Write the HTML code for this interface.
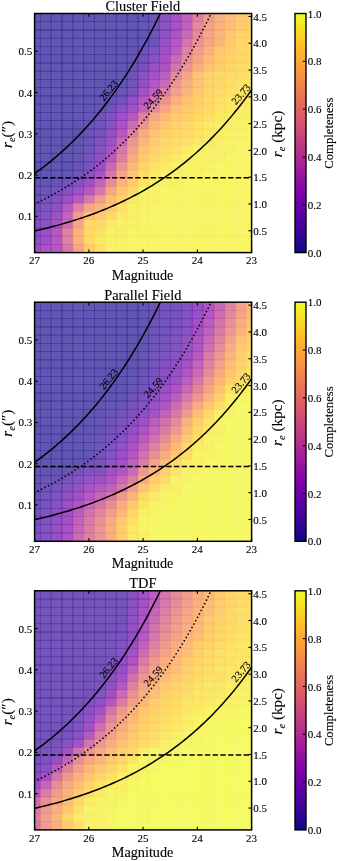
<!DOCTYPE html>
<html><head><meta charset="utf-8"><title>Completeness</title>
<style>html,body{margin:0;padding:0;background:#fff;}body{width:337px;height:861px;overflow:hidden}</style>
</head><body>
<svg width="337" height="861" viewBox="0 0 337 861" style="display:block">
<defs><linearGradient id="cb" x1="0" y1="1" x2="0" y2="0">
<stop offset="0.0000" stop-color="#0d0887"/>
<stop offset="0.0312" stop-color="#220690"/>
<stop offset="0.0625" stop-color="#310597"/>
<stop offset="0.0938" stop-color="#3f049c"/>
<stop offset="0.1250" stop-color="#4c02a1"/>
<stop offset="0.1562" stop-color="#5901a5"/>
<stop offset="0.1875" stop-color="#6600a7"/>
<stop offset="0.2188" stop-color="#7201a8"/>
<stop offset="0.2500" stop-color="#7e03a8"/>
<stop offset="0.2812" stop-color="#8a09a5"/>
<stop offset="0.3125" stop-color="#9511a1"/>
<stop offset="0.3438" stop-color="#a01a9c"/>
<stop offset="0.3750" stop-color="#aa2395"/>
<stop offset="0.4062" stop-color="#b32c8e"/>
<stop offset="0.4375" stop-color="#bc3587"/>
<stop offset="0.4688" stop-color="#c43e7f"/>
<stop offset="0.5000" stop-color="#cc4778"/>
<stop offset="0.5312" stop-color="#d35171"/>
<stop offset="0.5625" stop-color="#da5a6a"/>
<stop offset="0.5938" stop-color="#e06363"/>
<stop offset="0.6250" stop-color="#e66c5c"/>
<stop offset="0.6562" stop-color="#eb7655"/>
<stop offset="0.6875" stop-color="#f0804e"/>
<stop offset="0.7188" stop-color="#f58b47"/>
<stop offset="0.7500" stop-color="#f89540"/>
<stop offset="0.7812" stop-color="#fba139"/>
<stop offset="0.8125" stop-color="#fdac33"/>
<stop offset="0.8438" stop-color="#feb82c"/>
<stop offset="0.8750" stop-color="#fdc527"/>
<stop offset="0.9062" stop-color="#fcd225"/>
<stop offset="0.9375" stop-color="#f8df25"/>
<stop offset="0.9688" stop-color="#f4ed27"/>
<stop offset="1.0000" stop-color="#f0f921"/>
</linearGradient>
<clipPath id="cp"><rect x="34.6" y="13.5" width="217.0" height="239.1"/></clipPath>
</defs>
<rect width="337" height="861" fill="#fff"/>
<g transform="translate(0,0.0)">
<g clip-path="url(#cp)" fill-opacity="0.68" stroke-opacity="0.42" stroke-width="0.62">
<rect x="29.45" y="13.50" width="10.85" height="8.24" fill="#16078a" stroke="#16078a"/>
<rect x="40.30" y="13.50" width="10.85" height="8.24" fill="#16078a" stroke="#16078a"/>
<rect x="51.15" y="13.50" width="10.85" height="8.24" fill="#16078a" stroke="#16078a"/>
<rect x="62.00" y="13.50" width="10.85" height="8.24" fill="#16078a" stroke="#16078a"/>
<rect x="72.85" y="13.50" width="10.85" height="8.24" fill="#16078a" stroke="#16078a"/>
<rect x="83.70" y="13.50" width="10.85" height="8.24" fill="#16078a" stroke="#16078a"/>
<rect x="94.55" y="13.50" width="10.85" height="8.24" fill="#16078a" stroke="#16078a"/>
<rect x="105.40" y="13.50" width="10.85" height="8.24" fill="#16078a" stroke="#16078a"/>
<rect x="116.25" y="13.50" width="10.85" height="8.24" fill="#16078a" stroke="#16078a"/>
<rect x="127.10" y="13.50" width="10.85" height="8.24" fill="#16078a" stroke="#16078a"/>
<rect x="137.95" y="13.50" width="10.85" height="8.24" fill="#1b068d" stroke="#1b068d"/>
<rect x="148.80" y="13.50" width="10.85" height="8.24" fill="#2a0593" stroke="#2a0593"/>
<rect x="159.65" y="13.50" width="10.85" height="8.24" fill="#5102a3" stroke="#5102a3"/>
<rect x="170.50" y="13.50" width="10.85" height="8.24" fill="#7a02a8" stroke="#7a02a8"/>
<rect x="181.35" y="13.50" width="10.85" height="8.24" fill="#9e199d" stroke="#9e199d"/>
<rect x="192.20" y="13.50" width="10.85" height="8.24" fill="#c9447a" stroke="#c9447a"/>
<rect x="203.05" y="13.50" width="10.85" height="8.24" fill="#e76e5b" stroke="#e76e5b"/>
<rect x="213.90" y="13.50" width="10.85" height="8.24" fill="#f68d45" stroke="#f68d45"/>
<rect x="224.75" y="13.50" width="10.85" height="8.24" fill="#fb9f3a" stroke="#fb9f3a"/>
<rect x="235.60" y="13.50" width="10.85" height="8.24" fill="#fdb22f" stroke="#fdb22f"/>
<rect x="246.45" y="13.50" width="10.85" height="8.24" fill="#feba2c" stroke="#feba2c"/>
<rect x="29.45" y="21.74" width="10.85" height="8.24" fill="#16078a" stroke="#16078a"/>
<rect x="40.30" y="21.74" width="10.85" height="8.24" fill="#16078a" stroke="#16078a"/>
<rect x="51.15" y="21.74" width="10.85" height="8.24" fill="#16078a" stroke="#16078a"/>
<rect x="62.00" y="21.74" width="10.85" height="8.24" fill="#16078a" stroke="#16078a"/>
<rect x="72.85" y="21.74" width="10.85" height="8.24" fill="#16078a" stroke="#16078a"/>
<rect x="83.70" y="21.74" width="10.85" height="8.24" fill="#16078a" stroke="#16078a"/>
<rect x="94.55" y="21.74" width="10.85" height="8.24" fill="#16078a" stroke="#16078a"/>
<rect x="105.40" y="21.74" width="10.85" height="8.24" fill="#16078a" stroke="#16078a"/>
<rect x="116.25" y="21.74" width="10.85" height="8.24" fill="#16078a" stroke="#16078a"/>
<rect x="127.10" y="21.74" width="10.85" height="8.24" fill="#16078a" stroke="#16078a"/>
<rect x="137.95" y="21.74" width="10.85" height="8.24" fill="#1b068d" stroke="#1b068d"/>
<rect x="148.80" y="21.74" width="10.85" height="8.24" fill="#2a0593" stroke="#2a0593"/>
<rect x="159.65" y="21.74" width="10.85" height="8.24" fill="#5102a3" stroke="#5102a3"/>
<rect x="170.50" y="21.74" width="10.85" height="8.24" fill="#7a02a8" stroke="#7a02a8"/>
<rect x="181.35" y="21.74" width="10.85" height="8.24" fill="#9e199d" stroke="#9e199d"/>
<rect x="192.20" y="21.74" width="10.85" height="8.24" fill="#d5536f" stroke="#d5536f"/>
<rect x="203.05" y="21.74" width="10.85" height="8.24" fill="#ea7457" stroke="#ea7457"/>
<rect x="213.90" y="21.74" width="10.85" height="8.24" fill="#f68d45" stroke="#f68d45"/>
<rect x="224.75" y="21.74" width="10.85" height="8.24" fill="#fb9f3a" stroke="#fb9f3a"/>
<rect x="235.60" y="21.74" width="10.85" height="8.24" fill="#fdb22f" stroke="#fdb22f"/>
<rect x="246.45" y="21.74" width="10.85" height="8.24" fill="#feba2c" stroke="#feba2c"/>
<rect x="29.45" y="29.99" width="10.85" height="8.24" fill="#16078a" stroke="#16078a"/>
<rect x="40.30" y="29.99" width="10.85" height="8.24" fill="#16078a" stroke="#16078a"/>
<rect x="51.15" y="29.99" width="10.85" height="8.24" fill="#16078a" stroke="#16078a"/>
<rect x="62.00" y="29.99" width="10.85" height="8.24" fill="#16078a" stroke="#16078a"/>
<rect x="72.85" y="29.99" width="10.85" height="8.24" fill="#16078a" stroke="#16078a"/>
<rect x="83.70" y="29.99" width="10.85" height="8.24" fill="#16078a" stroke="#16078a"/>
<rect x="94.55" y="29.99" width="10.85" height="8.24" fill="#16078a" stroke="#16078a"/>
<rect x="105.40" y="29.99" width="10.85" height="8.24" fill="#16078a" stroke="#16078a"/>
<rect x="116.25" y="29.99" width="10.85" height="8.24" fill="#16078a" stroke="#16078a"/>
<rect x="127.10" y="29.99" width="10.85" height="8.24" fill="#16078a" stroke="#16078a"/>
<rect x="137.95" y="29.99" width="10.85" height="8.24" fill="#1b068d" stroke="#1b068d"/>
<rect x="148.80" y="29.99" width="10.85" height="8.24" fill="#2a0593" stroke="#2a0593"/>
<rect x="159.65" y="29.99" width="10.85" height="8.24" fill="#5901a5" stroke="#5901a5"/>
<rect x="170.50" y="29.99" width="10.85" height="8.24" fill="#8104a7" stroke="#8104a7"/>
<rect x="181.35" y="29.99" width="10.85" height="8.24" fill="#ad2793" stroke="#ad2793"/>
<rect x="192.20" y="29.99" width="10.85" height="8.24" fill="#d5536f" stroke="#d5536f"/>
<rect x="203.05" y="29.99" width="10.85" height="8.24" fill="#ef7e50" stroke="#ef7e50"/>
<rect x="213.90" y="29.99" width="10.85" height="8.24" fill="#f89540" stroke="#f89540"/>
<rect x="224.75" y="29.99" width="10.85" height="8.24" fill="#fdab33" stroke="#fdab33"/>
<rect x="235.60" y="29.99" width="10.85" height="8.24" fill="#feba2c" stroke="#feba2c"/>
<rect x="246.45" y="29.99" width="10.85" height="8.24" fill="#fdc627" stroke="#fdc627"/>
<rect x="29.45" y="38.23" width="10.85" height="8.24" fill="#16078a" stroke="#16078a"/>
<rect x="40.30" y="38.23" width="10.85" height="8.24" fill="#16078a" stroke="#16078a"/>
<rect x="51.15" y="38.23" width="10.85" height="8.24" fill="#16078a" stroke="#16078a"/>
<rect x="62.00" y="38.23" width="10.85" height="8.24" fill="#16078a" stroke="#16078a"/>
<rect x="72.85" y="38.23" width="10.85" height="8.24" fill="#16078a" stroke="#16078a"/>
<rect x="83.70" y="38.23" width="10.85" height="8.24" fill="#16078a" stroke="#16078a"/>
<rect x="94.55" y="38.23" width="10.85" height="8.24" fill="#16078a" stroke="#16078a"/>
<rect x="105.40" y="38.23" width="10.85" height="8.24" fill="#16078a" stroke="#16078a"/>
<rect x="116.25" y="38.23" width="10.85" height="8.24" fill="#16078a" stroke="#16078a"/>
<rect x="127.10" y="38.23" width="10.85" height="8.24" fill="#16078a" stroke="#16078a"/>
<rect x="137.95" y="38.23" width="10.85" height="8.24" fill="#1b068d" stroke="#1b068d"/>
<rect x="148.80" y="38.23" width="10.85" height="8.24" fill="#2a0593" stroke="#2a0593"/>
<rect x="159.65" y="38.23" width="10.85" height="8.24" fill="#6600a7" stroke="#6600a7"/>
<rect x="170.50" y="38.23" width="10.85" height="8.24" fill="#8d0ba5" stroke="#8d0ba5"/>
<rect x="181.35" y="38.23" width="10.85" height="8.24" fill="#bc3587" stroke="#bc3587"/>
<rect x="192.20" y="38.23" width="10.85" height="8.24" fill="#df6263" stroke="#df6263"/>
<rect x="203.05" y="38.23" width="10.85" height="8.24" fill="#ef7e50" stroke="#ef7e50"/>
<rect x="213.90" y="38.23" width="10.85" height="8.24" fill="#f89540" stroke="#f89540"/>
<rect x="224.75" y="38.23" width="10.85" height="8.24" fill="#fdb22f" stroke="#fdb22f"/>
<rect x="235.60" y="38.23" width="10.85" height="8.24" fill="#fdc229" stroke="#fdc229"/>
<rect x="246.45" y="38.23" width="10.85" height="8.24" fill="#fdca26" stroke="#fdca26"/>
<rect x="29.45" y="46.48" width="10.85" height="8.24" fill="#16078a" stroke="#16078a"/>
<rect x="40.30" y="46.48" width="10.85" height="8.24" fill="#16078a" stroke="#16078a"/>
<rect x="51.15" y="46.48" width="10.85" height="8.24" fill="#16078a" stroke="#16078a"/>
<rect x="62.00" y="46.48" width="10.85" height="8.24" fill="#16078a" stroke="#16078a"/>
<rect x="72.85" y="46.48" width="10.85" height="8.24" fill="#16078a" stroke="#16078a"/>
<rect x="83.70" y="46.48" width="10.85" height="8.24" fill="#16078a" stroke="#16078a"/>
<rect x="94.55" y="46.48" width="10.85" height="8.24" fill="#16078a" stroke="#16078a"/>
<rect x="105.40" y="46.48" width="10.85" height="8.24" fill="#16078a" stroke="#16078a"/>
<rect x="116.25" y="46.48" width="10.85" height="8.24" fill="#16078a" stroke="#16078a"/>
<rect x="127.10" y="46.48" width="10.85" height="8.24" fill="#1b068d" stroke="#1b068d"/>
<rect x="137.95" y="46.48" width="10.85" height="8.24" fill="#260591" stroke="#260591"/>
<rect x="148.80" y="46.48" width="10.85" height="8.24" fill="#38049a" stroke="#38049a"/>
<rect x="159.65" y="46.48" width="10.85" height="8.24" fill="#6a00a8" stroke="#6a00a8"/>
<rect x="170.50" y="46.48" width="10.85" height="8.24" fill="#9410a2" stroke="#9410a2"/>
<rect x="181.35" y="46.48" width="10.85" height="8.24" fill="#cc4778" stroke="#cc4778"/>
<rect x="192.20" y="46.48" width="10.85" height="8.24" fill="#e76e5b" stroke="#e76e5b"/>
<rect x="203.05" y="46.48" width="10.85" height="8.24" fill="#f68d45" stroke="#f68d45"/>
<rect x="213.90" y="46.48" width="10.85" height="8.24" fill="#fdab33" stroke="#fdab33"/>
<rect x="224.75" y="46.48" width="10.85" height="8.24" fill="#feba2c" stroke="#feba2c"/>
<rect x="235.60" y="46.48" width="10.85" height="8.24" fill="#fdc229" stroke="#fdc229"/>
<rect x="246.45" y="46.48" width="10.85" height="8.24" fill="#fdca26" stroke="#fdca26"/>
<rect x="29.45" y="54.72" width="10.85" height="8.24" fill="#16078a" stroke="#16078a"/>
<rect x="40.30" y="54.72" width="10.85" height="8.24" fill="#16078a" stroke="#16078a"/>
<rect x="51.15" y="54.72" width="10.85" height="8.24" fill="#16078a" stroke="#16078a"/>
<rect x="62.00" y="54.72" width="10.85" height="8.24" fill="#16078a" stroke="#16078a"/>
<rect x="72.85" y="54.72" width="10.85" height="8.24" fill="#16078a" stroke="#16078a"/>
<rect x="83.70" y="54.72" width="10.85" height="8.24" fill="#16078a" stroke="#16078a"/>
<rect x="94.55" y="54.72" width="10.85" height="8.24" fill="#16078a" stroke="#16078a"/>
<rect x="105.40" y="54.72" width="10.85" height="8.24" fill="#16078a" stroke="#16078a"/>
<rect x="116.25" y="54.72" width="10.85" height="8.24" fill="#16078a" stroke="#16078a"/>
<rect x="127.10" y="54.72" width="10.85" height="8.24" fill="#1b068d" stroke="#1b068d"/>
<rect x="137.95" y="54.72" width="10.85" height="8.24" fill="#2a0593" stroke="#2a0593"/>
<rect x="148.80" y="54.72" width="10.85" height="8.24" fill="#5102a3" stroke="#5102a3"/>
<rect x="159.65" y="54.72" width="10.85" height="8.24" fill="#7a02a8" stroke="#7a02a8"/>
<rect x="170.50" y="54.72" width="10.85" height="8.24" fill="#ad2793" stroke="#ad2793"/>
<rect x="181.35" y="54.72" width="10.85" height="8.24" fill="#d6556d" stroke="#d6556d"/>
<rect x="192.20" y="54.72" width="10.85" height="8.24" fill="#ef7e50" stroke="#ef7e50"/>
<rect x="203.05" y="54.72" width="10.85" height="8.24" fill="#fa9c3c" stroke="#fa9c3c"/>
<rect x="213.90" y="54.72" width="10.85" height="8.24" fill="#fdb22f" stroke="#fdb22f"/>
<rect x="224.75" y="54.72" width="10.85" height="8.24" fill="#febe2a" stroke="#febe2a"/>
<rect x="235.60" y="54.72" width="10.85" height="8.24" fill="#fdc627" stroke="#fdc627"/>
<rect x="246.45" y="54.72" width="10.85" height="8.24" fill="#fdca26" stroke="#fdca26"/>
<rect x="29.45" y="62.97" width="10.85" height="8.24" fill="#16078a" stroke="#16078a"/>
<rect x="40.30" y="62.97" width="10.85" height="8.24" fill="#16078a" stroke="#16078a"/>
<rect x="51.15" y="62.97" width="10.85" height="8.24" fill="#16078a" stroke="#16078a"/>
<rect x="62.00" y="62.97" width="10.85" height="8.24" fill="#16078a" stroke="#16078a"/>
<rect x="72.85" y="62.97" width="10.85" height="8.24" fill="#16078a" stroke="#16078a"/>
<rect x="83.70" y="62.97" width="10.85" height="8.24" fill="#16078a" stroke="#16078a"/>
<rect x="94.55" y="62.97" width="10.85" height="8.24" fill="#16078a" stroke="#16078a"/>
<rect x="105.40" y="62.97" width="10.85" height="8.24" fill="#16078a" stroke="#16078a"/>
<rect x="116.25" y="62.97" width="10.85" height="8.24" fill="#16078a" stroke="#16078a"/>
<rect x="127.10" y="62.97" width="10.85" height="8.24" fill="#20068f" stroke="#20068f"/>
<rect x="137.95" y="62.97" width="10.85" height="8.24" fill="#330597" stroke="#330597"/>
<rect x="148.80" y="62.97" width="10.85" height="8.24" fill="#6600a7" stroke="#6600a7"/>
<rect x="159.65" y="62.97" width="10.85" height="8.24" fill="#8104a7" stroke="#8104a7"/>
<rect x="170.50" y="62.97" width="10.85" height="8.24" fill="#bc3587" stroke="#bc3587"/>
<rect x="181.35" y="62.97" width="10.85" height="8.24" fill="#e16462" stroke="#e16462"/>
<rect x="192.20" y="62.97" width="10.85" height="8.24" fill="#f58b47" stroke="#f58b47"/>
<rect x="203.05" y="62.97" width="10.85" height="8.24" fill="#fca636" stroke="#fca636"/>
<rect x="213.90" y="62.97" width="10.85" height="8.24" fill="#feb82c" stroke="#feb82c"/>
<rect x="224.75" y="62.97" width="10.85" height="8.24" fill="#fdc229" stroke="#fdc229"/>
<rect x="235.60" y="62.97" width="10.85" height="8.24" fill="#fdca26" stroke="#fdca26"/>
<rect x="246.45" y="62.97" width="10.85" height="8.24" fill="#fcd225" stroke="#fcd225"/>
<rect x="29.45" y="71.21" width="10.85" height="8.24" fill="#16078a" stroke="#16078a"/>
<rect x="40.30" y="71.21" width="10.85" height="8.24" fill="#16078a" stroke="#16078a"/>
<rect x="51.15" y="71.21" width="10.85" height="8.24" fill="#16078a" stroke="#16078a"/>
<rect x="62.00" y="71.21" width="10.85" height="8.24" fill="#16078a" stroke="#16078a"/>
<rect x="72.85" y="71.21" width="10.85" height="8.24" fill="#16078a" stroke="#16078a"/>
<rect x="83.70" y="71.21" width="10.85" height="8.24" fill="#16078a" stroke="#16078a"/>
<rect x="94.55" y="71.21" width="10.85" height="8.24" fill="#16078a" stroke="#16078a"/>
<rect x="105.40" y="71.21" width="10.85" height="8.24" fill="#16078a" stroke="#16078a"/>
<rect x="116.25" y="71.21" width="10.85" height="8.24" fill="#1b068d" stroke="#1b068d"/>
<rect x="127.10" y="71.21" width="10.85" height="8.24" fill="#260591" stroke="#260591"/>
<rect x="137.95" y="71.21" width="10.85" height="8.24" fill="#5102a3" stroke="#5102a3"/>
<rect x="148.80" y="71.21" width="10.85" height="8.24" fill="#7a02a8" stroke="#7a02a8"/>
<rect x="159.65" y="71.21" width="10.85" height="8.24" fill="#9613a1" stroke="#9613a1"/>
<rect x="170.50" y="71.21" width="10.85" height="8.24" fill="#d5536f" stroke="#d5536f"/>
<rect x="181.35" y="71.21" width="10.85" height="8.24" fill="#ef7e50" stroke="#ef7e50"/>
<rect x="192.20" y="71.21" width="10.85" height="8.24" fill="#fca636" stroke="#fca636"/>
<rect x="203.05" y="71.21" width="10.85" height="8.24" fill="#febb2b" stroke="#febb2b"/>
<rect x="213.90" y="71.21" width="10.85" height="8.24" fill="#fdc527" stroke="#fdc527"/>
<rect x="224.75" y="71.21" width="10.85" height="8.24" fill="#fdca26" stroke="#fdca26"/>
<rect x="235.60" y="71.21" width="10.85" height="8.24" fill="#fcce25" stroke="#fcce25"/>
<rect x="246.45" y="71.21" width="10.85" height="8.24" fill="#fbd324" stroke="#fbd324"/>
<rect x="29.45" y="79.46" width="10.85" height="8.24" fill="#16078a" stroke="#16078a"/>
<rect x="40.30" y="79.46" width="10.85" height="8.24" fill="#16078a" stroke="#16078a"/>
<rect x="51.15" y="79.46" width="10.85" height="8.24" fill="#16078a" stroke="#16078a"/>
<rect x="62.00" y="79.46" width="10.85" height="8.24" fill="#16078a" stroke="#16078a"/>
<rect x="72.85" y="79.46" width="10.85" height="8.24" fill="#16078a" stroke="#16078a"/>
<rect x="83.70" y="79.46" width="10.85" height="8.24" fill="#16078a" stroke="#16078a"/>
<rect x="94.55" y="79.46" width="10.85" height="8.24" fill="#16078a" stroke="#16078a"/>
<rect x="105.40" y="79.46" width="10.85" height="8.24" fill="#16078a" stroke="#16078a"/>
<rect x="116.25" y="79.46" width="10.85" height="8.24" fill="#1b068d" stroke="#1b068d"/>
<rect x="127.10" y="79.46" width="10.85" height="8.24" fill="#2a0593" stroke="#2a0593"/>
<rect x="137.95" y="79.46" width="10.85" height="8.24" fill="#5901a5" stroke="#5901a5"/>
<rect x="148.80" y="79.46" width="10.85" height="8.24" fill="#8d0ba5" stroke="#8d0ba5"/>
<rect x="159.65" y="79.46" width="10.85" height="8.24" fill="#ad2793" stroke="#ad2793"/>
<rect x="170.50" y="79.46" width="10.85" height="8.24" fill="#e16462" stroke="#e16462"/>
<rect x="181.35" y="79.46" width="10.85" height="8.24" fill="#f58b47" stroke="#f58b47"/>
<rect x="192.20" y="79.46" width="10.85" height="8.24" fill="#fca636" stroke="#fca636"/>
<rect x="203.05" y="79.46" width="10.85" height="8.24" fill="#feba2c" stroke="#feba2c"/>
<rect x="213.90" y="79.46" width="10.85" height="8.24" fill="#fdc627" stroke="#fdc627"/>
<rect x="224.75" y="79.46" width="10.85" height="8.24" fill="#fcce25" stroke="#fcce25"/>
<rect x="235.60" y="79.46" width="10.85" height="8.24" fill="#fbd324" stroke="#fbd324"/>
<rect x="246.45" y="79.46" width="10.85" height="8.24" fill="#fada24" stroke="#fada24"/>
<rect x="29.45" y="87.70" width="10.85" height="8.24" fill="#16078a" stroke="#16078a"/>
<rect x="40.30" y="87.70" width="10.85" height="8.24" fill="#16078a" stroke="#16078a"/>
<rect x="51.15" y="87.70" width="10.85" height="8.24" fill="#16078a" stroke="#16078a"/>
<rect x="62.00" y="87.70" width="10.85" height="8.24" fill="#16078a" stroke="#16078a"/>
<rect x="72.85" y="87.70" width="10.85" height="8.24" fill="#16078a" stroke="#16078a"/>
<rect x="83.70" y="87.70" width="10.85" height="8.24" fill="#16078a" stroke="#16078a"/>
<rect x="94.55" y="87.70" width="10.85" height="8.24" fill="#16078a" stroke="#16078a"/>
<rect x="105.40" y="87.70" width="10.85" height="8.24" fill="#1b068d" stroke="#1b068d"/>
<rect x="116.25" y="87.70" width="10.85" height="8.24" fill="#260591" stroke="#260591"/>
<rect x="127.10" y="87.70" width="10.85" height="8.24" fill="#38049a" stroke="#38049a"/>
<rect x="137.95" y="87.70" width="10.85" height="8.24" fill="#7201a8" stroke="#7201a8"/>
<rect x="148.80" y="87.70" width="10.85" height="8.24" fill="#9e199d" stroke="#9e199d"/>
<rect x="159.65" y="87.70" width="10.85" height="8.24" fill="#c9447a" stroke="#c9447a"/>
<rect x="170.50" y="87.70" width="10.85" height="8.24" fill="#ea7457" stroke="#ea7457"/>
<rect x="181.35" y="87.70" width="10.85" height="8.24" fill="#f89540" stroke="#f89540"/>
<rect x="192.20" y="87.70" width="10.85" height="8.24" fill="#fdae32" stroke="#fdae32"/>
<rect x="203.05" y="87.70" width="10.85" height="8.24" fill="#fdc229" stroke="#fdc229"/>
<rect x="213.90" y="87.70" width="10.85" height="8.24" fill="#fdca26" stroke="#fdca26"/>
<rect x="224.75" y="87.70" width="10.85" height="8.24" fill="#fbd324" stroke="#fbd324"/>
<rect x="235.60" y="87.70" width="10.85" height="8.24" fill="#fada24" stroke="#fada24"/>
<rect x="246.45" y="87.70" width="10.85" height="8.24" fill="#f8df25" stroke="#f8df25"/>
<rect x="29.45" y="95.95" width="10.85" height="8.24" fill="#16078a" stroke="#16078a"/>
<rect x="40.30" y="95.95" width="10.85" height="8.24" fill="#16078a" stroke="#16078a"/>
<rect x="51.15" y="95.95" width="10.85" height="8.24" fill="#16078a" stroke="#16078a"/>
<rect x="62.00" y="95.95" width="10.85" height="8.24" fill="#16078a" stroke="#16078a"/>
<rect x="72.85" y="95.95" width="10.85" height="8.24" fill="#16078a" stroke="#16078a"/>
<rect x="83.70" y="95.95" width="10.85" height="8.24" fill="#16078a" stroke="#16078a"/>
<rect x="94.55" y="95.95" width="10.85" height="8.24" fill="#1b068d" stroke="#1b068d"/>
<rect x="105.40" y="95.95" width="10.85" height="8.24" fill="#20068f" stroke="#20068f"/>
<rect x="116.25" y="95.95" width="10.85" height="8.24" fill="#2f0596" stroke="#2f0596"/>
<rect x="127.10" y="95.95" width="10.85" height="8.24" fill="#5901a5" stroke="#5901a5"/>
<rect x="137.95" y="95.95" width="10.85" height="8.24" fill="#8d0ba5" stroke="#8d0ba5"/>
<rect x="148.80" y="95.95" width="10.85" height="8.24" fill="#b6308b" stroke="#b6308b"/>
<rect x="159.65" y="95.95" width="10.85" height="8.24" fill="#df6263" stroke="#df6263"/>
<rect x="170.50" y="95.95" width="10.85" height="8.24" fill="#f58b47" stroke="#f58b47"/>
<rect x="181.35" y="95.95" width="10.85" height="8.24" fill="#fca636" stroke="#fca636"/>
<rect x="192.20" y="95.95" width="10.85" height="8.24" fill="#feb82c" stroke="#feb82c"/>
<rect x="203.05" y="95.95" width="10.85" height="8.24" fill="#fdc527" stroke="#fdc527"/>
<rect x="213.90" y="95.95" width="10.85" height="8.24" fill="#fccd25" stroke="#fccd25"/>
<rect x="224.75" y="95.95" width="10.85" height="8.24" fill="#fbd724" stroke="#fbd724"/>
<rect x="235.60" y="95.95" width="10.85" height="8.24" fill="#f9dc24" stroke="#f9dc24"/>
<rect x="246.45" y="95.95" width="10.85" height="8.24" fill="#f7e225" stroke="#f7e225"/>
<rect x="29.45" y="104.19" width="10.85" height="8.24" fill="#16078a" stroke="#16078a"/>
<rect x="40.30" y="104.19" width="10.85" height="8.24" fill="#16078a" stroke="#16078a"/>
<rect x="51.15" y="104.19" width="10.85" height="8.24" fill="#16078a" stroke="#16078a"/>
<rect x="62.00" y="104.19" width="10.85" height="8.24" fill="#16078a" stroke="#16078a"/>
<rect x="72.85" y="104.19" width="10.85" height="8.24" fill="#16078a" stroke="#16078a"/>
<rect x="83.70" y="104.19" width="10.85" height="8.24" fill="#16078a" stroke="#16078a"/>
<rect x="94.55" y="104.19" width="10.85" height="8.24" fill="#20068f" stroke="#20068f"/>
<rect x="105.40" y="104.19" width="10.85" height="8.24" fill="#2a0593" stroke="#2a0593"/>
<rect x="116.25" y="104.19" width="10.85" height="8.24" fill="#5102a3" stroke="#5102a3"/>
<rect x="127.10" y="104.19" width="10.85" height="8.24" fill="#7201a8" stroke="#7201a8"/>
<rect x="137.95" y="104.19" width="10.85" height="8.24" fill="#9e199d" stroke="#9e199d"/>
<rect x="148.80" y="104.19" width="10.85" height="8.24" fill="#d5536f" stroke="#d5536f"/>
<rect x="159.65" y="104.19" width="10.85" height="8.24" fill="#ef7e50" stroke="#ef7e50"/>
<rect x="170.50" y="104.19" width="10.85" height="8.24" fill="#fb9f3a" stroke="#fb9f3a"/>
<rect x="181.35" y="104.19" width="10.85" height="8.24" fill="#fdb22f" stroke="#fdb22f"/>
<rect x="192.20" y="104.19" width="10.85" height="8.24" fill="#fec029" stroke="#fec029"/>
<rect x="203.05" y="104.19" width="10.85" height="8.24" fill="#fdca26" stroke="#fdca26"/>
<rect x="213.90" y="104.19" width="10.85" height="8.24" fill="#fbd324" stroke="#fbd324"/>
<rect x="224.75" y="104.19" width="10.85" height="8.24" fill="#f9dc24" stroke="#f9dc24"/>
<rect x="235.60" y="104.19" width="10.85" height="8.24" fill="#f7e225" stroke="#f7e225"/>
<rect x="246.45" y="104.19" width="10.85" height="8.24" fill="#f6e826" stroke="#f6e826"/>
<rect x="29.45" y="112.44" width="10.85" height="8.24" fill="#16078a" stroke="#16078a"/>
<rect x="40.30" y="112.44" width="10.85" height="8.24" fill="#16078a" stroke="#16078a"/>
<rect x="51.15" y="112.44" width="10.85" height="8.24" fill="#16078a" stroke="#16078a"/>
<rect x="62.00" y="112.44" width="10.85" height="8.24" fill="#16078a" stroke="#16078a"/>
<rect x="72.85" y="112.44" width="10.85" height="8.24" fill="#16078a" stroke="#16078a"/>
<rect x="83.70" y="112.44" width="10.85" height="8.24" fill="#1b068d" stroke="#1b068d"/>
<rect x="94.55" y="112.44" width="10.85" height="8.24" fill="#2a0593" stroke="#2a0593"/>
<rect x="105.40" y="112.44" width="10.85" height="8.24" fill="#41049d" stroke="#41049d"/>
<rect x="116.25" y="112.44" width="10.85" height="8.24" fill="#6a00a8" stroke="#6a00a8"/>
<rect x="127.10" y="112.44" width="10.85" height="8.24" fill="#8f0da4" stroke="#8f0da4"/>
<rect x="137.95" y="112.44" width="10.85" height="8.24" fill="#cc4778" stroke="#cc4778"/>
<rect x="148.80" y="112.44" width="10.85" height="8.24" fill="#ef7e50" stroke="#ef7e50"/>
<rect x="159.65" y="112.44" width="10.85" height="8.24" fill="#f9983e" stroke="#f9983e"/>
<rect x="170.50" y="112.44" width="10.85" height="8.24" fill="#fdb130" stroke="#fdb130"/>
<rect x="181.35" y="112.44" width="10.85" height="8.24" fill="#febb2b" stroke="#febb2b"/>
<rect x="192.20" y="112.44" width="10.85" height="8.24" fill="#fdc827" stroke="#fdc827"/>
<rect x="203.05" y="112.44" width="10.85" height="8.24" fill="#fbd324" stroke="#fbd324"/>
<rect x="213.90" y="112.44" width="10.85" height="8.24" fill="#f9dc24" stroke="#f9dc24"/>
<rect x="224.75" y="112.44" width="10.85" height="8.24" fill="#f7e225" stroke="#f7e225"/>
<rect x="235.60" y="112.44" width="10.85" height="8.24" fill="#f6e826" stroke="#f6e826"/>
<rect x="246.45" y="112.44" width="10.85" height="8.24" fill="#f5eb27" stroke="#f5eb27"/>
<rect x="29.45" y="120.68" width="10.85" height="8.24" fill="#16078a" stroke="#16078a"/>
<rect x="40.30" y="120.68" width="10.85" height="8.24" fill="#16078a" stroke="#16078a"/>
<rect x="51.15" y="120.68" width="10.85" height="8.24" fill="#16078a" stroke="#16078a"/>
<rect x="62.00" y="120.68" width="10.85" height="8.24" fill="#16078a" stroke="#16078a"/>
<rect x="72.85" y="120.68" width="10.85" height="8.24" fill="#16078a" stroke="#16078a"/>
<rect x="83.70" y="120.68" width="10.85" height="8.24" fill="#20068f" stroke="#20068f"/>
<rect x="94.55" y="120.68" width="10.85" height="8.24" fill="#2f0596" stroke="#2f0596"/>
<rect x="105.40" y="120.68" width="10.85" height="8.24" fill="#4903a0" stroke="#4903a0"/>
<rect x="116.25" y="120.68" width="10.85" height="8.24" fill="#7e03a8" stroke="#7e03a8"/>
<rect x="127.10" y="120.68" width="10.85" height="8.24" fill="#b12a90" stroke="#b12a90"/>
<rect x="137.95" y="120.68" width="10.85" height="8.24" fill="#e16462" stroke="#e16462"/>
<rect x="148.80" y="120.68" width="10.85" height="8.24" fill="#f89540" stroke="#f89540"/>
<rect x="159.65" y="120.68" width="10.85" height="8.24" fill="#fdab33" stroke="#fdab33"/>
<rect x="170.50" y="120.68" width="10.85" height="8.24" fill="#feba2c" stroke="#feba2c"/>
<rect x="181.35" y="120.68" width="10.85" height="8.24" fill="#fdc527" stroke="#fdc527"/>
<rect x="192.20" y="120.68" width="10.85" height="8.24" fill="#fcd225" stroke="#fcd225"/>
<rect x="203.05" y="120.68" width="10.85" height="8.24" fill="#f9dc24" stroke="#f9dc24"/>
<rect x="213.90" y="120.68" width="10.85" height="8.24" fill="#f7e225" stroke="#f7e225"/>
<rect x="224.75" y="120.68" width="10.85" height="8.24" fill="#f6e826" stroke="#f6e826"/>
<rect x="235.60" y="120.68" width="10.85" height="8.24" fill="#f5eb27" stroke="#f5eb27"/>
<rect x="246.45" y="120.68" width="10.85" height="8.24" fill="#f3ee27" stroke="#f3ee27"/>
<rect x="29.45" y="128.93" width="10.85" height="8.24" fill="#16078a" stroke="#16078a"/>
<rect x="40.30" y="128.93" width="10.85" height="8.24" fill="#16078a" stroke="#16078a"/>
<rect x="51.15" y="128.93" width="10.85" height="8.24" fill="#16078a" stroke="#16078a"/>
<rect x="62.00" y="128.93" width="10.85" height="8.24" fill="#16078a" stroke="#16078a"/>
<rect x="72.85" y="128.93" width="10.85" height="8.24" fill="#16078a" stroke="#16078a"/>
<rect x="83.70" y="128.93" width="10.85" height="8.24" fill="#20068f" stroke="#20068f"/>
<rect x="94.55" y="128.93" width="10.85" height="8.24" fill="#38049a" stroke="#38049a"/>
<rect x="105.40" y="128.93" width="10.85" height="8.24" fill="#6300a7" stroke="#6300a7"/>
<rect x="116.25" y="128.93" width="10.85" height="8.24" fill="#8f0da4" stroke="#8f0da4"/>
<rect x="127.10" y="128.93" width="10.85" height="8.24" fill="#cc4778" stroke="#cc4778"/>
<rect x="137.95" y="128.93" width="10.85" height="8.24" fill="#f2844b" stroke="#f2844b"/>
<rect x="148.80" y="128.93" width="10.85" height="8.24" fill="#fca636" stroke="#fca636"/>
<rect x="159.65" y="128.93" width="10.85" height="8.24" fill="#feb72d" stroke="#feb72d"/>
<rect x="170.50" y="128.93" width="10.85" height="8.24" fill="#fdc229" stroke="#fdc229"/>
<rect x="181.35" y="128.93" width="10.85" height="8.24" fill="#fdca26" stroke="#fdca26"/>
<rect x="192.20" y="128.93" width="10.85" height="8.24" fill="#fbd324" stroke="#fbd324"/>
<rect x="203.05" y="128.93" width="10.85" height="8.24" fill="#f8df25" stroke="#f8df25"/>
<rect x="213.90" y="128.93" width="10.85" height="8.24" fill="#f6e626" stroke="#f6e626"/>
<rect x="224.75" y="128.93" width="10.85" height="8.24" fill="#f5eb27" stroke="#f5eb27"/>
<rect x="235.60" y="128.93" width="10.85" height="8.24" fill="#f3ee27" stroke="#f3ee27"/>
<rect x="246.45" y="128.93" width="10.85" height="8.24" fill="#f3f027" stroke="#f3f027"/>
<rect x="29.45" y="137.17" width="10.85" height="8.24" fill="#16078a" stroke="#16078a"/>
<rect x="40.30" y="137.17" width="10.85" height="8.24" fill="#16078a" stroke="#16078a"/>
<rect x="51.15" y="137.17" width="10.85" height="8.24" fill="#16078a" stroke="#16078a"/>
<rect x="62.00" y="137.17" width="10.85" height="8.24" fill="#16078a" stroke="#16078a"/>
<rect x="72.85" y="137.17" width="10.85" height="8.24" fill="#16078a" stroke="#16078a"/>
<rect x="83.70" y="137.17" width="10.85" height="8.24" fill="#260591" stroke="#260591"/>
<rect x="94.55" y="137.17" width="10.85" height="8.24" fill="#41049d" stroke="#41049d"/>
<rect x="105.40" y="137.17" width="10.85" height="8.24" fill="#6a00a8" stroke="#6a00a8"/>
<rect x="116.25" y="137.17" width="10.85" height="8.24" fill="#ab2494" stroke="#ab2494"/>
<rect x="127.10" y="137.17" width="10.85" height="8.24" fill="#e16462" stroke="#e16462"/>
<rect x="137.95" y="137.17" width="10.85" height="8.24" fill="#f89540" stroke="#f89540"/>
<rect x="148.80" y="137.17" width="10.85" height="8.24" fill="#fdb22f" stroke="#fdb22f"/>
<rect x="159.65" y="137.17" width="10.85" height="8.24" fill="#fdc229" stroke="#fdc229"/>
<rect x="170.50" y="137.17" width="10.85" height="8.24" fill="#fdca26" stroke="#fdca26"/>
<rect x="181.35" y="137.17" width="10.85" height="8.24" fill="#fcd225" stroke="#fcd225"/>
<rect x="192.20" y="137.17" width="10.85" height="8.24" fill="#fada24" stroke="#fada24"/>
<rect x="203.05" y="137.17" width="10.85" height="8.24" fill="#f7e225" stroke="#f7e225"/>
<rect x="213.90" y="137.17" width="10.85" height="8.24" fill="#f6e826" stroke="#f6e826"/>
<rect x="224.75" y="137.17" width="10.85" height="8.24" fill="#f5eb27" stroke="#f5eb27"/>
<rect x="235.60" y="137.17" width="10.85" height="8.24" fill="#f3ee27" stroke="#f3ee27"/>
<rect x="246.45" y="137.17" width="10.85" height="8.24" fill="#f3f027" stroke="#f3f027"/>
<rect x="29.45" y="145.42" width="10.85" height="8.24" fill="#16078a" stroke="#16078a"/>
<rect x="40.30" y="145.42" width="10.85" height="8.24" fill="#16078a" stroke="#16078a"/>
<rect x="51.15" y="145.42" width="10.85" height="8.24" fill="#16078a" stroke="#16078a"/>
<rect x="62.00" y="145.42" width="10.85" height="8.24" fill="#16078a" stroke="#16078a"/>
<rect x="72.85" y="145.42" width="10.85" height="8.24" fill="#16078a" stroke="#16078a"/>
<rect x="83.70" y="145.42" width="10.85" height="8.24" fill="#2a0593" stroke="#2a0593"/>
<rect x="94.55" y="145.42" width="10.85" height="8.24" fill="#4903a0" stroke="#4903a0"/>
<rect x="105.40" y="145.42" width="10.85" height="8.24" fill="#7e03a8" stroke="#7e03a8"/>
<rect x="116.25" y="145.42" width="10.85" height="8.24" fill="#bf3984" stroke="#bf3984"/>
<rect x="127.10" y="145.42" width="10.85" height="8.24" fill="#ea7457" stroke="#ea7457"/>
<rect x="137.95" y="145.42" width="10.85" height="8.24" fill="#fca338" stroke="#fca338"/>
<rect x="148.80" y="145.42" width="10.85" height="8.24" fill="#febe2a" stroke="#febe2a"/>
<rect x="159.65" y="145.42" width="10.85" height="8.24" fill="#fdca26" stroke="#fdca26"/>
<rect x="170.50" y="145.42" width="10.85" height="8.24" fill="#fbd324" stroke="#fbd324"/>
<rect x="181.35" y="145.42" width="10.85" height="8.24" fill="#f8df25" stroke="#f8df25"/>
<rect x="192.20" y="145.42" width="10.85" height="8.24" fill="#f5eb27" stroke="#f5eb27"/>
<rect x="203.05" y="145.42" width="10.85" height="8.24" fill="#f5eb27" stroke="#f5eb27"/>
<rect x="213.90" y="145.42" width="10.85" height="8.24" fill="#f5eb27" stroke="#f5eb27"/>
<rect x="224.75" y="145.42" width="10.85" height="8.24" fill="#f5eb27" stroke="#f5eb27"/>
<rect x="235.60" y="145.42" width="10.85" height="8.24" fill="#f3f027" stroke="#f3f027"/>
<rect x="246.45" y="145.42" width="10.85" height="8.24" fill="#f3f027" stroke="#f3f027"/>
<rect x="29.45" y="153.66" width="10.85" height="8.24" fill="#16078a" stroke="#16078a"/>
<rect x="40.30" y="153.66" width="10.85" height="8.24" fill="#16078a" stroke="#16078a"/>
<rect x="51.15" y="153.66" width="10.85" height="8.24" fill="#16078a" stroke="#16078a"/>
<rect x="62.00" y="153.66" width="10.85" height="8.24" fill="#16078a" stroke="#16078a"/>
<rect x="72.85" y="153.66" width="10.85" height="8.24" fill="#20068f" stroke="#20068f"/>
<rect x="83.70" y="153.66" width="10.85" height="8.24" fill="#330597" stroke="#330597"/>
<rect x="94.55" y="153.66" width="10.85" height="8.24" fill="#5601a4" stroke="#5601a4"/>
<rect x="105.40" y="153.66" width="10.85" height="8.24" fill="#8f0da4" stroke="#8f0da4"/>
<rect x="116.25" y="153.66" width="10.85" height="8.24" fill="#cc4778" stroke="#cc4778"/>
<rect x="127.10" y="153.66" width="10.85" height="8.24" fill="#f2844b" stroke="#f2844b"/>
<rect x="137.95" y="153.66" width="10.85" height="8.24" fill="#fdb22f" stroke="#fdb22f"/>
<rect x="148.80" y="153.66" width="10.85" height="8.24" fill="#fdc627" stroke="#fdc627"/>
<rect x="159.65" y="153.66" width="10.85" height="8.24" fill="#fbd324" stroke="#fbd324"/>
<rect x="170.50" y="153.66" width="10.85" height="8.24" fill="#f8df25" stroke="#f8df25"/>
<rect x="181.35" y="153.66" width="10.85" height="8.24" fill="#f5eb27" stroke="#f5eb27"/>
<rect x="192.20" y="153.66" width="10.85" height="8.24" fill="#f5eb27" stroke="#f5eb27"/>
<rect x="203.05" y="153.66" width="10.85" height="8.24" fill="#f5eb27" stroke="#f5eb27"/>
<rect x="213.90" y="153.66" width="10.85" height="8.24" fill="#f5eb27" stroke="#f5eb27"/>
<rect x="224.75" y="153.66" width="10.85" height="8.24" fill="#f3f027" stroke="#f3f027"/>
<rect x="235.60" y="153.66" width="10.85" height="8.24" fill="#f3f027" stroke="#f3f027"/>
<rect x="246.45" y="153.66" width="10.85" height="8.24" fill="#f3f027" stroke="#f3f027"/>
<rect x="29.45" y="161.91" width="10.85" height="8.24" fill="#16078a" stroke="#16078a"/>
<rect x="40.30" y="161.91" width="10.85" height="8.24" fill="#16078a" stroke="#16078a"/>
<rect x="51.15" y="161.91" width="10.85" height="8.24" fill="#16078a" stroke="#16078a"/>
<rect x="62.00" y="161.91" width="10.85" height="8.24" fill="#16078a" stroke="#16078a"/>
<rect x="72.85" y="161.91" width="10.85" height="8.24" fill="#260591" stroke="#260591"/>
<rect x="83.70" y="161.91" width="10.85" height="8.24" fill="#38049a" stroke="#38049a"/>
<rect x="94.55" y="161.91" width="10.85" height="8.24" fill="#6a00a8" stroke="#6a00a8"/>
<rect x="105.40" y="161.91" width="10.85" height="8.24" fill="#ab2494" stroke="#ab2494"/>
<rect x="116.25" y="161.91" width="10.85" height="8.24" fill="#e16462" stroke="#e16462"/>
<rect x="127.10" y="161.91" width="10.85" height="8.24" fill="#f9983e" stroke="#f9983e"/>
<rect x="137.95" y="161.91" width="10.85" height="8.24" fill="#febe2a" stroke="#febe2a"/>
<rect x="148.80" y="161.91" width="10.85" height="8.24" fill="#fbd324" stroke="#fbd324"/>
<rect x="159.65" y="161.91" width="10.85" height="8.24" fill="#f8df25" stroke="#f8df25"/>
<rect x="170.50" y="161.91" width="10.85" height="8.24" fill="#f5eb27" stroke="#f5eb27"/>
<rect x="181.35" y="161.91" width="10.85" height="8.24" fill="#f5eb27" stroke="#f5eb27"/>
<rect x="192.20" y="161.91" width="10.85" height="8.24" fill="#f5eb27" stroke="#f5eb27"/>
<rect x="203.05" y="161.91" width="10.85" height="8.24" fill="#f5eb27" stroke="#f5eb27"/>
<rect x="213.90" y="161.91" width="10.85" height="8.24" fill="#f3f027" stroke="#f3f027"/>
<rect x="224.75" y="161.91" width="10.85" height="8.24" fill="#f3f027" stroke="#f3f027"/>
<rect x="235.60" y="161.91" width="10.85" height="8.24" fill="#f3f027" stroke="#f3f027"/>
<rect x="246.45" y="161.91" width="10.85" height="8.24" fill="#f3f027" stroke="#f3f027"/>
<rect x="29.45" y="170.15" width="10.85" height="8.24" fill="#16078a" stroke="#16078a"/>
<rect x="40.30" y="170.15" width="10.85" height="8.24" fill="#16078a" stroke="#16078a"/>
<rect x="51.15" y="170.15" width="10.85" height="8.24" fill="#16078a" stroke="#16078a"/>
<rect x="62.00" y="170.15" width="10.85" height="8.24" fill="#1b068d" stroke="#1b068d"/>
<rect x="72.85" y="170.15" width="10.85" height="8.24" fill="#2a0593" stroke="#2a0593"/>
<rect x="83.70" y="170.15" width="10.85" height="8.24" fill="#4903a0" stroke="#4903a0"/>
<rect x="94.55" y="170.15" width="10.85" height="8.24" fill="#7e03a8" stroke="#7e03a8"/>
<rect x="105.40" y="170.15" width="10.85" height="8.24" fill="#bf3984" stroke="#bf3984"/>
<rect x="116.25" y="170.15" width="10.85" height="8.24" fill="#ef7e50" stroke="#ef7e50"/>
<rect x="127.10" y="170.15" width="10.85" height="8.24" fill="#fca636" stroke="#fca636"/>
<rect x="137.95" y="170.15" width="10.85" height="8.24" fill="#fdca26" stroke="#fdca26"/>
<rect x="148.80" y="170.15" width="10.85" height="8.24" fill="#f8df25" stroke="#f8df25"/>
<rect x="159.65" y="170.15" width="10.85" height="8.24" fill="#f5eb27" stroke="#f5eb27"/>
<rect x="170.50" y="170.15" width="10.85" height="8.24" fill="#f5eb27" stroke="#f5eb27"/>
<rect x="181.35" y="170.15" width="10.85" height="8.24" fill="#f5eb27" stroke="#f5eb27"/>
<rect x="192.20" y="170.15" width="10.85" height="8.24" fill="#f5eb27" stroke="#f5eb27"/>
<rect x="203.05" y="170.15" width="10.85" height="8.24" fill="#f3f027" stroke="#f3f027"/>
<rect x="213.90" y="170.15" width="10.85" height="8.24" fill="#f3f027" stroke="#f3f027"/>
<rect x="224.75" y="170.15" width="10.85" height="8.24" fill="#f3f027" stroke="#f3f027"/>
<rect x="235.60" y="170.15" width="10.85" height="8.24" fill="#f3f027" stroke="#f3f027"/>
<rect x="246.45" y="170.15" width="10.85" height="8.24" fill="#f3f027" stroke="#f3f027"/>
<rect x="29.45" y="178.40" width="10.85" height="8.24" fill="#1b068d" stroke="#1b068d"/>
<rect x="40.30" y="178.40" width="10.85" height="8.24" fill="#1b068d" stroke="#1b068d"/>
<rect x="51.15" y="178.40" width="10.85" height="8.24" fill="#1b068d" stroke="#1b068d"/>
<rect x="62.00" y="178.40" width="10.85" height="8.24" fill="#2a0593" stroke="#2a0593"/>
<rect x="72.85" y="178.40" width="10.85" height="8.24" fill="#41049d" stroke="#41049d"/>
<rect x="83.70" y="178.40" width="10.85" height="8.24" fill="#6a00a8" stroke="#6a00a8"/>
<rect x="94.55" y="178.40" width="10.85" height="8.24" fill="#a11b9b" stroke="#a11b9b"/>
<rect x="105.40" y="178.40" width="10.85" height="8.24" fill="#d6556d" stroke="#d6556d"/>
<rect x="116.25" y="178.40" width="10.85" height="8.24" fill="#f68d45" stroke="#f68d45"/>
<rect x="127.10" y="178.40" width="10.85" height="8.24" fill="#fdb22f" stroke="#fdb22f"/>
<rect x="137.95" y="178.40" width="10.85" height="8.24" fill="#fbd324" stroke="#fbd324"/>
<rect x="148.80" y="178.40" width="10.85" height="8.24" fill="#f6e626" stroke="#f6e626"/>
<rect x="159.65" y="178.40" width="10.85" height="8.24" fill="#f5eb27" stroke="#f5eb27"/>
<rect x="170.50" y="178.40" width="10.85" height="8.24" fill="#f5eb27" stroke="#f5eb27"/>
<rect x="181.35" y="178.40" width="10.85" height="8.24" fill="#f3f027" stroke="#f3f027"/>
<rect x="192.20" y="178.40" width="10.85" height="8.24" fill="#f3f027" stroke="#f3f027"/>
<rect x="203.05" y="178.40" width="10.85" height="8.24" fill="#f3f027" stroke="#f3f027"/>
<rect x="213.90" y="178.40" width="10.85" height="8.24" fill="#f3f027" stroke="#f3f027"/>
<rect x="224.75" y="178.40" width="10.85" height="8.24" fill="#f3f027" stroke="#f3f027"/>
<rect x="235.60" y="178.40" width="10.85" height="8.24" fill="#f3f027" stroke="#f3f027"/>
<rect x="246.45" y="178.40" width="10.85" height="8.24" fill="#f3f027" stroke="#f3f027"/>
<rect x="29.45" y="186.64" width="10.85" height="8.24" fill="#20068f" stroke="#20068f"/>
<rect x="40.30" y="186.64" width="10.85" height="8.24" fill="#2a0593" stroke="#2a0593"/>
<rect x="51.15" y="186.64" width="10.85" height="8.24" fill="#38049a" stroke="#38049a"/>
<rect x="62.00" y="186.64" width="10.85" height="8.24" fill="#4903a0" stroke="#4903a0"/>
<rect x="72.85" y="186.64" width="10.85" height="8.24" fill="#6a00a8" stroke="#6a00a8"/>
<rect x="83.70" y="186.64" width="10.85" height="8.24" fill="#8f0da4" stroke="#8f0da4"/>
<rect x="94.55" y="186.64" width="10.85" height="8.24" fill="#bf3984" stroke="#bf3984"/>
<rect x="105.40" y="186.64" width="10.85" height="8.24" fill="#ef7e50" stroke="#ef7e50"/>
<rect x="116.25" y="186.64" width="10.85" height="8.24" fill="#fdab33" stroke="#fdab33"/>
<rect x="127.10" y="186.64" width="10.85" height="8.24" fill="#fdc627" stroke="#fdc627"/>
<rect x="137.95" y="186.64" width="10.85" height="8.24" fill="#f5eb27" stroke="#f5eb27"/>
<rect x="148.80" y="186.64" width="10.85" height="8.24" fill="#f5eb27" stroke="#f5eb27"/>
<rect x="159.65" y="186.64" width="10.85" height="8.24" fill="#f3f027" stroke="#f3f027"/>
<rect x="170.50" y="186.64" width="10.85" height="8.24" fill="#f3f027" stroke="#f3f027"/>
<rect x="181.35" y="186.64" width="10.85" height="8.24" fill="#f3f027" stroke="#f3f027"/>
<rect x="192.20" y="186.64" width="10.85" height="8.24" fill="#f3f027" stroke="#f3f027"/>
<rect x="203.05" y="186.64" width="10.85" height="8.24" fill="#f3f027" stroke="#f3f027"/>
<rect x="213.90" y="186.64" width="10.85" height="8.24" fill="#f3f027" stroke="#f3f027"/>
<rect x="224.75" y="186.64" width="10.85" height="8.24" fill="#f3f027" stroke="#f3f027"/>
<rect x="235.60" y="186.64" width="10.85" height="8.24" fill="#f3f027" stroke="#f3f027"/>
<rect x="246.45" y="186.64" width="10.85" height="8.24" fill="#f3f027" stroke="#f3f027"/>
<rect x="29.45" y="194.89" width="10.85" height="8.24" fill="#2a0593" stroke="#2a0593"/>
<rect x="40.30" y="194.89" width="10.85" height="8.24" fill="#38049a" stroke="#38049a"/>
<rect x="51.15" y="194.89" width="10.85" height="8.24" fill="#41049d" stroke="#41049d"/>
<rect x="62.00" y="194.89" width="10.85" height="8.24" fill="#6a00a8" stroke="#6a00a8"/>
<rect x="72.85" y="194.89" width="10.85" height="8.24" fill="#8f0da4" stroke="#8f0da4"/>
<rect x="83.70" y="194.89" width="10.85" height="8.24" fill="#bf3984" stroke="#bf3984"/>
<rect x="94.55" y="194.89" width="10.85" height="8.24" fill="#e76e5b" stroke="#e76e5b"/>
<rect x="105.40" y="194.89" width="10.85" height="8.24" fill="#fb9f3a" stroke="#fb9f3a"/>
<rect x="116.25" y="194.89" width="10.85" height="8.24" fill="#feba2c" stroke="#feba2c"/>
<rect x="127.10" y="194.89" width="10.85" height="8.24" fill="#f8df25" stroke="#f8df25"/>
<rect x="137.95" y="194.89" width="10.85" height="8.24" fill="#f5eb27" stroke="#f5eb27"/>
<rect x="148.80" y="194.89" width="10.85" height="8.24" fill="#f5eb27" stroke="#f5eb27"/>
<rect x="159.65" y="194.89" width="10.85" height="8.24" fill="#f3f027" stroke="#f3f027"/>
<rect x="170.50" y="194.89" width="10.85" height="8.24" fill="#f3f027" stroke="#f3f027"/>
<rect x="181.35" y="194.89" width="10.85" height="8.24" fill="#f3f027" stroke="#f3f027"/>
<rect x="192.20" y="194.89" width="10.85" height="8.24" fill="#f3f027" stroke="#f3f027"/>
<rect x="203.05" y="194.89" width="10.85" height="8.24" fill="#f3f027" stroke="#f3f027"/>
<rect x="213.90" y="194.89" width="10.85" height="8.24" fill="#f3f027" stroke="#f3f027"/>
<rect x="224.75" y="194.89" width="10.85" height="8.24" fill="#f3f027" stroke="#f3f027"/>
<rect x="235.60" y="194.89" width="10.85" height="8.24" fill="#f3f027" stroke="#f3f027"/>
<rect x="246.45" y="194.89" width="10.85" height="8.24" fill="#f3f027" stroke="#f3f027"/>
<rect x="29.45" y="203.13" width="10.85" height="8.24" fill="#2a0593" stroke="#2a0593"/>
<rect x="40.30" y="203.13" width="10.85" height="8.24" fill="#41049d" stroke="#41049d"/>
<rect x="51.15" y="203.13" width="10.85" height="8.24" fill="#5601a4" stroke="#5601a4"/>
<rect x="62.00" y="203.13" width="10.85" height="8.24" fill="#8f0da4" stroke="#8f0da4"/>
<rect x="72.85" y="203.13" width="10.85" height="8.24" fill="#cc4778" stroke="#cc4778"/>
<rect x="83.70" y="203.13" width="10.85" height="8.24" fill="#ef7e50" stroke="#ef7e50"/>
<rect x="94.55" y="203.13" width="10.85" height="8.24" fill="#f89540" stroke="#f89540"/>
<rect x="105.40" y="203.13" width="10.85" height="8.24" fill="#fdb22f" stroke="#fdb22f"/>
<rect x="116.25" y="203.13" width="10.85" height="8.24" fill="#fbd324" stroke="#fbd324"/>
<rect x="127.10" y="203.13" width="10.85" height="8.24" fill="#f5eb27" stroke="#f5eb27"/>
<rect x="137.95" y="203.13" width="10.85" height="8.24" fill="#f5eb27" stroke="#f5eb27"/>
<rect x="148.80" y="203.13" width="10.85" height="8.24" fill="#f3f027" stroke="#f3f027"/>
<rect x="159.65" y="203.13" width="10.85" height="8.24" fill="#f3f027" stroke="#f3f027"/>
<rect x="170.50" y="203.13" width="10.85" height="8.24" fill="#f3f027" stroke="#f3f027"/>
<rect x="181.35" y="203.13" width="10.85" height="8.24" fill="#f3f027" stroke="#f3f027"/>
<rect x="192.20" y="203.13" width="10.85" height="8.24" fill="#f3f027" stroke="#f3f027"/>
<rect x="203.05" y="203.13" width="10.85" height="8.24" fill="#f3f027" stroke="#f3f027"/>
<rect x="213.90" y="203.13" width="10.85" height="8.24" fill="#f3f027" stroke="#f3f027"/>
<rect x="224.75" y="203.13" width="10.85" height="8.24" fill="#f3f027" stroke="#f3f027"/>
<rect x="235.60" y="203.13" width="10.85" height="8.24" fill="#f3f027" stroke="#f3f027"/>
<rect x="246.45" y="203.13" width="10.85" height="8.24" fill="#f3f027" stroke="#f3f027"/>
<rect x="29.45" y="211.38" width="10.85" height="8.24" fill="#38049a" stroke="#38049a"/>
<rect x="40.30" y="211.38" width="10.85" height="8.24" fill="#4903a0" stroke="#4903a0"/>
<rect x="51.15" y="211.38" width="10.85" height="8.24" fill="#6a00a8" stroke="#6a00a8"/>
<rect x="62.00" y="211.38" width="10.85" height="8.24" fill="#a11b9b" stroke="#a11b9b"/>
<rect x="72.85" y="211.38" width="10.85" height="8.24" fill="#e76e5b" stroke="#e76e5b"/>
<rect x="83.70" y="211.38" width="10.85" height="8.24" fill="#fb9f3a" stroke="#fb9f3a"/>
<rect x="94.55" y="211.38" width="10.85" height="8.24" fill="#fdb22f" stroke="#fdb22f"/>
<rect x="105.40" y="211.38" width="10.85" height="8.24" fill="#fdc627" stroke="#fdc627"/>
<rect x="116.25" y="211.38" width="10.85" height="8.24" fill="#f8df25" stroke="#f8df25"/>
<rect x="127.10" y="211.38" width="10.85" height="8.24" fill="#f6e626" stroke="#f6e626"/>
<rect x="137.95" y="211.38" width="10.85" height="8.24" fill="#f3f027" stroke="#f3f027"/>
<rect x="148.80" y="211.38" width="10.85" height="8.24" fill="#f3f027" stroke="#f3f027"/>
<rect x="159.65" y="211.38" width="10.85" height="8.24" fill="#f3f027" stroke="#f3f027"/>
<rect x="170.50" y="211.38" width="10.85" height="8.24" fill="#f3f027" stroke="#f3f027"/>
<rect x="181.35" y="211.38" width="10.85" height="8.24" fill="#f3f027" stroke="#f3f027"/>
<rect x="192.20" y="211.38" width="10.85" height="8.24" fill="#f3f027" stroke="#f3f027"/>
<rect x="203.05" y="211.38" width="10.85" height="8.24" fill="#f3f027" stroke="#f3f027"/>
<rect x="213.90" y="211.38" width="10.85" height="8.24" fill="#f3f027" stroke="#f3f027"/>
<rect x="224.75" y="211.38" width="10.85" height="8.24" fill="#f3f027" stroke="#f3f027"/>
<rect x="235.60" y="211.38" width="10.85" height="8.24" fill="#f3f027" stroke="#f3f027"/>
<rect x="246.45" y="211.38" width="10.85" height="8.24" fill="#f3f027" stroke="#f3f027"/>
<rect x="29.45" y="219.62" width="10.85" height="8.24" fill="#41049d" stroke="#41049d"/>
<rect x="40.30" y="219.62" width="10.85" height="8.24" fill="#5601a4" stroke="#5601a4"/>
<rect x="51.15" y="219.62" width="10.85" height="8.24" fill="#7e03a8" stroke="#7e03a8"/>
<rect x="62.00" y="219.62" width="10.85" height="8.24" fill="#b12a90" stroke="#b12a90"/>
<rect x="72.85" y="219.62" width="10.85" height="8.24" fill="#ef7e50" stroke="#ef7e50"/>
<rect x="83.70" y="219.62" width="10.85" height="8.24" fill="#fdc627" stroke="#fdc627"/>
<rect x="94.55" y="219.62" width="10.85" height="8.24" fill="#fdc627" stroke="#fdc627"/>
<rect x="105.40" y="219.62" width="10.85" height="8.24" fill="#f8df25" stroke="#f8df25"/>
<rect x="116.25" y="219.62" width="10.85" height="8.24" fill="#f5eb27" stroke="#f5eb27"/>
<rect x="127.10" y="219.62" width="10.85" height="8.24" fill="#f5eb27" stroke="#f5eb27"/>
<rect x="137.95" y="219.62" width="10.85" height="8.24" fill="#f3f027" stroke="#f3f027"/>
<rect x="148.80" y="219.62" width="10.85" height="8.24" fill="#f3f027" stroke="#f3f027"/>
<rect x="159.65" y="219.62" width="10.85" height="8.24" fill="#f3f027" stroke="#f3f027"/>
<rect x="170.50" y="219.62" width="10.85" height="8.24" fill="#f3f027" stroke="#f3f027"/>
<rect x="181.35" y="219.62" width="10.85" height="8.24" fill="#f3f027" stroke="#f3f027"/>
<rect x="192.20" y="219.62" width="10.85" height="8.24" fill="#f3f027" stroke="#f3f027"/>
<rect x="203.05" y="219.62" width="10.85" height="8.24" fill="#f3f027" stroke="#f3f027"/>
<rect x="213.90" y="219.62" width="10.85" height="8.24" fill="#f3f027" stroke="#f3f027"/>
<rect x="224.75" y="219.62" width="10.85" height="8.24" fill="#f3f027" stroke="#f3f027"/>
<rect x="235.60" y="219.62" width="10.85" height="8.24" fill="#f3f027" stroke="#f3f027"/>
<rect x="246.45" y="219.62" width="10.85" height="8.24" fill="#f3f027" stroke="#f3f027"/>
<rect x="29.45" y="227.87" width="10.85" height="8.24" fill="#4903a0" stroke="#4903a0"/>
<rect x="40.30" y="227.87" width="10.85" height="8.24" fill="#6a00a8" stroke="#6a00a8"/>
<rect x="51.15" y="227.87" width="10.85" height="8.24" fill="#8f0da4" stroke="#8f0da4"/>
<rect x="62.00" y="227.87" width="10.85" height="8.24" fill="#cc4778" stroke="#cc4778"/>
<rect x="72.85" y="227.87" width="10.85" height="8.24" fill="#f68d45" stroke="#f68d45"/>
<rect x="83.70" y="227.87" width="10.85" height="8.24" fill="#fdc627" stroke="#fdc627"/>
<rect x="94.55" y="227.87" width="10.85" height="8.24" fill="#fbd324" stroke="#fbd324"/>
<rect x="105.40" y="227.87" width="10.85" height="8.24" fill="#f5eb27" stroke="#f5eb27"/>
<rect x="116.25" y="227.87" width="10.85" height="8.24" fill="#f6e626" stroke="#f6e626"/>
<rect x="127.10" y="227.87" width="10.85" height="8.24" fill="#f3f027" stroke="#f3f027"/>
<rect x="137.95" y="227.87" width="10.85" height="8.24" fill="#f3f027" stroke="#f3f027"/>
<rect x="148.80" y="227.87" width="10.85" height="8.24" fill="#f3f027" stroke="#f3f027"/>
<rect x="159.65" y="227.87" width="10.85" height="8.24" fill="#f3f027" stroke="#f3f027"/>
<rect x="170.50" y="227.87" width="10.85" height="8.24" fill="#f3f027" stroke="#f3f027"/>
<rect x="181.35" y="227.87" width="10.85" height="8.24" fill="#f3f027" stroke="#f3f027"/>
<rect x="192.20" y="227.87" width="10.85" height="8.24" fill="#f3f027" stroke="#f3f027"/>
<rect x="203.05" y="227.87" width="10.85" height="8.24" fill="#f3f027" stroke="#f3f027"/>
<rect x="213.90" y="227.87" width="10.85" height="8.24" fill="#f3f027" stroke="#f3f027"/>
<rect x="224.75" y="227.87" width="10.85" height="8.24" fill="#f3f027" stroke="#f3f027"/>
<rect x="235.60" y="227.87" width="10.85" height="8.24" fill="#f3f027" stroke="#f3f027"/>
<rect x="246.45" y="227.87" width="10.85" height="8.24" fill="#f3f027" stroke="#f3f027"/>
<rect x="29.45" y="236.11" width="10.85" height="8.24" fill="#5601a4" stroke="#5601a4"/>
<rect x="40.30" y="236.11" width="10.85" height="8.24" fill="#6a00a8" stroke="#6a00a8"/>
<rect x="51.15" y="236.11" width="10.85" height="8.24" fill="#8f0da4" stroke="#8f0da4"/>
<rect x="62.00" y="236.11" width="10.85" height="8.24" fill="#cc4778" stroke="#cc4778"/>
<rect x="72.85" y="236.11" width="10.85" height="8.24" fill="#f68d45" stroke="#f68d45"/>
<rect x="83.70" y="236.11" width="10.85" height="8.24" fill="#fdc627" stroke="#fdc627"/>
<rect x="94.55" y="236.11" width="10.85" height="8.24" fill="#f8df25" stroke="#f8df25"/>
<rect x="105.40" y="236.11" width="10.85" height="8.24" fill="#f5eb27" stroke="#f5eb27"/>
<rect x="116.25" y="236.11" width="10.85" height="8.24" fill="#f5eb27" stroke="#f5eb27"/>
<rect x="127.10" y="236.11" width="10.85" height="8.24" fill="#f3f027" stroke="#f3f027"/>
<rect x="137.95" y="236.11" width="10.85" height="8.24" fill="#f3f027" stroke="#f3f027"/>
<rect x="148.80" y="236.11" width="10.85" height="8.24" fill="#f3f027" stroke="#f3f027"/>
<rect x="159.65" y="236.11" width="10.85" height="8.24" fill="#f3f027" stroke="#f3f027"/>
<rect x="170.50" y="236.11" width="10.85" height="8.24" fill="#f3f027" stroke="#f3f027"/>
<rect x="181.35" y="236.11" width="10.85" height="8.24" fill="#f3f027" stroke="#f3f027"/>
<rect x="192.20" y="236.11" width="10.85" height="8.24" fill="#f3f027" stroke="#f3f027"/>
<rect x="203.05" y="236.11" width="10.85" height="8.24" fill="#f3f027" stroke="#f3f027"/>
<rect x="213.90" y="236.11" width="10.85" height="8.24" fill="#f3f027" stroke="#f3f027"/>
<rect x="224.75" y="236.11" width="10.85" height="8.24" fill="#f3f027" stroke="#f3f027"/>
<rect x="235.60" y="236.11" width="10.85" height="8.24" fill="#f3f027" stroke="#f3f027"/>
<rect x="246.45" y="236.11" width="10.85" height="8.24" fill="#f3f027" stroke="#f3f027"/>
<rect x="29.45" y="244.36" width="10.85" height="8.24" fill="#6a00a8" stroke="#6a00a8"/>
<rect x="40.30" y="244.36" width="10.85" height="8.24" fill="#7e03a8" stroke="#7e03a8"/>
<rect x="51.15" y="244.36" width="10.85" height="8.24" fill="#8f0da4" stroke="#8f0da4"/>
<rect x="62.00" y="244.36" width="10.85" height="8.24" fill="#bf3984" stroke="#bf3984"/>
<rect x="72.85" y="244.36" width="10.85" height="8.24" fill="#ef7e50" stroke="#ef7e50"/>
<rect x="83.70" y="244.36" width="10.85" height="8.24" fill="#fdb22f" stroke="#fdb22f"/>
<rect x="94.55" y="244.36" width="10.85" height="8.24" fill="#fbd324" stroke="#fbd324"/>
<rect x="105.40" y="244.36" width="10.85" height="8.24" fill="#f5eb27" stroke="#f5eb27"/>
<rect x="116.25" y="244.36" width="10.85" height="8.24" fill="#f5eb27" stroke="#f5eb27"/>
<rect x="127.10" y="244.36" width="10.85" height="8.24" fill="#f3f027" stroke="#f3f027"/>
<rect x="137.95" y="244.36" width="10.85" height="8.24" fill="#f3f027" stroke="#f3f027"/>
<rect x="148.80" y="244.36" width="10.85" height="8.24" fill="#f3f027" stroke="#f3f027"/>
<rect x="159.65" y="244.36" width="10.85" height="8.24" fill="#f3f027" stroke="#f3f027"/>
<rect x="170.50" y="244.36" width="10.85" height="8.24" fill="#f3f027" stroke="#f3f027"/>
<rect x="181.35" y="244.36" width="10.85" height="8.24" fill="#f3f027" stroke="#f3f027"/>
<rect x="192.20" y="244.36" width="10.85" height="8.24" fill="#f3f027" stroke="#f3f027"/>
<rect x="203.05" y="244.36" width="10.85" height="8.24" fill="#f3f027" stroke="#f3f027"/>
<rect x="213.90" y="244.36" width="10.85" height="8.24" fill="#f3f027" stroke="#f3f027"/>
<rect x="224.75" y="244.36" width="10.85" height="8.24" fill="#f3f027" stroke="#f3f027"/>
<rect x="235.60" y="244.36" width="10.85" height="8.24" fill="#f3f027" stroke="#f3f027"/>
<rect x="246.45" y="244.36" width="10.85" height="8.24" fill="#f3f027" stroke="#f3f027"/>
</g>
<g clip-path="url(#cp)" fill="none" stroke="#000">
<path d="M34.60,173.61 L37.31,171.65 L40.02,169.65 L42.74,167.60 L45.45,165.51 L48.16,163.36 L50.88,161.17 L53.59,158.92 L56.30,156.63 L59.01,154.28 L61.73,151.87 L64.44,149.41 L67.15,146.89 L69.86,144.31 L72.58,141.68 L75.29,138.98 L78.00,136.21 L80.71,133.39 L83.43,130.50 L86.14,127.54 L88.85,124.51 L91.56,121.41 L94.28,118.24 L96.99,114.99 L99.70,111.67 L102.41,108.27 L105.12,104.80 L107.84,101.24 L110.55,97.60 L113.26,93.87 L115.97,90.06 L118.69,86.16 L121.40,82.17 L124.11,78.08 L126.82,73.90 L129.54,69.62 L132.25,65.25 L134.96,60.77 L137.68,56.18 L140.39,51.49 L143.10,46.69 L145.81,41.78 L148.53,36.76 L151.24,31.61 L153.95,26.35 L156.66,20.96 L159.38,15.45 L162.09,9.81 L164.80,4.04 L167.51,-1.86 L170.22,-7.90 L172.94,-14.09 L175.65,-20.41 L178.36,-26.89 L181.07,-33.51 L183.79,-40.29 L186.50,-47.23 L189.21,-54.33 L191.92,-61.60 L194.64,-69.03 L197.35,-76.64 L200.06,-84.42 L202.78,-92.39 L205.49,-100.54 L208.20,-108.88 L210.91,-117.41 L213.62,-126.15 L216.34,-135.08 L219.05,-144.23 L221.76,-153.59 L224.47,-163.17 L227.19,-172.97 L229.90,-182.99 L232.61,-193.25 L235.32,-203.76 L238.04,-214.50 L240.75,-225.50 L243.46,-236.75 L246.17,-248.26 L248.89,-260.04 L251.60,-272.10" stroke-width="1.5"/>
<path d="M34.60,203.80 L37.31,202.54 L40.02,201.24 L42.74,199.92 L45.45,198.56 L48.16,197.17 L50.88,195.75 L53.59,194.29 L56.30,192.80 L59.01,191.28 L61.73,189.72 L64.44,188.12 L67.15,186.49 L69.86,184.82 L72.58,183.10 L75.29,181.35 L78.00,179.56 L80.71,177.72 L83.43,175.84 L86.14,173.92 L88.85,171.95 L91.56,169.94 L94.28,167.87 L96.99,165.76 L99.70,163.60 L102.41,161.39 L105.12,159.13 L107.84,156.81 L110.55,154.44 L113.26,152.01 L115.97,149.53 L118.69,146.98 L121.40,144.38 L124.11,141.72 L126.82,138.99 L129.54,136.20 L132.25,133.34 L134.96,130.42 L137.68,127.43 L140.39,124.36 L143.10,121.23 L145.81,118.02 L148.53,114.73 L151.24,111.37 L153.95,107.93 L156.66,104.41 L159.38,100.80 L162.09,97.11 L164.80,93.34 L167.51,89.47 L170.22,85.51 L172.94,81.46 L175.65,77.32 L178.36,73.08 L181.07,68.73 L183.79,64.29 L186.50,59.74 L189.21,55.08 L191.92,50.32 L194.64,45.44 L197.35,40.45 L200.06,35.34 L202.78,30.10 L205.49,24.75 L208.20,19.27 L210.91,13.66 L213.62,7.92 L216.34,2.04 L219.05,-3.97 L221.76,-10.13 L224.47,-16.43 L227.19,-22.88 L229.90,-29.48 L232.61,-36.24 L235.32,-43.15 L238.04,-50.23 L240.75,-57.48 L243.46,-64.89 L246.17,-72.48 L248.89,-80.25 L251.60,-88.20" stroke-width="1.7" stroke-linecap="round" stroke-dasharray="0.01,3.85"/>
<path d="M34.60,230.99 L37.31,230.37 L40.02,229.73 L42.74,229.09 L45.45,228.42 L48.16,227.74 L50.88,227.05 L53.59,226.34 L56.30,225.61 L59.01,224.87 L61.73,224.11 L64.44,223.33 L67.15,222.53 L69.86,221.71 L72.58,220.88 L75.29,220.03 L78.00,219.15 L80.71,218.26 L83.43,217.34 L86.14,216.41 L88.85,215.45 L91.56,214.47 L94.28,213.46 L96.99,212.44 L99.70,211.39 L102.41,210.31 L105.12,209.21 L107.84,208.08 L110.55,206.93 L113.26,205.75 L115.97,204.55 L118.69,203.31 L121.40,202.05 L124.11,200.76 L126.82,199.43 L129.54,198.08 L132.25,196.69 L134.96,195.28 L137.68,193.83 L140.39,192.34 L143.10,190.82 L145.81,189.27 L148.53,187.68 L151.24,186.05 L153.95,184.38 L156.66,182.68 L159.38,180.94 L162.09,179.15 L164.80,177.32 L167.51,175.46 L170.22,173.54 L172.94,171.59 L175.65,169.59 L178.36,167.54 L181.07,165.44 L183.79,163.29 L186.50,161.10 L189.21,158.85 L191.92,156.55 L194.64,154.20 L197.35,151.79 L200.06,149.33 L202.78,146.81 L205.49,144.23 L208.20,141.59 L210.91,138.89 L213.62,136.12 L216.34,133.30 L219.05,130.40 L221.76,127.44 L224.47,124.41 L227.19,121.31 L229.90,118.13 L232.61,114.89 L235.32,111.56 L238.04,108.16 L240.75,104.68 L243.46,101.12 L246.17,97.48 L248.89,93.75 L251.60,89.94" stroke-width="1.5"/>
<path d="M34.6,177.7 L251.6,177.7" stroke-width="1.5" stroke-dasharray="5.4,2.34"/>
</g>
<g font-family="'Liberation Serif', 'Times New Roman', serif" stroke="#000" stroke-width="0.12" font-size="10.3" fill="#000" text-anchor="middle">
<text transform="translate(108.6,90.4) rotate(-50.5)" y="3.5">26.23</text>
<text transform="translate(153.2,98.9) rotate(-48)" y="3.5">24.59</text>
<text transform="translate(241.0,94.3) rotate(-49)" y="3.5">23.73</text>
</g>
<rect x="34.6" y="13.5" width="217.0" height="239.1" fill="none" stroke="#000" stroke-width="1.5"/>
<g stroke="#000" stroke-width="1.1">
<path d="M34.60,252.6 v-3.2"/>
<path d="M34.60,13.5 v3.2"/>
<path d="M88.85,252.6 v-3.2"/>
<path d="M88.85,13.5 v3.2"/>
<path d="M143.10,252.6 v-3.2"/>
<path d="M143.10,13.5 v3.2"/>
<path d="M197.35,252.6 v-3.2"/>
<path d="M197.35,13.5 v3.2"/>
<path d="M251.60,252.6 v-3.2"/>
<path d="M251.60,13.5 v3.2"/>
<path d="M34.6,216.30 h3.2"/>
<path d="M34.6,175.05 h3.2"/>
<path d="M34.6,133.80 h3.2"/>
<path d="M34.6,92.55 h3.2"/>
<path d="M34.6,51.30 h3.2"/>
<path d="M251.6,230.76 h-3.2"/>
<path d="M251.6,203.98 h-3.2"/>
<path d="M251.6,177.19 h-3.2"/>
<path d="M251.6,150.41 h-3.2"/>
<path d="M251.6,123.62 h-3.2"/>
<path d="M251.6,96.84 h-3.2"/>
<path d="M251.6,70.05 h-3.2"/>
<path d="M251.6,43.26 h-3.2"/>
<path d="M251.6,16.48 h-3.2"/>
</g>
<g font-family="'Liberation Serif', 'Times New Roman', serif" stroke="#000" stroke-width="0.12" font-size="11" fill="#000">
<text x="34.60" y="264.3" text-anchor="middle">27</text>
<text x="88.85" y="264.3" text-anchor="middle">26</text>
<text x="143.10" y="264.3" text-anchor="middle">25</text>
<text x="197.35" y="264.3" text-anchor="middle">24</text>
<text x="251.60" y="264.3" text-anchor="middle">23</text>
<text x="32.2" y="220.30" text-anchor="end">0.1</text>
<text x="32.2" y="179.05" text-anchor="end">0.2</text>
<text x="32.2" y="137.80" text-anchor="end">0.3</text>
<text x="32.2" y="96.55" text-anchor="end">0.4</text>
<text x="32.2" y="55.30" text-anchor="end">0.5</text>
<text x="253.2" y="234.86">0.5</text>
<text x="253.2" y="208.08">1.0</text>
<text x="253.2" y="181.29">1.5</text>
<text x="253.2" y="154.51">2.0</text>
<text x="253.2" y="127.72">2.5</text>
<text x="253.2" y="100.94">3.0</text>
<text x="253.2" y="74.15">3.5</text>
<text x="253.2" y="47.36">4.0</text>
<text x="253.2" y="20.58">4.5</text>
</g>
<g font-family="'Liberation Serif', 'Times New Roman', serif" stroke="#000" stroke-width="0.12" font-size="14" fill="#000" text-anchor="middle">
<text x="142.8" y="10.8" font-size="14.4">Cluster Field</text>
<text x="142.6" y="279.5" font-size="14.2">Magnitude</text>
<text transform="translate(11.9,134.5) rotate(-90)" font-size="15.2"><tspan font-style="italic">r</tspan><tspan font-style="italic" font-size="10.6" dy="3">e</tspan><tspan dy="-3">(&#8243;)</tspan></text>
<text transform="translate(281.8,134) rotate(-90)" font-size="15.2"><tspan font-style="italic">r</tspan><tspan font-style="italic" font-size="10.6" dy="3">e</tspan><tspan dy="-3"> (kpc)</tspan></text>
<text transform="translate(332.8,133.2) rotate(-90)" font-size="12.7">Completeness</text>
</g>
<rect x="295.0" y="13.5" width="11.0" height="239.1" fill="url(#cb)" stroke="#000" stroke-width="1.4"/>
<g stroke="#000" stroke-width="1.1">
<path d="M306.0,204.78 h-3.2"/>
<path d="M306.0,156.96 h-3.2"/>
<path d="M306.0,109.14 h-3.2"/>
<path d="M306.0,61.32 h-3.2"/>
</g>
<g font-family="'Liberation Serif', 'Times New Roman', serif" stroke="#000" stroke-width="0.12" font-size="11" fill="#000">
<text x="307.8" y="256.70">0.0</text>
<text x="307.8" y="208.88">0.2</text>
<text x="307.8" y="161.06">0.4</text>
<text x="307.8" y="113.24">0.6</text>
<text x="307.8" y="65.42">0.8</text>
<text x="307.8" y="17.60">1.0</text>
</g>
</g>
<g transform="translate(0,288.7)">
<g clip-path="url(#cp)" fill-opacity="0.68" stroke-opacity="0.42" stroke-width="0.62">
<rect x="29.45" y="13.50" width="10.85" height="8.24" fill="#16078a" stroke="#16078a"/>
<rect x="40.30" y="13.50" width="10.85" height="8.24" fill="#16078a" stroke="#16078a"/>
<rect x="51.15" y="13.50" width="10.85" height="8.24" fill="#16078a" stroke="#16078a"/>
<rect x="62.00" y="13.50" width="10.85" height="8.24" fill="#16078a" stroke="#16078a"/>
<rect x="72.85" y="13.50" width="10.85" height="8.24" fill="#16078a" stroke="#16078a"/>
<rect x="83.70" y="13.50" width="10.85" height="8.24" fill="#16078a" stroke="#16078a"/>
<rect x="94.55" y="13.50" width="10.85" height="8.24" fill="#16078a" stroke="#16078a"/>
<rect x="105.40" y="13.50" width="10.85" height="8.24" fill="#16078a" stroke="#16078a"/>
<rect x="116.25" y="13.50" width="10.85" height="8.24" fill="#16078a" stroke="#16078a"/>
<rect x="127.10" y="13.50" width="10.85" height="8.24" fill="#16078a" stroke="#16078a"/>
<rect x="137.95" y="13.50" width="10.85" height="8.24" fill="#16078a" stroke="#16078a"/>
<rect x="148.80" y="13.50" width="10.85" height="8.24" fill="#260591" stroke="#260591"/>
<rect x="159.65" y="13.50" width="10.85" height="8.24" fill="#2f0596" stroke="#2f0596"/>
<rect x="170.50" y="13.50" width="10.85" height="8.24" fill="#350498" stroke="#350498"/>
<rect x="181.35" y="13.50" width="10.85" height="8.24" fill="#44039e" stroke="#44039e"/>
<rect x="192.20" y="13.50" width="10.85" height="8.24" fill="#6100a7" stroke="#6100a7"/>
<rect x="203.05" y="13.50" width="10.85" height="8.24" fill="#8606a6" stroke="#8606a6"/>
<rect x="213.90" y="13.50" width="10.85" height="8.24" fill="#aa2395" stroke="#aa2395"/>
<rect x="224.75" y="13.50" width="10.85" height="8.24" fill="#cc4977" stroke="#cc4977"/>
<rect x="235.60" y="13.50" width="10.85" height="8.24" fill="#ea7457" stroke="#ea7457"/>
<rect x="246.45" y="13.50" width="10.85" height="8.24" fill="#f89540" stroke="#f89540"/>
<rect x="29.45" y="21.74" width="10.85" height="8.24" fill="#16078a" stroke="#16078a"/>
<rect x="40.30" y="21.74" width="10.85" height="8.24" fill="#16078a" stroke="#16078a"/>
<rect x="51.15" y="21.74" width="10.85" height="8.24" fill="#16078a" stroke="#16078a"/>
<rect x="62.00" y="21.74" width="10.85" height="8.24" fill="#16078a" stroke="#16078a"/>
<rect x="72.85" y="21.74" width="10.85" height="8.24" fill="#16078a" stroke="#16078a"/>
<rect x="83.70" y="21.74" width="10.85" height="8.24" fill="#16078a" stroke="#16078a"/>
<rect x="94.55" y="21.74" width="10.85" height="8.24" fill="#16078a" stroke="#16078a"/>
<rect x="105.40" y="21.74" width="10.85" height="8.24" fill="#16078a" stroke="#16078a"/>
<rect x="116.25" y="21.74" width="10.85" height="8.24" fill="#16078a" stroke="#16078a"/>
<rect x="127.10" y="21.74" width="10.85" height="8.24" fill="#16078a" stroke="#16078a"/>
<rect x="137.95" y="21.74" width="10.85" height="8.24" fill="#16078a" stroke="#16078a"/>
<rect x="148.80" y="21.74" width="10.85" height="8.24" fill="#260591" stroke="#260591"/>
<rect x="159.65" y="21.74" width="10.85" height="8.24" fill="#2f0596" stroke="#2f0596"/>
<rect x="170.50" y="21.74" width="10.85" height="8.24" fill="#350498" stroke="#350498"/>
<rect x="181.35" y="21.74" width="10.85" height="8.24" fill="#48039f" stroke="#48039f"/>
<rect x="192.20" y="21.74" width="10.85" height="8.24" fill="#6700a8" stroke="#6700a8"/>
<rect x="203.05" y="21.74" width="10.85" height="8.24" fill="#8b0aa5" stroke="#8b0aa5"/>
<rect x="213.90" y="21.74" width="10.85" height="8.24" fill="#b22b8f" stroke="#b22b8f"/>
<rect x="224.75" y="21.74" width="10.85" height="8.24" fill="#d35171" stroke="#d35171"/>
<rect x="235.60" y="21.74" width="10.85" height="8.24" fill="#ec7754" stroke="#ec7754"/>
<rect x="246.45" y="21.74" width="10.85" height="8.24" fill="#fa9c3c" stroke="#fa9c3c"/>
<rect x="29.45" y="29.99" width="10.85" height="8.24" fill="#16078a" stroke="#16078a"/>
<rect x="40.30" y="29.99" width="10.85" height="8.24" fill="#16078a" stroke="#16078a"/>
<rect x="51.15" y="29.99" width="10.85" height="8.24" fill="#16078a" stroke="#16078a"/>
<rect x="62.00" y="29.99" width="10.85" height="8.24" fill="#16078a" stroke="#16078a"/>
<rect x="72.85" y="29.99" width="10.85" height="8.24" fill="#16078a" stroke="#16078a"/>
<rect x="83.70" y="29.99" width="10.85" height="8.24" fill="#16078a" stroke="#16078a"/>
<rect x="94.55" y="29.99" width="10.85" height="8.24" fill="#16078a" stroke="#16078a"/>
<rect x="105.40" y="29.99" width="10.85" height="8.24" fill="#16078a" stroke="#16078a"/>
<rect x="116.25" y="29.99" width="10.85" height="8.24" fill="#16078a" stroke="#16078a"/>
<rect x="127.10" y="29.99" width="10.85" height="8.24" fill="#16078a" stroke="#16078a"/>
<rect x="137.95" y="29.99" width="10.85" height="8.24" fill="#16078a" stroke="#16078a"/>
<rect x="148.80" y="29.99" width="10.85" height="8.24" fill="#260591" stroke="#260591"/>
<rect x="159.65" y="29.99" width="10.85" height="8.24" fill="#2f0596" stroke="#2f0596"/>
<rect x="170.50" y="29.99" width="10.85" height="8.24" fill="#38049a" stroke="#38049a"/>
<rect x="181.35" y="29.99" width="10.85" height="8.24" fill="#5002a2" stroke="#5002a2"/>
<rect x="192.20" y="29.99" width="10.85" height="8.24" fill="#6f00a8" stroke="#6f00a8"/>
<rect x="203.05" y="29.99" width="10.85" height="8.24" fill="#9511a1" stroke="#9511a1"/>
<rect x="213.90" y="29.99" width="10.85" height="8.24" fill="#ba3388" stroke="#ba3388"/>
<rect x="224.75" y="29.99" width="10.85" height="8.24" fill="#da5b69" stroke="#da5b69"/>
<rect x="235.60" y="29.99" width="10.85" height="8.24" fill="#f2844b" stroke="#f2844b"/>
<rect x="246.45" y="29.99" width="10.85" height="8.24" fill="#fca537" stroke="#fca537"/>
<rect x="29.45" y="38.23" width="10.85" height="8.24" fill="#16078a" stroke="#16078a"/>
<rect x="40.30" y="38.23" width="10.85" height="8.24" fill="#16078a" stroke="#16078a"/>
<rect x="51.15" y="38.23" width="10.85" height="8.24" fill="#16078a" stroke="#16078a"/>
<rect x="62.00" y="38.23" width="10.85" height="8.24" fill="#16078a" stroke="#16078a"/>
<rect x="72.85" y="38.23" width="10.85" height="8.24" fill="#16078a" stroke="#16078a"/>
<rect x="83.70" y="38.23" width="10.85" height="8.24" fill="#16078a" stroke="#16078a"/>
<rect x="94.55" y="38.23" width="10.85" height="8.24" fill="#16078a" stroke="#16078a"/>
<rect x="105.40" y="38.23" width="10.85" height="8.24" fill="#16078a" stroke="#16078a"/>
<rect x="116.25" y="38.23" width="10.85" height="8.24" fill="#16078a" stroke="#16078a"/>
<rect x="127.10" y="38.23" width="10.85" height="8.24" fill="#16078a" stroke="#16078a"/>
<rect x="137.95" y="38.23" width="10.85" height="8.24" fill="#16078a" stroke="#16078a"/>
<rect x="148.80" y="38.23" width="10.85" height="8.24" fill="#2a0593" stroke="#2a0593"/>
<rect x="159.65" y="38.23" width="10.85" height="8.24" fill="#330597" stroke="#330597"/>
<rect x="170.50" y="38.23" width="10.85" height="8.24" fill="#3e049c" stroke="#3e049c"/>
<rect x="181.35" y="38.23" width="10.85" height="8.24" fill="#5302a3" stroke="#5302a3"/>
<rect x="192.20" y="38.23" width="10.85" height="8.24" fill="#7801a8" stroke="#7801a8"/>
<rect x="203.05" y="38.23" width="10.85" height="8.24" fill="#9e199d" stroke="#9e199d"/>
<rect x="213.90" y="38.23" width="10.85" height="8.24" fill="#c43e7f" stroke="#c43e7f"/>
<rect x="224.75" y="38.23" width="10.85" height="8.24" fill="#e26660" stroke="#e26660"/>
<rect x="235.60" y="38.23" width="10.85" height="8.24" fill="#f79143" stroke="#f79143"/>
<rect x="246.45" y="38.23" width="10.85" height="8.24" fill="#fdb22f" stroke="#fdb22f"/>
<rect x="29.45" y="46.48" width="10.85" height="8.24" fill="#16078a" stroke="#16078a"/>
<rect x="40.30" y="46.48" width="10.85" height="8.24" fill="#16078a" stroke="#16078a"/>
<rect x="51.15" y="46.48" width="10.85" height="8.24" fill="#16078a" stroke="#16078a"/>
<rect x="62.00" y="46.48" width="10.85" height="8.24" fill="#16078a" stroke="#16078a"/>
<rect x="72.85" y="46.48" width="10.85" height="8.24" fill="#16078a" stroke="#16078a"/>
<rect x="83.70" y="46.48" width="10.85" height="8.24" fill="#16078a" stroke="#16078a"/>
<rect x="94.55" y="46.48" width="10.85" height="8.24" fill="#16078a" stroke="#16078a"/>
<rect x="105.40" y="46.48" width="10.85" height="8.24" fill="#16078a" stroke="#16078a"/>
<rect x="116.25" y="46.48" width="10.85" height="8.24" fill="#16078a" stroke="#16078a"/>
<rect x="127.10" y="46.48" width="10.85" height="8.24" fill="#16078a" stroke="#16078a"/>
<rect x="137.95" y="46.48" width="10.85" height="8.24" fill="#16078a" stroke="#16078a"/>
<rect x="148.80" y="46.48" width="10.85" height="8.24" fill="#2a0593" stroke="#2a0593"/>
<rect x="159.65" y="46.48" width="10.85" height="8.24" fill="#330597" stroke="#330597"/>
<rect x="170.50" y="46.48" width="10.85" height="8.24" fill="#41049d" stroke="#41049d"/>
<rect x="181.35" y="46.48" width="10.85" height="8.24" fill="#5b01a5" stroke="#5b01a5"/>
<rect x="192.20" y="46.48" width="10.85" height="8.24" fill="#8004a8" stroke="#8004a8"/>
<rect x="203.05" y="46.48" width="10.85" height="8.24" fill="#ab2494" stroke="#ab2494"/>
<rect x="213.90" y="46.48" width="10.85" height="8.24" fill="#ce4b75" stroke="#ce4b75"/>
<rect x="224.75" y="46.48" width="10.85" height="8.24" fill="#ec7754" stroke="#ec7754"/>
<rect x="235.60" y="46.48" width="10.85" height="8.24" fill="#fca537" stroke="#fca537"/>
<rect x="246.45" y="46.48" width="10.85" height="8.24" fill="#febd2a" stroke="#febd2a"/>
<rect x="29.45" y="54.72" width="10.85" height="8.24" fill="#16078a" stroke="#16078a"/>
<rect x="40.30" y="54.72" width="10.85" height="8.24" fill="#16078a" stroke="#16078a"/>
<rect x="51.15" y="54.72" width="10.85" height="8.24" fill="#16078a" stroke="#16078a"/>
<rect x="62.00" y="54.72" width="10.85" height="8.24" fill="#16078a" stroke="#16078a"/>
<rect x="72.85" y="54.72" width="10.85" height="8.24" fill="#16078a" stroke="#16078a"/>
<rect x="83.70" y="54.72" width="10.85" height="8.24" fill="#16078a" stroke="#16078a"/>
<rect x="94.55" y="54.72" width="10.85" height="8.24" fill="#16078a" stroke="#16078a"/>
<rect x="105.40" y="54.72" width="10.85" height="8.24" fill="#16078a" stroke="#16078a"/>
<rect x="116.25" y="54.72" width="10.85" height="8.24" fill="#16078a" stroke="#16078a"/>
<rect x="127.10" y="54.72" width="10.85" height="8.24" fill="#16078a" stroke="#16078a"/>
<rect x="137.95" y="54.72" width="10.85" height="8.24" fill="#16078a" stroke="#16078a"/>
<rect x="148.80" y="54.72" width="10.85" height="8.24" fill="#2a0593" stroke="#2a0593"/>
<rect x="159.65" y="54.72" width="10.85" height="8.24" fill="#38049a" stroke="#38049a"/>
<rect x="170.50" y="54.72" width="10.85" height="8.24" fill="#44039e" stroke="#44039e"/>
<rect x="181.35" y="54.72" width="10.85" height="8.24" fill="#6300a7" stroke="#6300a7"/>
<rect x="192.20" y="54.72" width="10.85" height="8.24" fill="#8707a6" stroke="#8707a6"/>
<rect x="203.05" y="54.72" width="10.85" height="8.24" fill="#b42e8d" stroke="#b42e8d"/>
<rect x="213.90" y="54.72" width="10.85" height="8.24" fill="#d8576b" stroke="#d8576b"/>
<rect x="224.75" y="54.72" width="10.85" height="8.24" fill="#f48849" stroke="#f48849"/>
<rect x="235.60" y="54.72" width="10.85" height="8.24" fill="#fdb22f" stroke="#fdb22f"/>
<rect x="246.45" y="54.72" width="10.85" height="8.24" fill="#fdc229" stroke="#fdc229"/>
<rect x="29.45" y="62.97" width="10.85" height="8.24" fill="#16078a" stroke="#16078a"/>
<rect x="40.30" y="62.97" width="10.85" height="8.24" fill="#16078a" stroke="#16078a"/>
<rect x="51.15" y="62.97" width="10.85" height="8.24" fill="#16078a" stroke="#16078a"/>
<rect x="62.00" y="62.97" width="10.85" height="8.24" fill="#16078a" stroke="#16078a"/>
<rect x="72.85" y="62.97" width="10.85" height="8.24" fill="#16078a" stroke="#16078a"/>
<rect x="83.70" y="62.97" width="10.85" height="8.24" fill="#16078a" stroke="#16078a"/>
<rect x="94.55" y="62.97" width="10.85" height="8.24" fill="#16078a" stroke="#16078a"/>
<rect x="105.40" y="62.97" width="10.85" height="8.24" fill="#16078a" stroke="#16078a"/>
<rect x="116.25" y="62.97" width="10.85" height="8.24" fill="#16078a" stroke="#16078a"/>
<rect x="127.10" y="62.97" width="10.85" height="8.24" fill="#16078a" stroke="#16078a"/>
<rect x="137.95" y="62.97" width="10.85" height="8.24" fill="#20068f" stroke="#20068f"/>
<rect x="148.80" y="62.97" width="10.85" height="8.24" fill="#330597" stroke="#330597"/>
<rect x="159.65" y="62.97" width="10.85" height="8.24" fill="#3e049c" stroke="#3e049c"/>
<rect x="170.50" y="62.97" width="10.85" height="8.24" fill="#4c02a1" stroke="#4c02a1"/>
<rect x="181.35" y="62.97" width="10.85" height="8.24" fill="#6a00a8" stroke="#6a00a8"/>
<rect x="192.20" y="62.97" width="10.85" height="8.24" fill="#920fa3" stroke="#920fa3"/>
<rect x="203.05" y="62.97" width="10.85" height="8.24" fill="#c23c81" stroke="#c23c81"/>
<rect x="213.90" y="62.97" width="10.85" height="8.24" fill="#e26660" stroke="#e26660"/>
<rect x="224.75" y="62.97" width="10.85" height="8.24" fill="#f89540" stroke="#f89540"/>
<rect x="235.60" y="62.97" width="10.85" height="8.24" fill="#feb82c" stroke="#feb82c"/>
<rect x="246.45" y="62.97" width="10.85" height="8.24" fill="#fdcb26" stroke="#fdcb26"/>
<rect x="29.45" y="71.21" width="10.85" height="8.24" fill="#16078a" stroke="#16078a"/>
<rect x="40.30" y="71.21" width="10.85" height="8.24" fill="#16078a" stroke="#16078a"/>
<rect x="51.15" y="71.21" width="10.85" height="8.24" fill="#16078a" stroke="#16078a"/>
<rect x="62.00" y="71.21" width="10.85" height="8.24" fill="#16078a" stroke="#16078a"/>
<rect x="72.85" y="71.21" width="10.85" height="8.24" fill="#16078a" stroke="#16078a"/>
<rect x="83.70" y="71.21" width="10.85" height="8.24" fill="#16078a" stroke="#16078a"/>
<rect x="94.55" y="71.21" width="10.85" height="8.24" fill="#16078a" stroke="#16078a"/>
<rect x="105.40" y="71.21" width="10.85" height="8.24" fill="#16078a" stroke="#16078a"/>
<rect x="116.25" y="71.21" width="10.85" height="8.24" fill="#16078a" stroke="#16078a"/>
<rect x="127.10" y="71.21" width="10.85" height="8.24" fill="#16078a" stroke="#16078a"/>
<rect x="137.95" y="71.21" width="10.85" height="8.24" fill="#20068f" stroke="#20068f"/>
<rect x="148.80" y="71.21" width="10.85" height="8.24" fill="#330597" stroke="#330597"/>
<rect x="159.65" y="71.21" width="10.85" height="8.24" fill="#46039f" stroke="#46039f"/>
<rect x="170.50" y="71.21" width="10.85" height="8.24" fill="#5502a4" stroke="#5502a4"/>
<rect x="181.35" y="71.21" width="10.85" height="8.24" fill="#7801a8" stroke="#7801a8"/>
<rect x="192.20" y="71.21" width="10.85" height="8.24" fill="#a31e9a" stroke="#a31e9a"/>
<rect x="203.05" y="71.21" width="10.85" height="8.24" fill="#cd4a76" stroke="#cd4a76"/>
<rect x="213.90" y="71.21" width="10.85" height="8.24" fill="#eb7556" stroke="#eb7556"/>
<rect x="224.75" y="71.21" width="10.85" height="8.24" fill="#fb9f3a" stroke="#fb9f3a"/>
<rect x="235.60" y="71.21" width="10.85" height="8.24" fill="#febd2a" stroke="#febd2a"/>
<rect x="246.45" y="71.21" width="10.85" height="8.24" fill="#fcd025" stroke="#fcd025"/>
<rect x="29.45" y="79.46" width="10.85" height="8.24" fill="#16078a" stroke="#16078a"/>
<rect x="40.30" y="79.46" width="10.85" height="8.24" fill="#16078a" stroke="#16078a"/>
<rect x="51.15" y="79.46" width="10.85" height="8.24" fill="#16078a" stroke="#16078a"/>
<rect x="62.00" y="79.46" width="10.85" height="8.24" fill="#16078a" stroke="#16078a"/>
<rect x="72.85" y="79.46" width="10.85" height="8.24" fill="#16078a" stroke="#16078a"/>
<rect x="83.70" y="79.46" width="10.85" height="8.24" fill="#16078a" stroke="#16078a"/>
<rect x="94.55" y="79.46" width="10.85" height="8.24" fill="#16078a" stroke="#16078a"/>
<rect x="105.40" y="79.46" width="10.85" height="8.24" fill="#16078a" stroke="#16078a"/>
<rect x="116.25" y="79.46" width="10.85" height="8.24" fill="#16078a" stroke="#16078a"/>
<rect x="127.10" y="79.46" width="10.85" height="8.24" fill="#16078a" stroke="#16078a"/>
<rect x="137.95" y="79.46" width="10.85" height="8.24" fill="#20068f" stroke="#20068f"/>
<rect x="148.80" y="79.46" width="10.85" height="8.24" fill="#330597" stroke="#330597"/>
<rect x="159.65" y="79.46" width="10.85" height="8.24" fill="#4e02a2" stroke="#4e02a2"/>
<rect x="170.50" y="79.46" width="10.85" height="8.24" fill="#6400a7" stroke="#6400a7"/>
<rect x="181.35" y="79.46" width="10.85" height="8.24" fill="#8707a6" stroke="#8707a6"/>
<rect x="192.20" y="79.46" width="10.85" height="8.24" fill="#ae2892" stroke="#ae2892"/>
<rect x="203.05" y="79.46" width="10.85" height="8.24" fill="#d6556d" stroke="#d6556d"/>
<rect x="213.90" y="79.46" width="10.85" height="8.24" fill="#f1834c" stroke="#f1834c"/>
<rect x="224.75" y="79.46" width="10.85" height="8.24" fill="#fca934" stroke="#fca934"/>
<rect x="235.60" y="79.46" width="10.85" height="8.24" fill="#fdc229" stroke="#fdc229"/>
<rect x="246.45" y="79.46" width="10.85" height="8.24" fill="#fad824" stroke="#fad824"/>
<rect x="29.45" y="87.70" width="10.85" height="8.24" fill="#16078a" stroke="#16078a"/>
<rect x="40.30" y="87.70" width="10.85" height="8.24" fill="#16078a" stroke="#16078a"/>
<rect x="51.15" y="87.70" width="10.85" height="8.24" fill="#16078a" stroke="#16078a"/>
<rect x="62.00" y="87.70" width="10.85" height="8.24" fill="#16078a" stroke="#16078a"/>
<rect x="72.85" y="87.70" width="10.85" height="8.24" fill="#16078a" stroke="#16078a"/>
<rect x="83.70" y="87.70" width="10.85" height="8.24" fill="#16078a" stroke="#16078a"/>
<rect x="94.55" y="87.70" width="10.85" height="8.24" fill="#16078a" stroke="#16078a"/>
<rect x="105.40" y="87.70" width="10.85" height="8.24" fill="#16078a" stroke="#16078a"/>
<rect x="116.25" y="87.70" width="10.85" height="8.24" fill="#16078a" stroke="#16078a"/>
<rect x="127.10" y="87.70" width="10.85" height="8.24" fill="#1b068d" stroke="#1b068d"/>
<rect x="137.95" y="87.70" width="10.85" height="8.24" fill="#280592" stroke="#280592"/>
<rect x="148.80" y="87.70" width="10.85" height="8.24" fill="#38049a" stroke="#38049a"/>
<rect x="159.65" y="87.70" width="10.85" height="8.24" fill="#4e02a2" stroke="#4e02a2"/>
<rect x="170.50" y="87.70" width="10.85" height="8.24" fill="#6f00a8" stroke="#6f00a8"/>
<rect x="181.35" y="87.70" width="10.85" height="8.24" fill="#9a169f" stroke="#9a169f"/>
<rect x="192.20" y="87.70" width="10.85" height="8.24" fill="#c03a83" stroke="#c03a83"/>
<rect x="203.05" y="87.70" width="10.85" height="8.24" fill="#e56b5d" stroke="#e56b5d"/>
<rect x="213.90" y="87.70" width="10.85" height="8.24" fill="#f89441" stroke="#f89441"/>
<rect x="224.75" y="87.70" width="10.85" height="8.24" fill="#fdb52e" stroke="#fdb52e"/>
<rect x="235.60" y="87.70" width="10.85" height="8.24" fill="#fdcb26" stroke="#fdcb26"/>
<rect x="246.45" y="87.70" width="10.85" height="8.24" fill="#f8e125" stroke="#f8e125"/>
<rect x="29.45" y="95.95" width="10.85" height="8.24" fill="#16078a" stroke="#16078a"/>
<rect x="40.30" y="95.95" width="10.85" height="8.24" fill="#16078a" stroke="#16078a"/>
<rect x="51.15" y="95.95" width="10.85" height="8.24" fill="#16078a" stroke="#16078a"/>
<rect x="62.00" y="95.95" width="10.85" height="8.24" fill="#16078a" stroke="#16078a"/>
<rect x="72.85" y="95.95" width="10.85" height="8.24" fill="#16078a" stroke="#16078a"/>
<rect x="83.70" y="95.95" width="10.85" height="8.24" fill="#16078a" stroke="#16078a"/>
<rect x="94.55" y="95.95" width="10.85" height="8.24" fill="#16078a" stroke="#16078a"/>
<rect x="105.40" y="95.95" width="10.85" height="8.24" fill="#16078a" stroke="#16078a"/>
<rect x="116.25" y="95.95" width="10.85" height="8.24" fill="#16078a" stroke="#16078a"/>
<rect x="127.10" y="95.95" width="10.85" height="8.24" fill="#20068f" stroke="#20068f"/>
<rect x="137.95" y="95.95" width="10.85" height="8.24" fill="#2e0595" stroke="#2e0595"/>
<rect x="148.80" y="95.95" width="10.85" height="8.24" fill="#48039f" stroke="#48039f"/>
<rect x="159.65" y="95.95" width="10.85" height="8.24" fill="#5e01a6" stroke="#5e01a6"/>
<rect x="170.50" y="95.95" width="10.85" height="8.24" fill="#8305a7" stroke="#8305a7"/>
<rect x="181.35" y="95.95" width="10.85" height="8.24" fill="#ab2494" stroke="#ab2494"/>
<rect x="192.20" y="95.95" width="10.85" height="8.24" fill="#d04d73" stroke="#d04d73"/>
<rect x="203.05" y="95.95" width="10.85" height="8.24" fill="#ef7e50" stroke="#ef7e50"/>
<rect x="213.90" y="95.95" width="10.85" height="8.24" fill="#fba238" stroke="#fba238"/>
<rect x="224.75" y="95.95" width="10.85" height="8.24" fill="#fcd025" stroke="#fcd025"/>
<rect x="235.60" y="95.95" width="10.85" height="8.24" fill="#f6e626" stroke="#f6e626"/>
<rect x="246.45" y="95.95" width="10.85" height="8.24" fill="#f3ee27" stroke="#f3ee27"/>
<rect x="29.45" y="104.19" width="10.85" height="8.24" fill="#16078a" stroke="#16078a"/>
<rect x="40.30" y="104.19" width="10.85" height="8.24" fill="#16078a" stroke="#16078a"/>
<rect x="51.15" y="104.19" width="10.85" height="8.24" fill="#16078a" stroke="#16078a"/>
<rect x="62.00" y="104.19" width="10.85" height="8.24" fill="#16078a" stroke="#16078a"/>
<rect x="72.85" y="104.19" width="10.85" height="8.24" fill="#16078a" stroke="#16078a"/>
<rect x="83.70" y="104.19" width="10.85" height="8.24" fill="#16078a" stroke="#16078a"/>
<rect x="94.55" y="104.19" width="10.85" height="8.24" fill="#16078a" stroke="#16078a"/>
<rect x="105.40" y="104.19" width="10.85" height="8.24" fill="#16078a" stroke="#16078a"/>
<rect x="116.25" y="104.19" width="10.85" height="8.24" fill="#1d068e" stroke="#1d068e"/>
<rect x="127.10" y="104.19" width="10.85" height="8.24" fill="#280592" stroke="#280592"/>
<rect x="137.95" y="104.19" width="10.85" height="8.24" fill="#3e049c" stroke="#3e049c"/>
<rect x="148.80" y="104.19" width="10.85" height="8.24" fill="#5801a4" stroke="#5801a4"/>
<rect x="159.65" y="104.19" width="10.85" height="8.24" fill="#7501a8" stroke="#7501a8"/>
<rect x="170.50" y="104.19" width="10.85" height="8.24" fill="#9814a0" stroke="#9814a0"/>
<rect x="181.35" y="104.19" width="10.85" height="8.24" fill="#c23c81" stroke="#c23c81"/>
<rect x="192.20" y="104.19" width="10.85" height="8.24" fill="#e26660" stroke="#e26660"/>
<rect x="203.05" y="104.19" width="10.85" height="8.24" fill="#f79143" stroke="#f79143"/>
<rect x="213.90" y="104.19" width="10.85" height="8.24" fill="#feb82c" stroke="#feb82c"/>
<rect x="224.75" y="104.19" width="10.85" height="8.24" fill="#f8e125" stroke="#f8e125"/>
<rect x="235.60" y="104.19" width="10.85" height="8.24" fill="#f3ee27" stroke="#f3ee27"/>
<rect x="246.45" y="104.19" width="10.85" height="8.24" fill="#f1f525" stroke="#f1f525"/>
<rect x="29.45" y="112.44" width="10.85" height="8.24" fill="#16078a" stroke="#16078a"/>
<rect x="40.30" y="112.44" width="10.85" height="8.24" fill="#16078a" stroke="#16078a"/>
<rect x="51.15" y="112.44" width="10.85" height="8.24" fill="#16078a" stroke="#16078a"/>
<rect x="62.00" y="112.44" width="10.85" height="8.24" fill="#16078a" stroke="#16078a"/>
<rect x="72.85" y="112.44" width="10.85" height="8.24" fill="#16078a" stroke="#16078a"/>
<rect x="83.70" y="112.44" width="10.85" height="8.24" fill="#16078a" stroke="#16078a"/>
<rect x="94.55" y="112.44" width="10.85" height="8.24" fill="#16078a" stroke="#16078a"/>
<rect x="105.40" y="112.44" width="10.85" height="8.24" fill="#1b068d" stroke="#1b068d"/>
<rect x="116.25" y="112.44" width="10.85" height="8.24" fill="#260591" stroke="#260591"/>
<rect x="127.10" y="112.44" width="10.85" height="8.24" fill="#330597" stroke="#330597"/>
<rect x="137.95" y="112.44" width="10.85" height="8.24" fill="#48039f" stroke="#48039f"/>
<rect x="148.80" y="112.44" width="10.85" height="8.24" fill="#6600a7" stroke="#6600a7"/>
<rect x="159.65" y="112.44" width="10.85" height="8.24" fill="#8a09a5" stroke="#8a09a5"/>
<rect x="170.50" y="112.44" width="10.85" height="8.24" fill="#b12a90" stroke="#b12a90"/>
<rect x="181.35" y="112.44" width="10.85" height="8.24" fill="#d5536f" stroke="#d5536f"/>
<rect x="192.20" y="112.44" width="10.85" height="8.24" fill="#f1814d" stroke="#f1814d"/>
<rect x="203.05" y="112.44" width="10.85" height="8.24" fill="#fdac33" stroke="#fdac33"/>
<rect x="213.90" y="112.44" width="10.85" height="8.24" fill="#fccd25" stroke="#fccd25"/>
<rect x="224.75" y="112.44" width="10.85" height="8.24" fill="#f5e926" stroke="#f5e926"/>
<rect x="235.60" y="112.44" width="10.85" height="8.24" fill="#f1f426" stroke="#f1f426"/>
<rect x="246.45" y="112.44" width="10.85" height="8.24" fill="#f1f525" stroke="#f1f525"/>
<rect x="29.45" y="120.68" width="10.85" height="8.24" fill="#16078a" stroke="#16078a"/>
<rect x="40.30" y="120.68" width="10.85" height="8.24" fill="#16078a" stroke="#16078a"/>
<rect x="51.15" y="120.68" width="10.85" height="8.24" fill="#16078a" stroke="#16078a"/>
<rect x="62.00" y="120.68" width="10.85" height="8.24" fill="#16078a" stroke="#16078a"/>
<rect x="72.85" y="120.68" width="10.85" height="8.24" fill="#16078a" stroke="#16078a"/>
<rect x="83.70" y="120.68" width="10.85" height="8.24" fill="#16078a" stroke="#16078a"/>
<rect x="94.55" y="120.68" width="10.85" height="8.24" fill="#1b068d" stroke="#1b068d"/>
<rect x="105.40" y="120.68" width="10.85" height="8.24" fill="#220690" stroke="#220690"/>
<rect x="116.25" y="120.68" width="10.85" height="8.24" fill="#2e0595" stroke="#2e0595"/>
<rect x="127.10" y="120.68" width="10.85" height="8.24" fill="#3e049c" stroke="#3e049c"/>
<rect x="137.95" y="120.68" width="10.85" height="8.24" fill="#5801a4" stroke="#5801a4"/>
<rect x="148.80" y="120.68" width="10.85" height="8.24" fill="#7701a8" stroke="#7701a8"/>
<rect x="159.65" y="120.68" width="10.85" height="8.24" fill="#a01a9c" stroke="#a01a9c"/>
<rect x="170.50" y="120.68" width="10.85" height="8.24" fill="#c33d80" stroke="#c33d80"/>
<rect x="181.35" y="120.68" width="10.85" height="8.24" fill="#e87059" stroke="#e87059"/>
<rect x="192.20" y="120.68" width="10.85" height="8.24" fill="#fa9e3b" stroke="#fa9e3b"/>
<rect x="203.05" y="120.68" width="10.85" height="8.24" fill="#fdc527" stroke="#fdc527"/>
<rect x="213.90" y="120.68" width="10.85" height="8.24" fill="#f7e425" stroke="#f7e425"/>
<rect x="224.75" y="120.68" width="10.85" height="8.24" fill="#f4ed27" stroke="#f4ed27"/>
<rect x="235.60" y="120.68" width="10.85" height="8.24" fill="#f1f525" stroke="#f1f525"/>
<rect x="246.45" y="120.68" width="10.85" height="8.24" fill="#f1f525" stroke="#f1f525"/>
<rect x="29.45" y="128.93" width="10.85" height="8.24" fill="#16078a" stroke="#16078a"/>
<rect x="40.30" y="128.93" width="10.85" height="8.24" fill="#16078a" stroke="#16078a"/>
<rect x="51.15" y="128.93" width="10.85" height="8.24" fill="#16078a" stroke="#16078a"/>
<rect x="62.00" y="128.93" width="10.85" height="8.24" fill="#16078a" stroke="#16078a"/>
<rect x="72.85" y="128.93" width="10.85" height="8.24" fill="#16078a" stroke="#16078a"/>
<rect x="83.70" y="128.93" width="10.85" height="8.24" fill="#16078a" stroke="#16078a"/>
<rect x="94.55" y="128.93" width="10.85" height="8.24" fill="#1d068e" stroke="#1d068e"/>
<rect x="105.40" y="128.93" width="10.85" height="8.24" fill="#2a0593" stroke="#2a0593"/>
<rect x="116.25" y="128.93" width="10.85" height="8.24" fill="#3a049a" stroke="#3a049a"/>
<rect x="127.10" y="128.93" width="10.85" height="8.24" fill="#5102a3" stroke="#5102a3"/>
<rect x="137.95" y="128.93" width="10.85" height="8.24" fill="#6f00a8" stroke="#6f00a8"/>
<rect x="148.80" y="128.93" width="10.85" height="8.24" fill="#9511a1" stroke="#9511a1"/>
<rect x="159.65" y="128.93" width="10.85" height="8.24" fill="#b7318a" stroke="#b7318a"/>
<rect x="170.50" y="128.93" width="10.85" height="8.24" fill="#d5546e" stroke="#d5546e"/>
<rect x="181.35" y="128.93" width="10.85" height="8.24" fill="#f68f44" stroke="#f68f44"/>
<rect x="192.20" y="128.93" width="10.85" height="8.24" fill="#feb82c" stroke="#feb82c"/>
<rect x="203.05" y="128.93" width="10.85" height="8.24" fill="#fad824" stroke="#fad824"/>
<rect x="213.90" y="128.93" width="10.85" height="8.24" fill="#f3ee27" stroke="#f3ee27"/>
<rect x="224.75" y="128.93" width="10.85" height="8.24" fill="#f1f426" stroke="#f1f426"/>
<rect x="235.60" y="128.93" width="10.85" height="8.24" fill="#f1f525" stroke="#f1f525"/>
<rect x="246.45" y="128.93" width="10.85" height="8.24" fill="#f1f525" stroke="#f1f525"/>
<rect x="29.45" y="137.17" width="10.85" height="8.24" fill="#16078a" stroke="#16078a"/>
<rect x="40.30" y="137.17" width="10.85" height="8.24" fill="#16078a" stroke="#16078a"/>
<rect x="51.15" y="137.17" width="10.85" height="8.24" fill="#16078a" stroke="#16078a"/>
<rect x="62.00" y="137.17" width="10.85" height="8.24" fill="#16078a" stroke="#16078a"/>
<rect x="72.85" y="137.17" width="10.85" height="8.24" fill="#16078a" stroke="#16078a"/>
<rect x="83.70" y="137.17" width="10.85" height="8.24" fill="#16078a" stroke="#16078a"/>
<rect x="94.55" y="137.17" width="10.85" height="8.24" fill="#20068f" stroke="#20068f"/>
<rect x="105.40" y="137.17" width="10.85" height="8.24" fill="#2e0595" stroke="#2e0595"/>
<rect x="116.25" y="137.17" width="10.85" height="8.24" fill="#43039e" stroke="#43039e"/>
<rect x="127.10" y="137.17" width="10.85" height="8.24" fill="#5c01a6" stroke="#5c01a6"/>
<rect x="137.95" y="137.17" width="10.85" height="8.24" fill="#8004a8" stroke="#8004a8"/>
<rect x="148.80" y="137.17" width="10.85" height="8.24" fill="#a62098" stroke="#a62098"/>
<rect x="159.65" y="137.17" width="10.85" height="8.24" fill="#c43e7f" stroke="#c43e7f"/>
<rect x="170.50" y="137.17" width="10.85" height="8.24" fill="#e4695e" stroke="#e4695e"/>
<rect x="181.35" y="137.17" width="10.85" height="8.24" fill="#fa9c3c" stroke="#fa9c3c"/>
<rect x="192.20" y="137.17" width="10.85" height="8.24" fill="#fdc229" stroke="#fdc229"/>
<rect x="203.05" y="137.17" width="10.85" height="8.24" fill="#f8e125" stroke="#f8e125"/>
<rect x="213.90" y="137.17" width="10.85" height="8.24" fill="#f6e826" stroke="#f6e826"/>
<rect x="224.75" y="137.17" width="10.85" height="8.24" fill="#f1f525" stroke="#f1f525"/>
<rect x="235.60" y="137.17" width="10.85" height="8.24" fill="#f1f525" stroke="#f1f525"/>
<rect x="246.45" y="137.17" width="10.85" height="8.24" fill="#f1f525" stroke="#f1f525"/>
<rect x="29.45" y="145.42" width="10.85" height="8.24" fill="#16078a" stroke="#16078a"/>
<rect x="40.30" y="145.42" width="10.85" height="8.24" fill="#16078a" stroke="#16078a"/>
<rect x="51.15" y="145.42" width="10.85" height="8.24" fill="#16078a" stroke="#16078a"/>
<rect x="62.00" y="145.42" width="10.85" height="8.24" fill="#16078a" stroke="#16078a"/>
<rect x="72.85" y="145.42" width="10.85" height="8.24" fill="#16078a" stroke="#16078a"/>
<rect x="83.70" y="145.42" width="10.85" height="8.24" fill="#1b068d" stroke="#1b068d"/>
<rect x="94.55" y="145.42" width="10.85" height="8.24" fill="#260591" stroke="#260591"/>
<rect x="105.40" y="145.42" width="10.85" height="8.24" fill="#350498" stroke="#350498"/>
<rect x="116.25" y="145.42" width="10.85" height="8.24" fill="#4e02a2" stroke="#4e02a2"/>
<rect x="127.10" y="145.42" width="10.85" height="8.24" fill="#6f00a8" stroke="#6f00a8"/>
<rect x="137.95" y="145.42" width="10.85" height="8.24" fill="#9410a2" stroke="#9410a2"/>
<rect x="148.80" y="145.42" width="10.85" height="8.24" fill="#b83289" stroke="#b83289"/>
<rect x="159.65" y="145.42" width="10.85" height="8.24" fill="#d6556d" stroke="#d6556d"/>
<rect x="170.50" y="145.42" width="10.85" height="8.24" fill="#f1814d" stroke="#f1814d"/>
<rect x="181.35" y="145.42" width="10.85" height="8.24" fill="#fdae32" stroke="#fdae32"/>
<rect x="192.20" y="145.42" width="10.85" height="8.24" fill="#fcce25" stroke="#fcce25"/>
<rect x="203.05" y="145.42" width="10.85" height="8.24" fill="#f3ee27" stroke="#f3ee27"/>
<rect x="213.90" y="145.42" width="10.85" height="8.24" fill="#f3ee27" stroke="#f3ee27"/>
<rect x="224.75" y="145.42" width="10.85" height="8.24" fill="#f1f525" stroke="#f1f525"/>
<rect x="235.60" y="145.42" width="10.85" height="8.24" fill="#f1f525" stroke="#f1f525"/>
<rect x="246.45" y="145.42" width="10.85" height="8.24" fill="#f1f525" stroke="#f1f525"/>
<rect x="29.45" y="153.66" width="10.85" height="8.24" fill="#16078a" stroke="#16078a"/>
<rect x="40.30" y="153.66" width="10.85" height="8.24" fill="#16078a" stroke="#16078a"/>
<rect x="51.15" y="153.66" width="10.85" height="8.24" fill="#16078a" stroke="#16078a"/>
<rect x="62.00" y="153.66" width="10.85" height="8.24" fill="#16078a" stroke="#16078a"/>
<rect x="72.85" y="153.66" width="10.85" height="8.24" fill="#16078a" stroke="#16078a"/>
<rect x="83.70" y="153.66" width="10.85" height="8.24" fill="#1b068d" stroke="#1b068d"/>
<rect x="94.55" y="153.66" width="10.85" height="8.24" fill="#2a0593" stroke="#2a0593"/>
<rect x="105.40" y="153.66" width="10.85" height="8.24" fill="#41049d" stroke="#41049d"/>
<rect x="116.25" y="153.66" width="10.85" height="8.24" fill="#5c01a6" stroke="#5c01a6"/>
<rect x="127.10" y="153.66" width="10.85" height="8.24" fill="#8004a8" stroke="#8004a8"/>
<rect x="137.95" y="153.66" width="10.85" height="8.24" fill="#a51f99" stroke="#a51f99"/>
<rect x="148.80" y="153.66" width="10.85" height="8.24" fill="#cc4778" stroke="#cc4778"/>
<rect x="159.65" y="153.66" width="10.85" height="8.24" fill="#e87059" stroke="#e87059"/>
<rect x="170.50" y="153.66" width="10.85" height="8.24" fill="#f99a3e" stroke="#f99a3e"/>
<rect x="181.35" y="153.66" width="10.85" height="8.24" fill="#fdc229" stroke="#fdc229"/>
<rect x="192.20" y="153.66" width="10.85" height="8.24" fill="#f8e125" stroke="#f8e125"/>
<rect x="203.05" y="153.66" width="10.85" height="8.24" fill="#f6e826" stroke="#f6e826"/>
<rect x="213.90" y="153.66" width="10.85" height="8.24" fill="#f1f525" stroke="#f1f525"/>
<rect x="224.75" y="153.66" width="10.85" height="8.24" fill="#f1f525" stroke="#f1f525"/>
<rect x="235.60" y="153.66" width="10.85" height="8.24" fill="#f1f525" stroke="#f1f525"/>
<rect x="246.45" y="153.66" width="10.85" height="8.24" fill="#f1f525" stroke="#f1f525"/>
<rect x="29.45" y="161.91" width="10.85" height="8.24" fill="#16078a" stroke="#16078a"/>
<rect x="40.30" y="161.91" width="10.85" height="8.24" fill="#16078a" stroke="#16078a"/>
<rect x="51.15" y="161.91" width="10.85" height="8.24" fill="#16078a" stroke="#16078a"/>
<rect x="62.00" y="161.91" width="10.85" height="8.24" fill="#16078a" stroke="#16078a"/>
<rect x="72.85" y="161.91" width="10.85" height="8.24" fill="#16078a" stroke="#16078a"/>
<rect x="83.70" y="161.91" width="10.85" height="8.24" fill="#1b068d" stroke="#1b068d"/>
<rect x="94.55" y="161.91" width="10.85" height="8.24" fill="#330597" stroke="#330597"/>
<rect x="105.40" y="161.91" width="10.85" height="8.24" fill="#4903a0" stroke="#4903a0"/>
<rect x="116.25" y="161.91" width="10.85" height="8.24" fill="#6a00a8" stroke="#6a00a8"/>
<rect x="127.10" y="161.91" width="10.85" height="8.24" fill="#8e0ca4" stroke="#8e0ca4"/>
<rect x="137.95" y="161.91" width="10.85" height="8.24" fill="#b6308b" stroke="#b6308b"/>
<rect x="148.80" y="161.91" width="10.85" height="8.24" fill="#dc5d67" stroke="#dc5d67"/>
<rect x="159.65" y="161.91" width="10.85" height="8.24" fill="#f3854b" stroke="#f3854b"/>
<rect x="170.50" y="161.91" width="10.85" height="8.24" fill="#fdab33" stroke="#fdab33"/>
<rect x="181.35" y="161.91" width="10.85" height="8.24" fill="#fcce25" stroke="#fcce25"/>
<rect x="192.20" y="161.91" width="10.85" height="8.24" fill="#f3ee27" stroke="#f3ee27"/>
<rect x="203.05" y="161.91" width="10.85" height="8.24" fill="#f3ee27" stroke="#f3ee27"/>
<rect x="213.90" y="161.91" width="10.85" height="8.24" fill="#f1f525" stroke="#f1f525"/>
<rect x="224.75" y="161.91" width="10.85" height="8.24" fill="#f1f525" stroke="#f1f525"/>
<rect x="235.60" y="161.91" width="10.85" height="8.24" fill="#f1f525" stroke="#f1f525"/>
<rect x="246.45" y="161.91" width="10.85" height="8.24" fill="#f1f525" stroke="#f1f525"/>
<rect x="29.45" y="170.15" width="10.85" height="8.24" fill="#16078a" stroke="#16078a"/>
<rect x="40.30" y="170.15" width="10.85" height="8.24" fill="#16078a" stroke="#16078a"/>
<rect x="51.15" y="170.15" width="10.85" height="8.24" fill="#16078a" stroke="#16078a"/>
<rect x="62.00" y="170.15" width="10.85" height="8.24" fill="#16078a" stroke="#16078a"/>
<rect x="72.85" y="170.15" width="10.85" height="8.24" fill="#1b068d" stroke="#1b068d"/>
<rect x="83.70" y="170.15" width="10.85" height="8.24" fill="#2a0593" stroke="#2a0593"/>
<rect x="94.55" y="170.15" width="10.85" height="8.24" fill="#38049a" stroke="#38049a"/>
<rect x="105.40" y="170.15" width="10.85" height="8.24" fill="#5601a4" stroke="#5601a4"/>
<rect x="116.25" y="170.15" width="10.85" height="8.24" fill="#7201a8" stroke="#7201a8"/>
<rect x="127.10" y="170.15" width="10.85" height="8.24" fill="#9e199d" stroke="#9e199d"/>
<rect x="137.95" y="170.15" width="10.85" height="8.24" fill="#c6417d" stroke="#c6417d"/>
<rect x="148.80" y="170.15" width="10.85" height="8.24" fill="#ed7a52" stroke="#ed7a52"/>
<rect x="159.65" y="170.15" width="10.85" height="8.24" fill="#fb9f3a" stroke="#fb9f3a"/>
<rect x="170.50" y="170.15" width="10.85" height="8.24" fill="#fdc527" stroke="#fdc527"/>
<rect x="181.35" y="170.15" width="10.85" height="8.24" fill="#f8e125" stroke="#f8e125"/>
<rect x="192.20" y="170.15" width="10.85" height="8.24" fill="#f6e826" stroke="#f6e826"/>
<rect x="203.05" y="170.15" width="10.85" height="8.24" fill="#f1f525" stroke="#f1f525"/>
<rect x="213.90" y="170.15" width="10.85" height="8.24" fill="#f1f525" stroke="#f1f525"/>
<rect x="224.75" y="170.15" width="10.85" height="8.24" fill="#f1f525" stroke="#f1f525"/>
<rect x="235.60" y="170.15" width="10.85" height="8.24" fill="#f1f525" stroke="#f1f525"/>
<rect x="246.45" y="170.15" width="10.85" height="8.24" fill="#f1f525" stroke="#f1f525"/>
<rect x="29.45" y="178.40" width="10.85" height="8.24" fill="#16078a" stroke="#16078a"/>
<rect x="40.30" y="178.40" width="10.85" height="8.24" fill="#16078a" stroke="#16078a"/>
<rect x="51.15" y="178.40" width="10.85" height="8.24" fill="#16078a" stroke="#16078a"/>
<rect x="62.00" y="178.40" width="10.85" height="8.24" fill="#20068f" stroke="#20068f"/>
<rect x="72.85" y="178.40" width="10.85" height="8.24" fill="#2f0596" stroke="#2f0596"/>
<rect x="83.70" y="178.40" width="10.85" height="8.24" fill="#41049d" stroke="#41049d"/>
<rect x="94.55" y="178.40" width="10.85" height="8.24" fill="#4903a0" stroke="#4903a0"/>
<rect x="105.40" y="178.40" width="10.85" height="8.24" fill="#6a00a8" stroke="#6a00a8"/>
<rect x="116.25" y="178.40" width="10.85" height="8.24" fill="#8808a6" stroke="#8808a6"/>
<rect x="127.10" y="178.40" width="10.85" height="8.24" fill="#ad2793" stroke="#ad2793"/>
<rect x="137.95" y="178.40" width="10.85" height="8.24" fill="#e3685f" stroke="#e3685f"/>
<rect x="148.80" y="178.40" width="10.85" height="8.24" fill="#f89540" stroke="#f89540"/>
<rect x="159.65" y="178.40" width="10.85" height="8.24" fill="#feb72d" stroke="#feb72d"/>
<rect x="170.50" y="178.40" width="10.85" height="8.24" fill="#fbd524" stroke="#fbd524"/>
<rect x="181.35" y="178.40" width="10.85" height="8.24" fill="#f3ee27" stroke="#f3ee27"/>
<rect x="192.20" y="178.40" width="10.85" height="8.24" fill="#f3ee27" stroke="#f3ee27"/>
<rect x="203.05" y="178.40" width="10.85" height="8.24" fill="#f1f525" stroke="#f1f525"/>
<rect x="213.90" y="178.40" width="10.85" height="8.24" fill="#f1f525" stroke="#f1f525"/>
<rect x="224.75" y="178.40" width="10.85" height="8.24" fill="#f1f525" stroke="#f1f525"/>
<rect x="235.60" y="178.40" width="10.85" height="8.24" fill="#f1f525" stroke="#f1f525"/>
<rect x="246.45" y="178.40" width="10.85" height="8.24" fill="#f1f525" stroke="#f1f525"/>
<rect x="29.45" y="186.64" width="10.85" height="8.24" fill="#1b068d" stroke="#1b068d"/>
<rect x="40.30" y="186.64" width="10.85" height="8.24" fill="#20068f" stroke="#20068f"/>
<rect x="51.15" y="186.64" width="10.85" height="8.24" fill="#2a0593" stroke="#2a0593"/>
<rect x="62.00" y="186.64" width="10.85" height="8.24" fill="#38049a" stroke="#38049a"/>
<rect x="72.85" y="186.64" width="10.85" height="8.24" fill="#4903a0" stroke="#4903a0"/>
<rect x="83.70" y="186.64" width="10.85" height="8.24" fill="#6300a7" stroke="#6300a7"/>
<rect x="94.55" y="186.64" width="10.85" height="8.24" fill="#6a00a8" stroke="#6a00a8"/>
<rect x="105.40" y="186.64" width="10.85" height="8.24" fill="#8808a6" stroke="#8808a6"/>
<rect x="116.25" y="186.64" width="10.85" height="8.24" fill="#ab2494" stroke="#ab2494"/>
<rect x="127.10" y="186.64" width="10.85" height="8.24" fill="#c9447a" stroke="#c9447a"/>
<rect x="137.95" y="186.64" width="10.85" height="8.24" fill="#f3874a" stroke="#f3874a"/>
<rect x="148.80" y="186.64" width="10.85" height="8.24" fill="#fdb22f" stroke="#fdb22f"/>
<rect x="159.65" y="186.64" width="10.85" height="8.24" fill="#fdc827" stroke="#fdc827"/>
<rect x="170.50" y="186.64" width="10.85" height="8.24" fill="#f3ee27" stroke="#f3ee27"/>
<rect x="181.35" y="186.64" width="10.85" height="8.24" fill="#f3ee27" stroke="#f3ee27"/>
<rect x="192.20" y="186.64" width="10.85" height="8.24" fill="#f1f525" stroke="#f1f525"/>
<rect x="203.05" y="186.64" width="10.85" height="8.24" fill="#f1f525" stroke="#f1f525"/>
<rect x="213.90" y="186.64" width="10.85" height="8.24" fill="#f1f525" stroke="#f1f525"/>
<rect x="224.75" y="186.64" width="10.85" height="8.24" fill="#f1f525" stroke="#f1f525"/>
<rect x="235.60" y="186.64" width="10.85" height="8.24" fill="#f1f525" stroke="#f1f525"/>
<rect x="246.45" y="186.64" width="10.85" height="8.24" fill="#f1f525" stroke="#f1f525"/>
<rect x="29.45" y="194.89" width="10.85" height="8.24" fill="#20068f" stroke="#20068f"/>
<rect x="40.30" y="194.89" width="10.85" height="8.24" fill="#2a0593" stroke="#2a0593"/>
<rect x="51.15" y="194.89" width="10.85" height="8.24" fill="#38049a" stroke="#38049a"/>
<rect x="62.00" y="194.89" width="10.85" height="8.24" fill="#4903a0" stroke="#4903a0"/>
<rect x="72.85" y="194.89" width="10.85" height="8.24" fill="#6300a7" stroke="#6300a7"/>
<rect x="83.70" y="194.89" width="10.85" height="8.24" fill="#7e03a8" stroke="#7e03a8"/>
<rect x="94.55" y="194.89" width="10.85" height="8.24" fill="#8f0da4" stroke="#8f0da4"/>
<rect x="105.40" y="194.89" width="10.85" height="8.24" fill="#a11b9b" stroke="#a11b9b"/>
<rect x="116.25" y="194.89" width="10.85" height="8.24" fill="#bf3984" stroke="#bf3984"/>
<rect x="127.10" y="194.89" width="10.85" height="8.24" fill="#e76e5b" stroke="#e76e5b"/>
<rect x="137.95" y="194.89" width="10.85" height="8.24" fill="#fca636" stroke="#fca636"/>
<rect x="148.80" y="194.89" width="10.85" height="8.24" fill="#fdc827" stroke="#fdc827"/>
<rect x="159.65" y="194.89" width="10.85" height="8.24" fill="#f8e125" stroke="#f8e125"/>
<rect x="170.50" y="194.89" width="10.85" height="8.24" fill="#f6e826" stroke="#f6e826"/>
<rect x="181.35" y="194.89" width="10.85" height="8.24" fill="#f1f525" stroke="#f1f525"/>
<rect x="192.20" y="194.89" width="10.85" height="8.24" fill="#f1f525" stroke="#f1f525"/>
<rect x="203.05" y="194.89" width="10.85" height="8.24" fill="#f1f525" stroke="#f1f525"/>
<rect x="213.90" y="194.89" width="10.85" height="8.24" fill="#f1f525" stroke="#f1f525"/>
<rect x="224.75" y="194.89" width="10.85" height="8.24" fill="#f1f525" stroke="#f1f525"/>
<rect x="235.60" y="194.89" width="10.85" height="8.24" fill="#f1f525" stroke="#f1f525"/>
<rect x="246.45" y="194.89" width="10.85" height="8.24" fill="#f1f525" stroke="#f1f525"/>
<rect x="29.45" y="203.13" width="10.85" height="8.24" fill="#260591" stroke="#260591"/>
<rect x="40.30" y="203.13" width="10.85" height="8.24" fill="#2f0596" stroke="#2f0596"/>
<rect x="51.15" y="203.13" width="10.85" height="8.24" fill="#41049d" stroke="#41049d"/>
<rect x="62.00" y="203.13" width="10.85" height="8.24" fill="#5601a4" stroke="#5601a4"/>
<rect x="72.85" y="203.13" width="10.85" height="8.24" fill="#7201a8" stroke="#7201a8"/>
<rect x="83.70" y="203.13" width="10.85" height="8.24" fill="#8f0da4" stroke="#8f0da4"/>
<rect x="94.55" y="203.13" width="10.85" height="8.24" fill="#ab2494" stroke="#ab2494"/>
<rect x="105.40" y="203.13" width="10.85" height="8.24" fill="#bf3984" stroke="#bf3984"/>
<rect x="116.25" y="203.13" width="10.85" height="8.24" fill="#e3685f" stroke="#e3685f"/>
<rect x="127.10" y="203.13" width="10.85" height="8.24" fill="#f79143" stroke="#f79143"/>
<rect x="137.95" y="203.13" width="10.85" height="8.24" fill="#fdc229" stroke="#fdc229"/>
<rect x="148.80" y="203.13" width="10.85" height="8.24" fill="#f8e125" stroke="#f8e125"/>
<rect x="159.65" y="203.13" width="10.85" height="8.24" fill="#f3ee27" stroke="#f3ee27"/>
<rect x="170.50" y="203.13" width="10.85" height="8.24" fill="#f3ee27" stroke="#f3ee27"/>
<rect x="181.35" y="203.13" width="10.85" height="8.24" fill="#f1f525" stroke="#f1f525"/>
<rect x="192.20" y="203.13" width="10.85" height="8.24" fill="#f1f525" stroke="#f1f525"/>
<rect x="203.05" y="203.13" width="10.85" height="8.24" fill="#f1f525" stroke="#f1f525"/>
<rect x="213.90" y="203.13" width="10.85" height="8.24" fill="#f1f525" stroke="#f1f525"/>
<rect x="224.75" y="203.13" width="10.85" height="8.24" fill="#f1f525" stroke="#f1f525"/>
<rect x="235.60" y="203.13" width="10.85" height="8.24" fill="#f1f525" stroke="#f1f525"/>
<rect x="246.45" y="203.13" width="10.85" height="8.24" fill="#f1f525" stroke="#f1f525"/>
<rect x="29.45" y="211.38" width="10.85" height="8.24" fill="#2a0593" stroke="#2a0593"/>
<rect x="40.30" y="211.38" width="10.85" height="8.24" fill="#38049a" stroke="#38049a"/>
<rect x="51.15" y="211.38" width="10.85" height="8.24" fill="#4903a0" stroke="#4903a0"/>
<rect x="62.00" y="211.38" width="10.85" height="8.24" fill="#6600a7" stroke="#6600a7"/>
<rect x="72.85" y="211.38" width="10.85" height="8.24" fill="#8808a6" stroke="#8808a6"/>
<rect x="83.70" y="211.38" width="10.85" height="8.24" fill="#a51f99" stroke="#a51f99"/>
<rect x="94.55" y="211.38" width="10.85" height="8.24" fill="#ba3388" stroke="#ba3388"/>
<rect x="105.40" y="211.38" width="10.85" height="8.24" fill="#d9586a" stroke="#d9586a"/>
<rect x="116.25" y="211.38" width="10.85" height="8.24" fill="#f2844b" stroke="#f2844b"/>
<rect x="127.10" y="211.38" width="10.85" height="8.24" fill="#fdae32" stroke="#fdae32"/>
<rect x="137.95" y="211.38" width="10.85" height="8.24" fill="#fbd524" stroke="#fbd524"/>
<rect x="148.80" y="211.38" width="10.85" height="8.24" fill="#f3ee27" stroke="#f3ee27"/>
<rect x="159.65" y="211.38" width="10.85" height="8.24" fill="#f3ee27" stroke="#f3ee27"/>
<rect x="170.50" y="211.38" width="10.85" height="8.24" fill="#f1f525" stroke="#f1f525"/>
<rect x="181.35" y="211.38" width="10.85" height="8.24" fill="#f1f525" stroke="#f1f525"/>
<rect x="192.20" y="211.38" width="10.85" height="8.24" fill="#f1f525" stroke="#f1f525"/>
<rect x="203.05" y="211.38" width="10.85" height="8.24" fill="#f1f525" stroke="#f1f525"/>
<rect x="213.90" y="211.38" width="10.85" height="8.24" fill="#f1f525" stroke="#f1f525"/>
<rect x="224.75" y="211.38" width="10.85" height="8.24" fill="#f1f525" stroke="#f1f525"/>
<rect x="235.60" y="211.38" width="10.85" height="8.24" fill="#f1f525" stroke="#f1f525"/>
<rect x="246.45" y="211.38" width="10.85" height="8.24" fill="#f1f525" stroke="#f1f525"/>
<rect x="29.45" y="219.62" width="10.85" height="8.24" fill="#2f0596" stroke="#2f0596"/>
<rect x="40.30" y="219.62" width="10.85" height="8.24" fill="#41049d" stroke="#41049d"/>
<rect x="51.15" y="219.62" width="10.85" height="8.24" fill="#5601a4" stroke="#5601a4"/>
<rect x="62.00" y="219.62" width="10.85" height="8.24" fill="#6e00a8" stroke="#6e00a8"/>
<rect x="72.85" y="219.62" width="10.85" height="8.24" fill="#9613a1" stroke="#9613a1"/>
<rect x="83.70" y="219.62" width="10.85" height="8.24" fill="#b6308b" stroke="#b6308b"/>
<rect x="94.55" y="219.62" width="10.85" height="8.24" fill="#d04d73" stroke="#d04d73"/>
<rect x="105.40" y="219.62" width="10.85" height="8.24" fill="#e76e5b" stroke="#e76e5b"/>
<rect x="116.25" y="219.62" width="10.85" height="8.24" fill="#f89540" stroke="#f89540"/>
<rect x="127.10" y="219.62" width="10.85" height="8.24" fill="#fdc229" stroke="#fdc229"/>
<rect x="137.95" y="219.62" width="10.85" height="8.24" fill="#f6e826" stroke="#f6e826"/>
<rect x="148.80" y="219.62" width="10.85" height="8.24" fill="#f3ee27" stroke="#f3ee27"/>
<rect x="159.65" y="219.62" width="10.85" height="8.24" fill="#f1f525" stroke="#f1f525"/>
<rect x="170.50" y="219.62" width="10.85" height="8.24" fill="#f1f525" stroke="#f1f525"/>
<rect x="181.35" y="219.62" width="10.85" height="8.24" fill="#f1f525" stroke="#f1f525"/>
<rect x="192.20" y="219.62" width="10.85" height="8.24" fill="#f1f525" stroke="#f1f525"/>
<rect x="203.05" y="219.62" width="10.85" height="8.24" fill="#f1f525" stroke="#f1f525"/>
<rect x="213.90" y="219.62" width="10.85" height="8.24" fill="#f1f525" stroke="#f1f525"/>
<rect x="224.75" y="219.62" width="10.85" height="8.24" fill="#f1f525" stroke="#f1f525"/>
<rect x="235.60" y="219.62" width="10.85" height="8.24" fill="#f1f525" stroke="#f1f525"/>
<rect x="246.45" y="219.62" width="10.85" height="8.24" fill="#f1f525" stroke="#f1f525"/>
<rect x="29.45" y="227.87" width="10.85" height="8.24" fill="#38049a" stroke="#38049a"/>
<rect x="40.30" y="227.87" width="10.85" height="8.24" fill="#41049d" stroke="#41049d"/>
<rect x="51.15" y="227.87" width="10.85" height="8.24" fill="#5601a4" stroke="#5601a4"/>
<rect x="62.00" y="227.87" width="10.85" height="8.24" fill="#7501a8" stroke="#7501a8"/>
<rect x="72.85" y="227.87" width="10.85" height="8.24" fill="#a11b9b" stroke="#a11b9b"/>
<rect x="83.70" y="227.87" width="10.85" height="8.24" fill="#c43e7f" stroke="#c43e7f"/>
<rect x="94.55" y="227.87" width="10.85" height="8.24" fill="#dd5e66" stroke="#dd5e66"/>
<rect x="105.40" y="227.87" width="10.85" height="8.24" fill="#f2844b" stroke="#f2844b"/>
<rect x="116.25" y="227.87" width="10.85" height="8.24" fill="#fdae32" stroke="#fdae32"/>
<rect x="127.10" y="227.87" width="10.85" height="8.24" fill="#fcce25" stroke="#fcce25"/>
<rect x="137.95" y="227.87" width="10.85" height="8.24" fill="#f3ee27" stroke="#f3ee27"/>
<rect x="148.80" y="227.87" width="10.85" height="8.24" fill="#f1f525" stroke="#f1f525"/>
<rect x="159.65" y="227.87" width="10.85" height="8.24" fill="#f1f525" stroke="#f1f525"/>
<rect x="170.50" y="227.87" width="10.85" height="8.24" fill="#f1f525" stroke="#f1f525"/>
<rect x="181.35" y="227.87" width="10.85" height="8.24" fill="#f1f525" stroke="#f1f525"/>
<rect x="192.20" y="227.87" width="10.85" height="8.24" fill="#f1f525" stroke="#f1f525"/>
<rect x="203.05" y="227.87" width="10.85" height="8.24" fill="#f1f525" stroke="#f1f525"/>
<rect x="213.90" y="227.87" width="10.85" height="8.24" fill="#f1f525" stroke="#f1f525"/>
<rect x="224.75" y="227.87" width="10.85" height="8.24" fill="#f1f525" stroke="#f1f525"/>
<rect x="235.60" y="227.87" width="10.85" height="8.24" fill="#f1f525" stroke="#f1f525"/>
<rect x="246.45" y="227.87" width="10.85" height="8.24" fill="#f1f525" stroke="#f1f525"/>
<rect x="29.45" y="236.11" width="10.85" height="8.24" fill="#38049a" stroke="#38049a"/>
<rect x="40.30" y="236.11" width="10.85" height="8.24" fill="#4903a0" stroke="#4903a0"/>
<rect x="51.15" y="236.11" width="10.85" height="8.24" fill="#6300a7" stroke="#6300a7"/>
<rect x="62.00" y="236.11" width="10.85" height="8.24" fill="#7e03a8" stroke="#7e03a8"/>
<rect x="72.85" y="236.11" width="10.85" height="8.24" fill="#a72197" stroke="#a72197"/>
<rect x="83.70" y="236.11" width="10.85" height="8.24" fill="#c6417d" stroke="#c6417d"/>
<rect x="94.55" y="236.11" width="10.85" height="8.24" fill="#e16462" stroke="#e16462"/>
<rect x="105.40" y="236.11" width="10.85" height="8.24" fill="#f58b47" stroke="#f58b47"/>
<rect x="116.25" y="236.11" width="10.85" height="8.24" fill="#feb72d" stroke="#feb72d"/>
<rect x="127.10" y="236.11" width="10.85" height="8.24" fill="#f9dc24" stroke="#f9dc24"/>
<rect x="137.95" y="236.11" width="10.85" height="8.24" fill="#f3ee27" stroke="#f3ee27"/>
<rect x="148.80" y="236.11" width="10.85" height="8.24" fill="#f1f525" stroke="#f1f525"/>
<rect x="159.65" y="236.11" width="10.85" height="8.24" fill="#f1f525" stroke="#f1f525"/>
<rect x="170.50" y="236.11" width="10.85" height="8.24" fill="#f1f525" stroke="#f1f525"/>
<rect x="181.35" y="236.11" width="10.85" height="8.24" fill="#f1f525" stroke="#f1f525"/>
<rect x="192.20" y="236.11" width="10.85" height="8.24" fill="#f1f525" stroke="#f1f525"/>
<rect x="203.05" y="236.11" width="10.85" height="8.24" fill="#f1f525" stroke="#f1f525"/>
<rect x="213.90" y="236.11" width="10.85" height="8.24" fill="#f1f525" stroke="#f1f525"/>
<rect x="224.75" y="236.11" width="10.85" height="8.24" fill="#f1f525" stroke="#f1f525"/>
<rect x="235.60" y="236.11" width="10.85" height="8.24" fill="#f1f525" stroke="#f1f525"/>
<rect x="246.45" y="236.11" width="10.85" height="8.24" fill="#f1f525" stroke="#f1f525"/>
<rect x="29.45" y="244.36" width="10.85" height="8.24" fill="#41049d" stroke="#41049d"/>
<rect x="40.30" y="244.36" width="10.85" height="8.24" fill="#4903a0" stroke="#4903a0"/>
<rect x="51.15" y="244.36" width="10.85" height="8.24" fill="#6300a7" stroke="#6300a7"/>
<rect x="62.00" y="244.36" width="10.85" height="8.24" fill="#8606a6" stroke="#8606a6"/>
<rect x="72.85" y="244.36" width="10.85" height="8.24" fill="#b12a90" stroke="#b12a90"/>
<rect x="83.70" y="244.36" width="10.85" height="8.24" fill="#cc4778" stroke="#cc4778"/>
<rect x="94.55" y="244.36" width="10.85" height="8.24" fill="#e16462" stroke="#e16462"/>
<rect x="105.40" y="244.36" width="10.85" height="8.24" fill="#f58b47" stroke="#f58b47"/>
<rect x="116.25" y="244.36" width="10.85" height="8.24" fill="#feb72d" stroke="#feb72d"/>
<rect x="127.10" y="244.36" width="10.85" height="8.24" fill="#f9dc24" stroke="#f9dc24"/>
<rect x="137.95" y="244.36" width="10.85" height="8.24" fill="#f6e826" stroke="#f6e826"/>
<rect x="148.80" y="244.36" width="10.85" height="8.24" fill="#f1f525" stroke="#f1f525"/>
<rect x="159.65" y="244.36" width="10.85" height="8.24" fill="#f1f525" stroke="#f1f525"/>
<rect x="170.50" y="244.36" width="10.85" height="8.24" fill="#f1f525" stroke="#f1f525"/>
<rect x="181.35" y="244.36" width="10.85" height="8.24" fill="#f1f525" stroke="#f1f525"/>
<rect x="192.20" y="244.36" width="10.85" height="8.24" fill="#f1f525" stroke="#f1f525"/>
<rect x="203.05" y="244.36" width="10.85" height="8.24" fill="#f1f525" stroke="#f1f525"/>
<rect x="213.90" y="244.36" width="10.85" height="8.24" fill="#f1f525" stroke="#f1f525"/>
<rect x="224.75" y="244.36" width="10.85" height="8.24" fill="#f1f525" stroke="#f1f525"/>
<rect x="235.60" y="244.36" width="10.85" height="8.24" fill="#f1f525" stroke="#f1f525"/>
<rect x="246.45" y="244.36" width="10.85" height="8.24" fill="#f1f525" stroke="#f1f525"/>
</g>
<g clip-path="url(#cp)" fill="none" stroke="#000">
<path d="M34.60,173.61 L37.31,171.65 L40.02,169.65 L42.74,167.60 L45.45,165.51 L48.16,163.36 L50.88,161.17 L53.59,158.92 L56.30,156.63 L59.01,154.28 L61.73,151.87 L64.44,149.41 L67.15,146.89 L69.86,144.31 L72.58,141.68 L75.29,138.98 L78.00,136.21 L80.71,133.39 L83.43,130.50 L86.14,127.54 L88.85,124.51 L91.56,121.41 L94.28,118.24 L96.99,114.99 L99.70,111.67 L102.41,108.27 L105.12,104.80 L107.84,101.24 L110.55,97.60 L113.26,93.87 L115.97,90.06 L118.69,86.16 L121.40,82.17 L124.11,78.08 L126.82,73.90 L129.54,69.62 L132.25,65.25 L134.96,60.77 L137.68,56.18 L140.39,51.49 L143.10,46.69 L145.81,41.78 L148.53,36.76 L151.24,31.61 L153.95,26.35 L156.66,20.96 L159.38,15.45 L162.09,9.81 L164.80,4.04 L167.51,-1.86 L170.22,-7.90 L172.94,-14.09 L175.65,-20.41 L178.36,-26.89 L181.07,-33.51 L183.79,-40.29 L186.50,-47.23 L189.21,-54.33 L191.92,-61.60 L194.64,-69.03 L197.35,-76.64 L200.06,-84.42 L202.78,-92.39 L205.49,-100.54 L208.20,-108.88 L210.91,-117.41 L213.62,-126.15 L216.34,-135.08 L219.05,-144.23 L221.76,-153.59 L224.47,-163.17 L227.19,-172.97 L229.90,-182.99 L232.61,-193.25 L235.32,-203.76 L238.04,-214.50 L240.75,-225.50 L243.46,-236.75 L246.17,-248.26 L248.89,-260.04 L251.60,-272.10" stroke-width="1.5"/>
<path d="M34.60,203.80 L37.31,202.54 L40.02,201.24 L42.74,199.92 L45.45,198.56 L48.16,197.17 L50.88,195.75 L53.59,194.29 L56.30,192.80 L59.01,191.28 L61.73,189.72 L64.44,188.12 L67.15,186.49 L69.86,184.82 L72.58,183.10 L75.29,181.35 L78.00,179.56 L80.71,177.72 L83.43,175.84 L86.14,173.92 L88.85,171.95 L91.56,169.94 L94.28,167.87 L96.99,165.76 L99.70,163.60 L102.41,161.39 L105.12,159.13 L107.84,156.81 L110.55,154.44 L113.26,152.01 L115.97,149.53 L118.69,146.98 L121.40,144.38 L124.11,141.72 L126.82,138.99 L129.54,136.20 L132.25,133.34 L134.96,130.42 L137.68,127.43 L140.39,124.36 L143.10,121.23 L145.81,118.02 L148.53,114.73 L151.24,111.37 L153.95,107.93 L156.66,104.41 L159.38,100.80 L162.09,97.11 L164.80,93.34 L167.51,89.47 L170.22,85.51 L172.94,81.46 L175.65,77.32 L178.36,73.08 L181.07,68.73 L183.79,64.29 L186.50,59.74 L189.21,55.08 L191.92,50.32 L194.64,45.44 L197.35,40.45 L200.06,35.34 L202.78,30.10 L205.49,24.75 L208.20,19.27 L210.91,13.66 L213.62,7.92 L216.34,2.04 L219.05,-3.97 L221.76,-10.13 L224.47,-16.43 L227.19,-22.88 L229.90,-29.48 L232.61,-36.24 L235.32,-43.15 L238.04,-50.23 L240.75,-57.48 L243.46,-64.89 L246.17,-72.48 L248.89,-80.25 L251.60,-88.20" stroke-width="1.7" stroke-linecap="round" stroke-dasharray="0.01,3.85"/>
<path d="M34.60,230.99 L37.31,230.37 L40.02,229.73 L42.74,229.09 L45.45,228.42 L48.16,227.74 L50.88,227.05 L53.59,226.34 L56.30,225.61 L59.01,224.87 L61.73,224.11 L64.44,223.33 L67.15,222.53 L69.86,221.71 L72.58,220.88 L75.29,220.03 L78.00,219.15 L80.71,218.26 L83.43,217.34 L86.14,216.41 L88.85,215.45 L91.56,214.47 L94.28,213.46 L96.99,212.44 L99.70,211.39 L102.41,210.31 L105.12,209.21 L107.84,208.08 L110.55,206.93 L113.26,205.75 L115.97,204.55 L118.69,203.31 L121.40,202.05 L124.11,200.76 L126.82,199.43 L129.54,198.08 L132.25,196.69 L134.96,195.28 L137.68,193.83 L140.39,192.34 L143.10,190.82 L145.81,189.27 L148.53,187.68 L151.24,186.05 L153.95,184.38 L156.66,182.68 L159.38,180.94 L162.09,179.15 L164.80,177.32 L167.51,175.46 L170.22,173.54 L172.94,171.59 L175.65,169.59 L178.36,167.54 L181.07,165.44 L183.79,163.29 L186.50,161.10 L189.21,158.85 L191.92,156.55 L194.64,154.20 L197.35,151.79 L200.06,149.33 L202.78,146.81 L205.49,144.23 L208.20,141.59 L210.91,138.89 L213.62,136.12 L216.34,133.30 L219.05,130.40 L221.76,127.44 L224.47,124.41 L227.19,121.31 L229.90,118.13 L232.61,114.89 L235.32,111.56 L238.04,108.16 L240.75,104.68 L243.46,101.12 L246.17,97.48 L248.89,93.75 L251.60,89.94" stroke-width="1.5"/>
<path d="M34.6,177.7 L251.6,177.7" stroke-width="1.5" stroke-dasharray="5.4,2.34"/>
</g>
<g font-family="'Liberation Serif', 'Times New Roman', serif" stroke="#000" stroke-width="0.12" font-size="10.3" fill="#000" text-anchor="middle">
<text transform="translate(108.6,90.4) rotate(-50.5)" y="3.5">26.23</text>
<text transform="translate(153.2,98.9) rotate(-48)" y="3.5">24.59</text>
<text transform="translate(241.0,94.3) rotate(-49)" y="3.5">23.73</text>
</g>
<rect x="34.6" y="13.5" width="217.0" height="239.1" fill="none" stroke="#000" stroke-width="1.5"/>
<g stroke="#000" stroke-width="1.1">
<path d="M34.60,252.6 v-3.2"/>
<path d="M34.60,13.5 v3.2"/>
<path d="M88.85,252.6 v-3.2"/>
<path d="M88.85,13.5 v3.2"/>
<path d="M143.10,252.6 v-3.2"/>
<path d="M143.10,13.5 v3.2"/>
<path d="M197.35,252.6 v-3.2"/>
<path d="M197.35,13.5 v3.2"/>
<path d="M251.60,252.6 v-3.2"/>
<path d="M251.60,13.5 v3.2"/>
<path d="M34.6,216.30 h3.2"/>
<path d="M34.6,175.05 h3.2"/>
<path d="M34.6,133.80 h3.2"/>
<path d="M34.6,92.55 h3.2"/>
<path d="M34.6,51.30 h3.2"/>
<path d="M251.6,230.76 h-3.2"/>
<path d="M251.6,203.98 h-3.2"/>
<path d="M251.6,177.19 h-3.2"/>
<path d="M251.6,150.41 h-3.2"/>
<path d="M251.6,123.62 h-3.2"/>
<path d="M251.6,96.84 h-3.2"/>
<path d="M251.6,70.05 h-3.2"/>
<path d="M251.6,43.26 h-3.2"/>
<path d="M251.6,16.48 h-3.2"/>
</g>
<g font-family="'Liberation Serif', 'Times New Roman', serif" stroke="#000" stroke-width="0.12" font-size="11" fill="#000">
<text x="34.60" y="264.3" text-anchor="middle">27</text>
<text x="88.85" y="264.3" text-anchor="middle">26</text>
<text x="143.10" y="264.3" text-anchor="middle">25</text>
<text x="197.35" y="264.3" text-anchor="middle">24</text>
<text x="251.60" y="264.3" text-anchor="middle">23</text>
<text x="32.2" y="220.30" text-anchor="end">0.1</text>
<text x="32.2" y="179.05" text-anchor="end">0.2</text>
<text x="32.2" y="137.80" text-anchor="end">0.3</text>
<text x="32.2" y="96.55" text-anchor="end">0.4</text>
<text x="32.2" y="55.30" text-anchor="end">0.5</text>
<text x="253.2" y="234.86">0.5</text>
<text x="253.2" y="208.08">1.0</text>
<text x="253.2" y="181.29">1.5</text>
<text x="253.2" y="154.51">2.0</text>
<text x="253.2" y="127.72">2.5</text>
<text x="253.2" y="100.94">3.0</text>
<text x="253.2" y="74.15">3.5</text>
<text x="253.2" y="47.36">4.0</text>
<text x="253.2" y="20.58">4.5</text>
</g>
<g font-family="'Liberation Serif', 'Times New Roman', serif" stroke="#000" stroke-width="0.12" font-size="14" fill="#000" text-anchor="middle">
<text x="142.8" y="10.8" font-size="14.4">Parallel Field</text>
<text x="142.6" y="279.5" font-size="14.2">Magnitude</text>
<text transform="translate(11.9,134.5) rotate(-90)" font-size="15.2"><tspan font-style="italic">r</tspan><tspan font-style="italic" font-size="10.6" dy="3">e</tspan><tspan dy="-3">(&#8243;)</tspan></text>
<text transform="translate(281.8,134) rotate(-90)" font-size="15.2"><tspan font-style="italic">r</tspan><tspan font-style="italic" font-size="10.6" dy="3">e</tspan><tspan dy="-3"> (kpc)</tspan></text>
<text transform="translate(332.8,133.2) rotate(-90)" font-size="12.7">Completeness</text>
</g>
<rect x="295.0" y="13.5" width="11.0" height="239.1" fill="url(#cb)" stroke="#000" stroke-width="1.4"/>
<g stroke="#000" stroke-width="1.1">
<path d="M306.0,204.78 h-3.2"/>
<path d="M306.0,156.96 h-3.2"/>
<path d="M306.0,109.14 h-3.2"/>
<path d="M306.0,61.32 h-3.2"/>
</g>
<g font-family="'Liberation Serif', 'Times New Roman', serif" stroke="#000" stroke-width="0.12" font-size="11" fill="#000">
<text x="307.8" y="256.70">0.0</text>
<text x="307.8" y="208.88">0.2</text>
<text x="307.8" y="161.06">0.4</text>
<text x="307.8" y="113.24">0.6</text>
<text x="307.8" y="65.42">0.8</text>
<text x="307.8" y="17.60">1.0</text>
</g>
</g>
<g transform="translate(0,577.3)">
<g clip-path="url(#cp)" fill-opacity="0.68" stroke-opacity="0.42" stroke-width="0.62">
<rect x="29.45" y="13.50" width="10.85" height="8.24" fill="#330597" stroke="#330597"/>
<rect x="40.30" y="13.50" width="10.85" height="8.24" fill="#330597" stroke="#330597"/>
<rect x="51.15" y="13.50" width="10.85" height="8.24" fill="#330597" stroke="#330597"/>
<rect x="62.00" y="13.50" width="10.85" height="8.24" fill="#330597" stroke="#330597"/>
<rect x="72.85" y="13.50" width="10.85" height="8.24" fill="#330597" stroke="#330597"/>
<rect x="83.70" y="13.50" width="10.85" height="8.24" fill="#330597" stroke="#330597"/>
<rect x="94.55" y="13.50" width="10.85" height="8.24" fill="#330597" stroke="#330597"/>
<rect x="105.40" y="13.50" width="10.85" height="8.24" fill="#330597" stroke="#330597"/>
<rect x="116.25" y="13.50" width="10.85" height="8.24" fill="#330597" stroke="#330597"/>
<rect x="127.10" y="13.50" width="10.85" height="8.24" fill="#4e02a2" stroke="#4e02a2"/>
<rect x="137.95" y="13.50" width="10.85" height="8.24" fill="#7201a8" stroke="#7201a8"/>
<rect x="148.80" y="13.50" width="10.85" height="8.24" fill="#9613a1" stroke="#9613a1"/>
<rect x="159.65" y="13.50" width="10.85" height="8.24" fill="#bc3587" stroke="#bc3587"/>
<rect x="170.50" y="13.50" width="10.85" height="8.24" fill="#d6556d" stroke="#d6556d"/>
<rect x="181.35" y="13.50" width="10.85" height="8.24" fill="#e87059" stroke="#e87059"/>
<rect x="192.20" y="13.50" width="10.85" height="8.24" fill="#f3874a" stroke="#f3874a"/>
<rect x="203.05" y="13.50" width="10.85" height="8.24" fill="#fa9c3c" stroke="#fa9c3c"/>
<rect x="213.90" y="13.50" width="10.85" height="8.24" fill="#fdb22f" stroke="#fdb22f"/>
<rect x="224.75" y="13.50" width="10.85" height="8.24" fill="#fec029" stroke="#fec029"/>
<rect x="235.60" y="13.50" width="10.85" height="8.24" fill="#fdc827" stroke="#fdc827"/>
<rect x="246.45" y="13.50" width="10.85" height="8.24" fill="#fccd25" stroke="#fccd25"/>
<rect x="29.45" y="21.74" width="10.85" height="8.24" fill="#330597" stroke="#330597"/>
<rect x="40.30" y="21.74" width="10.85" height="8.24" fill="#330597" stroke="#330597"/>
<rect x="51.15" y="21.74" width="10.85" height="8.24" fill="#330597" stroke="#330597"/>
<rect x="62.00" y="21.74" width="10.85" height="8.24" fill="#330597" stroke="#330597"/>
<rect x="72.85" y="21.74" width="10.85" height="8.24" fill="#330597" stroke="#330597"/>
<rect x="83.70" y="21.74" width="10.85" height="8.24" fill="#330597" stroke="#330597"/>
<rect x="94.55" y="21.74" width="10.85" height="8.24" fill="#330597" stroke="#330597"/>
<rect x="105.40" y="21.74" width="10.85" height="8.24" fill="#330597" stroke="#330597"/>
<rect x="116.25" y="21.74" width="10.85" height="8.24" fill="#330597" stroke="#330597"/>
<rect x="127.10" y="21.74" width="10.85" height="8.24" fill="#4e02a2" stroke="#4e02a2"/>
<rect x="137.95" y="21.74" width="10.85" height="8.24" fill="#7501a8" stroke="#7501a8"/>
<rect x="148.80" y="21.74" width="10.85" height="8.24" fill="#9e199d" stroke="#9e199d"/>
<rect x="159.65" y="21.74" width="10.85" height="8.24" fill="#c13b82" stroke="#c13b82"/>
<rect x="170.50" y="21.74" width="10.85" height="8.24" fill="#d9586a" stroke="#d9586a"/>
<rect x="181.35" y="21.74" width="10.85" height="8.24" fill="#ea7457" stroke="#ea7457"/>
<rect x="192.20" y="21.74" width="10.85" height="8.24" fill="#f58b47" stroke="#f58b47"/>
<rect x="203.05" y="21.74" width="10.85" height="8.24" fill="#fa9e3b" stroke="#fa9e3b"/>
<rect x="213.90" y="21.74" width="10.85" height="8.24" fill="#fdb42f" stroke="#fdb42f"/>
<rect x="224.75" y="21.74" width="10.85" height="8.24" fill="#fdc229" stroke="#fdc229"/>
<rect x="235.60" y="21.74" width="10.85" height="8.24" fill="#fdc827" stroke="#fdc827"/>
<rect x="246.45" y="21.74" width="10.85" height="8.24" fill="#fccd25" stroke="#fccd25"/>
<rect x="29.45" y="29.99" width="10.85" height="8.24" fill="#330597" stroke="#330597"/>
<rect x="40.30" y="29.99" width="10.85" height="8.24" fill="#330597" stroke="#330597"/>
<rect x="51.15" y="29.99" width="10.85" height="8.24" fill="#330597" stroke="#330597"/>
<rect x="62.00" y="29.99" width="10.85" height="8.24" fill="#330597" stroke="#330597"/>
<rect x="72.85" y="29.99" width="10.85" height="8.24" fill="#330597" stroke="#330597"/>
<rect x="83.70" y="29.99" width="10.85" height="8.24" fill="#330597" stroke="#330597"/>
<rect x="94.55" y="29.99" width="10.85" height="8.24" fill="#330597" stroke="#330597"/>
<rect x="105.40" y="29.99" width="10.85" height="8.24" fill="#330597" stroke="#330597"/>
<rect x="116.25" y="29.99" width="10.85" height="8.24" fill="#330597" stroke="#330597"/>
<rect x="127.10" y="29.99" width="10.85" height="8.24" fill="#5102a3" stroke="#5102a3"/>
<rect x="137.95" y="29.99" width="10.85" height="8.24" fill="#7e03a8" stroke="#7e03a8"/>
<rect x="148.80" y="29.99" width="10.85" height="8.24" fill="#a72197" stroke="#a72197"/>
<rect x="159.65" y="29.99" width="10.85" height="8.24" fill="#c9447a" stroke="#c9447a"/>
<rect x="170.50" y="29.99" width="10.85" height="8.24" fill="#df6263" stroke="#df6263"/>
<rect x="181.35" y="29.99" width="10.85" height="8.24" fill="#ed7a52" stroke="#ed7a52"/>
<rect x="192.20" y="29.99" width="10.85" height="8.24" fill="#f79044" stroke="#f79044"/>
<rect x="203.05" y="29.99" width="10.85" height="8.24" fill="#fba139" stroke="#fba139"/>
<rect x="213.90" y="29.99" width="10.85" height="8.24" fill="#feb82c" stroke="#feb82c"/>
<rect x="224.75" y="29.99" width="10.85" height="8.24" fill="#fdc527" stroke="#fdc527"/>
<rect x="235.60" y="29.99" width="10.85" height="8.24" fill="#fccd25" stroke="#fccd25"/>
<rect x="246.45" y="29.99" width="10.85" height="8.24" fill="#fcd225" stroke="#fcd225"/>
<rect x="29.45" y="38.23" width="10.85" height="8.24" fill="#330597" stroke="#330597"/>
<rect x="40.30" y="38.23" width="10.85" height="8.24" fill="#330597" stroke="#330597"/>
<rect x="51.15" y="38.23" width="10.85" height="8.24" fill="#330597" stroke="#330597"/>
<rect x="62.00" y="38.23" width="10.85" height="8.24" fill="#330597" stroke="#330597"/>
<rect x="72.85" y="38.23" width="10.85" height="8.24" fill="#330597" stroke="#330597"/>
<rect x="83.70" y="38.23" width="10.85" height="8.24" fill="#330597" stroke="#330597"/>
<rect x="94.55" y="38.23" width="10.85" height="8.24" fill="#330597" stroke="#330597"/>
<rect x="105.40" y="38.23" width="10.85" height="8.24" fill="#330597" stroke="#330597"/>
<rect x="116.25" y="38.23" width="10.85" height="8.24" fill="#330597" stroke="#330597"/>
<rect x="127.10" y="38.23" width="10.85" height="8.24" fill="#5601a4" stroke="#5601a4"/>
<rect x="137.95" y="38.23" width="10.85" height="8.24" fill="#8606a6" stroke="#8606a6"/>
<rect x="148.80" y="38.23" width="10.85" height="8.24" fill="#b12a90" stroke="#b12a90"/>
<rect x="159.65" y="38.23" width="10.85" height="8.24" fill="#d04d73" stroke="#d04d73"/>
<rect x="170.50" y="38.23" width="10.85" height="8.24" fill="#e56a5d" stroke="#e56a5d"/>
<rect x="181.35" y="38.23" width="10.85" height="8.24" fill="#f0804e" stroke="#f0804e"/>
<rect x="192.20" y="38.23" width="10.85" height="8.24" fill="#f89540" stroke="#f89540"/>
<rect x="203.05" y="38.23" width="10.85" height="8.24" fill="#fdae32" stroke="#fdae32"/>
<rect x="213.90" y="38.23" width="10.85" height="8.24" fill="#febb2b" stroke="#febb2b"/>
<rect x="224.75" y="38.23" width="10.85" height="8.24" fill="#fdc827" stroke="#fdc827"/>
<rect x="235.60" y="38.23" width="10.85" height="8.24" fill="#fccd25" stroke="#fccd25"/>
<rect x="246.45" y="38.23" width="10.85" height="8.24" fill="#fcd225" stroke="#fcd225"/>
<rect x="29.45" y="46.48" width="10.85" height="8.24" fill="#330597" stroke="#330597"/>
<rect x="40.30" y="46.48" width="10.85" height="8.24" fill="#330597" stroke="#330597"/>
<rect x="51.15" y="46.48" width="10.85" height="8.24" fill="#330597" stroke="#330597"/>
<rect x="62.00" y="46.48" width="10.85" height="8.24" fill="#330597" stroke="#330597"/>
<rect x="72.85" y="46.48" width="10.85" height="8.24" fill="#330597" stroke="#330597"/>
<rect x="83.70" y="46.48" width="10.85" height="8.24" fill="#330597" stroke="#330597"/>
<rect x="94.55" y="46.48" width="10.85" height="8.24" fill="#330597" stroke="#330597"/>
<rect x="105.40" y="46.48" width="10.85" height="8.24" fill="#330597" stroke="#330597"/>
<rect x="116.25" y="46.48" width="10.85" height="8.24" fill="#38049a" stroke="#38049a"/>
<rect x="127.10" y="46.48" width="10.85" height="8.24" fill="#5e01a6" stroke="#5e01a6"/>
<rect x="137.95" y="46.48" width="10.85" height="8.24" fill="#8d0ba5" stroke="#8d0ba5"/>
<rect x="148.80" y="46.48" width="10.85" height="8.24" fill="#ba3388" stroke="#ba3388"/>
<rect x="159.65" y="46.48" width="10.85" height="8.24" fill="#d6556d" stroke="#d6556d"/>
<rect x="170.50" y="46.48" width="10.85" height="8.24" fill="#e97257" stroke="#e97257"/>
<rect x="181.35" y="46.48" width="10.85" height="8.24" fill="#f3874a" stroke="#f3874a"/>
<rect x="192.20" y="46.48" width="10.85" height="8.24" fill="#f99a3e" stroke="#f99a3e"/>
<rect x="203.05" y="46.48" width="10.85" height="8.24" fill="#fdb22f" stroke="#fdb22f"/>
<rect x="213.90" y="46.48" width="10.85" height="8.24" fill="#fec029" stroke="#fec029"/>
<rect x="224.75" y="46.48" width="10.85" height="8.24" fill="#fdca26" stroke="#fdca26"/>
<rect x="235.60" y="46.48" width="10.85" height="8.24" fill="#fcd225" stroke="#fcd225"/>
<rect x="246.45" y="46.48" width="10.85" height="8.24" fill="#fad824" stroke="#fad824"/>
<rect x="29.45" y="54.72" width="10.85" height="8.24" fill="#330597" stroke="#330597"/>
<rect x="40.30" y="54.72" width="10.85" height="8.24" fill="#330597" stroke="#330597"/>
<rect x="51.15" y="54.72" width="10.85" height="8.24" fill="#330597" stroke="#330597"/>
<rect x="62.00" y="54.72" width="10.85" height="8.24" fill="#330597" stroke="#330597"/>
<rect x="72.85" y="54.72" width="10.85" height="8.24" fill="#330597" stroke="#330597"/>
<rect x="83.70" y="54.72" width="10.85" height="8.24" fill="#330597" stroke="#330597"/>
<rect x="94.55" y="54.72" width="10.85" height="8.24" fill="#330597" stroke="#330597"/>
<rect x="105.40" y="54.72" width="10.85" height="8.24" fill="#330597" stroke="#330597"/>
<rect x="116.25" y="54.72" width="10.85" height="8.24" fill="#3e049c" stroke="#3e049c"/>
<rect x="127.10" y="54.72" width="10.85" height="8.24" fill="#5901a5" stroke="#5901a5"/>
<rect x="137.95" y="54.72" width="10.85" height="8.24" fill="#8d0ba5" stroke="#8d0ba5"/>
<rect x="148.80" y="54.72" width="10.85" height="8.24" fill="#bf3984" stroke="#bf3984"/>
<rect x="159.65" y="54.72" width="10.85" height="8.24" fill="#dd5e66" stroke="#dd5e66"/>
<rect x="170.50" y="54.72" width="10.85" height="8.24" fill="#ed7a52" stroke="#ed7a52"/>
<rect x="181.35" y="54.72" width="10.85" height="8.24" fill="#f79044" stroke="#f79044"/>
<rect x="192.20" y="54.72" width="10.85" height="8.24" fill="#fba139" stroke="#fba139"/>
<rect x="203.05" y="54.72" width="10.85" height="8.24" fill="#feb82c" stroke="#feb82c"/>
<rect x="213.90" y="54.72" width="10.85" height="8.24" fill="#fdc527" stroke="#fdc527"/>
<rect x="224.75" y="54.72" width="10.85" height="8.24" fill="#fccd25" stroke="#fccd25"/>
<rect x="235.60" y="54.72" width="10.85" height="8.24" fill="#fbd524" stroke="#fbd524"/>
<rect x="246.45" y="54.72" width="10.85" height="8.24" fill="#f9dc24" stroke="#f9dc24"/>
<rect x="29.45" y="62.97" width="10.85" height="8.24" fill="#330597" stroke="#330597"/>
<rect x="40.30" y="62.97" width="10.85" height="8.24" fill="#330597" stroke="#330597"/>
<rect x="51.15" y="62.97" width="10.85" height="8.24" fill="#330597" stroke="#330597"/>
<rect x="62.00" y="62.97" width="10.85" height="8.24" fill="#330597" stroke="#330597"/>
<rect x="72.85" y="62.97" width="10.85" height="8.24" fill="#330597" stroke="#330597"/>
<rect x="83.70" y="62.97" width="10.85" height="8.24" fill="#330597" stroke="#330597"/>
<rect x="94.55" y="62.97" width="10.85" height="8.24" fill="#330597" stroke="#330597"/>
<rect x="105.40" y="62.97" width="10.85" height="8.24" fill="#330597" stroke="#330597"/>
<rect x="116.25" y="62.97" width="10.85" height="8.24" fill="#41049d" stroke="#41049d"/>
<rect x="127.10" y="62.97" width="10.85" height="8.24" fill="#6600a7" stroke="#6600a7"/>
<rect x="137.95" y="62.97" width="10.85" height="8.24" fill="#9e199d" stroke="#9e199d"/>
<rect x="148.80" y="62.97" width="10.85" height="8.24" fill="#cc4778" stroke="#cc4778"/>
<rect x="159.65" y="62.97" width="10.85" height="8.24" fill="#e56a5d" stroke="#e56a5d"/>
<rect x="170.50" y="62.97" width="10.85" height="8.24" fill="#f2844b" stroke="#f2844b"/>
<rect x="181.35" y="62.97" width="10.85" height="8.24" fill="#f99a3e" stroke="#f99a3e"/>
<rect x="192.20" y="62.97" width="10.85" height="8.24" fill="#fdb130" stroke="#fdb130"/>
<rect x="203.05" y="62.97" width="10.85" height="8.24" fill="#febe2a" stroke="#febe2a"/>
<rect x="213.90" y="62.97" width="10.85" height="8.24" fill="#fdc827" stroke="#fdc827"/>
<rect x="224.75" y="62.97" width="10.85" height="8.24" fill="#fcd225" stroke="#fcd225"/>
<rect x="235.60" y="62.97" width="10.85" height="8.24" fill="#f9dc24" stroke="#f9dc24"/>
<rect x="246.45" y="62.97" width="10.85" height="8.24" fill="#f9dc24" stroke="#f9dc24"/>
<rect x="29.45" y="71.21" width="10.85" height="8.24" fill="#330597" stroke="#330597"/>
<rect x="40.30" y="71.21" width="10.85" height="8.24" fill="#330597" stroke="#330597"/>
<rect x="51.15" y="71.21" width="10.85" height="8.24" fill="#330597" stroke="#330597"/>
<rect x="62.00" y="71.21" width="10.85" height="8.24" fill="#330597" stroke="#330597"/>
<rect x="72.85" y="71.21" width="10.85" height="8.24" fill="#330597" stroke="#330597"/>
<rect x="83.70" y="71.21" width="10.85" height="8.24" fill="#330597" stroke="#330597"/>
<rect x="94.55" y="71.21" width="10.85" height="8.24" fill="#330597" stroke="#330597"/>
<rect x="105.40" y="71.21" width="10.85" height="8.24" fill="#38049a" stroke="#38049a"/>
<rect x="116.25" y="71.21" width="10.85" height="8.24" fill="#4e02a2" stroke="#4e02a2"/>
<rect x="127.10" y="71.21" width="10.85" height="8.24" fill="#7501a8" stroke="#7501a8"/>
<rect x="137.95" y="71.21" width="10.85" height="8.24" fill="#b12a90" stroke="#b12a90"/>
<rect x="148.80" y="71.21" width="10.85" height="8.24" fill="#d9586a" stroke="#d9586a"/>
<rect x="159.65" y="71.21" width="10.85" height="8.24" fill="#eb7655" stroke="#eb7655"/>
<rect x="170.50" y="71.21" width="10.85" height="8.24" fill="#f68d45" stroke="#f68d45"/>
<rect x="181.35" y="71.21" width="10.85" height="8.24" fill="#fba139" stroke="#fba139"/>
<rect x="192.20" y="71.21" width="10.85" height="8.24" fill="#feb82c" stroke="#feb82c"/>
<rect x="203.05" y="71.21" width="10.85" height="8.24" fill="#fdc527" stroke="#fdc527"/>
<rect x="213.90" y="71.21" width="10.85" height="8.24" fill="#fccd25" stroke="#fccd25"/>
<rect x="224.75" y="71.21" width="10.85" height="8.24" fill="#fad824" stroke="#fad824"/>
<rect x="235.60" y="71.21" width="10.85" height="8.24" fill="#fad824" stroke="#fad824"/>
<rect x="246.45" y="71.21" width="10.85" height="8.24" fill="#fad824" stroke="#fad824"/>
<rect x="29.45" y="79.46" width="10.85" height="8.24" fill="#330597" stroke="#330597"/>
<rect x="40.30" y="79.46" width="10.85" height="8.24" fill="#330597" stroke="#330597"/>
<rect x="51.15" y="79.46" width="10.85" height="8.24" fill="#330597" stroke="#330597"/>
<rect x="62.00" y="79.46" width="10.85" height="8.24" fill="#330597" stroke="#330597"/>
<rect x="72.85" y="79.46" width="10.85" height="8.24" fill="#330597" stroke="#330597"/>
<rect x="83.70" y="79.46" width="10.85" height="8.24" fill="#330597" stroke="#330597"/>
<rect x="94.55" y="79.46" width="10.85" height="8.24" fill="#330597" stroke="#330597"/>
<rect x="105.40" y="79.46" width="10.85" height="8.24" fill="#38049a" stroke="#38049a"/>
<rect x="116.25" y="79.46" width="10.85" height="8.24" fill="#5601a4" stroke="#5601a4"/>
<rect x="127.10" y="79.46" width="10.85" height="8.24" fill="#8808a6" stroke="#8808a6"/>
<rect x="137.95" y="79.46" width="10.85" height="8.24" fill="#c43e7f" stroke="#c43e7f"/>
<rect x="148.80" y="79.46" width="10.85" height="8.24" fill="#e56a5d" stroke="#e56a5d"/>
<rect x="159.65" y="79.46" width="10.85" height="8.24" fill="#f3874a" stroke="#f3874a"/>
<rect x="170.50" y="79.46" width="10.85" height="8.24" fill="#f99a3e" stroke="#f99a3e"/>
<rect x="181.35" y="79.46" width="10.85" height="8.24" fill="#fdb22f" stroke="#fdb22f"/>
<rect x="192.20" y="79.46" width="10.85" height="8.24" fill="#fec029" stroke="#fec029"/>
<rect x="203.05" y="79.46" width="10.85" height="8.24" fill="#fdc827" stroke="#fdc827"/>
<rect x="213.90" y="79.46" width="10.85" height="8.24" fill="#fcd225" stroke="#fcd225"/>
<rect x="224.75" y="79.46" width="10.85" height="8.24" fill="#fcd225" stroke="#fcd225"/>
<rect x="235.60" y="79.46" width="10.85" height="8.24" fill="#fad824" stroke="#fad824"/>
<rect x="246.45" y="79.46" width="10.85" height="8.24" fill="#f9dc24" stroke="#f9dc24"/>
<rect x="29.45" y="87.70" width="10.85" height="8.24" fill="#330597" stroke="#330597"/>
<rect x="40.30" y="87.70" width="10.85" height="8.24" fill="#330597" stroke="#330597"/>
<rect x="51.15" y="87.70" width="10.85" height="8.24" fill="#330597" stroke="#330597"/>
<rect x="62.00" y="87.70" width="10.85" height="8.24" fill="#330597" stroke="#330597"/>
<rect x="72.85" y="87.70" width="10.85" height="8.24" fill="#330597" stroke="#330597"/>
<rect x="83.70" y="87.70" width="10.85" height="8.24" fill="#330597" stroke="#330597"/>
<rect x="94.55" y="87.70" width="10.85" height="8.24" fill="#330597" stroke="#330597"/>
<rect x="105.40" y="87.70" width="10.85" height="8.24" fill="#3e049c" stroke="#3e049c"/>
<rect x="116.25" y="87.70" width="10.85" height="8.24" fill="#6300a7" stroke="#6300a7"/>
<rect x="127.10" y="87.70" width="10.85" height="8.24" fill="#9e199d" stroke="#9e199d"/>
<rect x="137.95" y="87.70" width="10.85" height="8.24" fill="#d5536f" stroke="#d5536f"/>
<rect x="148.80" y="87.70" width="10.85" height="8.24" fill="#ed7a52" stroke="#ed7a52"/>
<rect x="159.65" y="87.70" width="10.85" height="8.24" fill="#f79143" stroke="#f79143"/>
<rect x="170.50" y="87.70" width="10.85" height="8.24" fill="#fba139" stroke="#fba139"/>
<rect x="181.35" y="87.70" width="10.85" height="8.24" fill="#feb82c" stroke="#feb82c"/>
<rect x="192.20" y="87.70" width="10.85" height="8.24" fill="#fdc527" stroke="#fdc527"/>
<rect x="203.05" y="87.70" width="10.85" height="8.24" fill="#fccd25" stroke="#fccd25"/>
<rect x="213.90" y="87.70" width="10.85" height="8.24" fill="#fad824" stroke="#fad824"/>
<rect x="224.75" y="87.70" width="10.85" height="8.24" fill="#fad824" stroke="#fad824"/>
<rect x="235.60" y="87.70" width="10.85" height="8.24" fill="#f9dc24" stroke="#f9dc24"/>
<rect x="246.45" y="87.70" width="10.85" height="8.24" fill="#f7e425" stroke="#f7e425"/>
<rect x="29.45" y="95.95" width="10.85" height="8.24" fill="#330597" stroke="#330597"/>
<rect x="40.30" y="95.95" width="10.85" height="8.24" fill="#330597" stroke="#330597"/>
<rect x="51.15" y="95.95" width="10.85" height="8.24" fill="#330597" stroke="#330597"/>
<rect x="62.00" y="95.95" width="10.85" height="8.24" fill="#330597" stroke="#330597"/>
<rect x="72.85" y="95.95" width="10.85" height="8.24" fill="#330597" stroke="#330597"/>
<rect x="83.70" y="95.95" width="10.85" height="8.24" fill="#330597" stroke="#330597"/>
<rect x="94.55" y="95.95" width="10.85" height="8.24" fill="#330597" stroke="#330597"/>
<rect x="105.40" y="95.95" width="10.85" height="8.24" fill="#4e02a2" stroke="#4e02a2"/>
<rect x="116.25" y="95.95" width="10.85" height="8.24" fill="#7501a8" stroke="#7501a8"/>
<rect x="127.10" y="95.95" width="10.85" height="8.24" fill="#b6308b" stroke="#b6308b"/>
<rect x="137.95" y="95.95" width="10.85" height="8.24" fill="#e16462" stroke="#e16462"/>
<rect x="148.80" y="95.95" width="10.85" height="8.24" fill="#f3874a" stroke="#f3874a"/>
<rect x="159.65" y="95.95" width="10.85" height="8.24" fill="#fa9c3c" stroke="#fa9c3c"/>
<rect x="170.50" y="95.95" width="10.85" height="8.24" fill="#fdb130" stroke="#fdb130"/>
<rect x="181.35" y="95.95" width="10.85" height="8.24" fill="#fec029" stroke="#fec029"/>
<rect x="192.20" y="95.95" width="10.85" height="8.24" fill="#fdc827" stroke="#fdc827"/>
<rect x="203.05" y="95.95" width="10.85" height="8.24" fill="#fcd225" stroke="#fcd225"/>
<rect x="213.90" y="95.95" width="10.85" height="8.24" fill="#fcd225" stroke="#fcd225"/>
<rect x="224.75" y="95.95" width="10.85" height="8.24" fill="#f9dc24" stroke="#f9dc24"/>
<rect x="235.60" y="95.95" width="10.85" height="8.24" fill="#f7e425" stroke="#f7e425"/>
<rect x="246.45" y="95.95" width="10.85" height="8.24" fill="#f6e826" stroke="#f6e826"/>
<rect x="29.45" y="104.19" width="10.85" height="8.24" fill="#330597" stroke="#330597"/>
<rect x="40.30" y="104.19" width="10.85" height="8.24" fill="#330597" stroke="#330597"/>
<rect x="51.15" y="104.19" width="10.85" height="8.24" fill="#330597" stroke="#330597"/>
<rect x="62.00" y="104.19" width="10.85" height="8.24" fill="#330597" stroke="#330597"/>
<rect x="72.85" y="104.19" width="10.85" height="8.24" fill="#330597" stroke="#330597"/>
<rect x="83.70" y="104.19" width="10.85" height="8.24" fill="#330597" stroke="#330597"/>
<rect x="94.55" y="104.19" width="10.85" height="8.24" fill="#3e049c" stroke="#3e049c"/>
<rect x="105.40" y="104.19" width="10.85" height="8.24" fill="#5801a4" stroke="#5801a4"/>
<rect x="116.25" y="104.19" width="10.85" height="8.24" fill="#8e0ca4" stroke="#8e0ca4"/>
<rect x="127.10" y="104.19" width="10.85" height="8.24" fill="#cc4778" stroke="#cc4778"/>
<rect x="137.95" y="104.19" width="10.85" height="8.24" fill="#ed7953" stroke="#ed7953"/>
<rect x="148.80" y="104.19" width="10.85" height="8.24" fill="#f9973f" stroke="#f9973f"/>
<rect x="159.65" y="104.19" width="10.85" height="8.24" fill="#fdb130" stroke="#fdb130"/>
<rect x="170.50" y="104.19" width="10.85" height="8.24" fill="#febb2b" stroke="#febb2b"/>
<rect x="181.35" y="104.19" width="10.85" height="8.24" fill="#fdc827" stroke="#fdc827"/>
<rect x="192.20" y="104.19" width="10.85" height="8.24" fill="#fcd225" stroke="#fcd225"/>
<rect x="203.05" y="104.19" width="10.85" height="8.24" fill="#f9dc24" stroke="#f9dc24"/>
<rect x="213.90" y="104.19" width="10.85" height="8.24" fill="#f9dc24" stroke="#f9dc24"/>
<rect x="224.75" y="104.19" width="10.85" height="8.24" fill="#f7e425" stroke="#f7e425"/>
<rect x="235.60" y="104.19" width="10.85" height="8.24" fill="#f6e826" stroke="#f6e826"/>
<rect x="246.45" y="104.19" width="10.85" height="8.24" fill="#f5eb27" stroke="#f5eb27"/>
<rect x="29.45" y="112.44" width="10.85" height="8.24" fill="#330597" stroke="#330597"/>
<rect x="40.30" y="112.44" width="10.85" height="8.24" fill="#330597" stroke="#330597"/>
<rect x="51.15" y="112.44" width="10.85" height="8.24" fill="#330597" stroke="#330597"/>
<rect x="62.00" y="112.44" width="10.85" height="8.24" fill="#330597" stroke="#330597"/>
<rect x="72.85" y="112.44" width="10.85" height="8.24" fill="#330597" stroke="#330597"/>
<rect x="83.70" y="112.44" width="10.85" height="8.24" fill="#330597" stroke="#330597"/>
<rect x="94.55" y="112.44" width="10.85" height="8.24" fill="#4903a0" stroke="#4903a0"/>
<rect x="105.40" y="112.44" width="10.85" height="8.24" fill="#6e00a8" stroke="#6e00a8"/>
<rect x="116.25" y="112.44" width="10.85" height="8.24" fill="#ac2694" stroke="#ac2694"/>
<rect x="127.10" y="112.44" width="10.85" height="8.24" fill="#dd5e66" stroke="#dd5e66"/>
<rect x="137.95" y="112.44" width="10.85" height="8.24" fill="#f3874a" stroke="#f3874a"/>
<rect x="148.80" y="112.44" width="10.85" height="8.24" fill="#fba139" stroke="#fba139"/>
<rect x="159.65" y="112.44" width="10.85" height="8.24" fill="#feb82c" stroke="#feb82c"/>
<rect x="170.50" y="112.44" width="10.85" height="8.24" fill="#fdc527" stroke="#fdc527"/>
<rect x="181.35" y="112.44" width="10.85" height="8.24" fill="#fcce25" stroke="#fcce25"/>
<rect x="192.20" y="112.44" width="10.85" height="8.24" fill="#f9dc24" stroke="#f9dc24"/>
<rect x="203.05" y="112.44" width="10.85" height="8.24" fill="#f9dc24" stroke="#f9dc24"/>
<rect x="213.90" y="112.44" width="10.85" height="8.24" fill="#f8e125" stroke="#f8e125"/>
<rect x="224.75" y="112.44" width="10.85" height="8.24" fill="#f6e826" stroke="#f6e826"/>
<rect x="235.60" y="112.44" width="10.85" height="8.24" fill="#f5eb27" stroke="#f5eb27"/>
<rect x="246.45" y="112.44" width="10.85" height="8.24" fill="#f3ee27" stroke="#f3ee27"/>
<rect x="29.45" y="120.68" width="10.85" height="8.24" fill="#330597" stroke="#330597"/>
<rect x="40.30" y="120.68" width="10.85" height="8.24" fill="#330597" stroke="#330597"/>
<rect x="51.15" y="120.68" width="10.85" height="8.24" fill="#330597" stroke="#330597"/>
<rect x="62.00" y="120.68" width="10.85" height="8.24" fill="#330597" stroke="#330597"/>
<rect x="72.85" y="120.68" width="10.85" height="8.24" fill="#330597" stroke="#330597"/>
<rect x="83.70" y="120.68" width="10.85" height="8.24" fill="#41049d" stroke="#41049d"/>
<rect x="94.55" y="120.68" width="10.85" height="8.24" fill="#5901a5" stroke="#5901a5"/>
<rect x="105.40" y="120.68" width="10.85" height="8.24" fill="#8d0ba5" stroke="#8d0ba5"/>
<rect x="116.25" y="120.68" width="10.85" height="8.24" fill="#c6417d" stroke="#c6417d"/>
<rect x="127.10" y="120.68" width="10.85" height="8.24" fill="#ea7457" stroke="#ea7457"/>
<rect x="137.95" y="120.68" width="10.85" height="8.24" fill="#f9973f" stroke="#f9973f"/>
<rect x="148.80" y="120.68" width="10.85" height="8.24" fill="#fdb42f" stroke="#fdb42f"/>
<rect x="159.65" y="120.68" width="10.85" height="8.24" fill="#fdc229" stroke="#fdc229"/>
<rect x="170.50" y="120.68" width="10.85" height="8.24" fill="#fccd25" stroke="#fccd25"/>
<rect x="181.35" y="120.68" width="10.85" height="8.24" fill="#fad824" stroke="#fad824"/>
<rect x="192.20" y="120.68" width="10.85" height="8.24" fill="#fad824" stroke="#fad824"/>
<rect x="203.05" y="120.68" width="10.85" height="8.24" fill="#f8e125" stroke="#f8e125"/>
<rect x="213.90" y="120.68" width="10.85" height="8.24" fill="#f6e826" stroke="#f6e826"/>
<rect x="224.75" y="120.68" width="10.85" height="8.24" fill="#f5eb27" stroke="#f5eb27"/>
<rect x="235.60" y="120.68" width="10.85" height="8.24" fill="#f3ee27" stroke="#f3ee27"/>
<rect x="246.45" y="120.68" width="10.85" height="8.24" fill="#f2f227" stroke="#f2f227"/>
<rect x="29.45" y="128.93" width="10.85" height="8.24" fill="#330597" stroke="#330597"/>
<rect x="40.30" y="128.93" width="10.85" height="8.24" fill="#330597" stroke="#330597"/>
<rect x="51.15" y="128.93" width="10.85" height="8.24" fill="#330597" stroke="#330597"/>
<rect x="62.00" y="128.93" width="10.85" height="8.24" fill="#330597" stroke="#330597"/>
<rect x="72.85" y="128.93" width="10.85" height="8.24" fill="#330597" stroke="#330597"/>
<rect x="83.70" y="128.93" width="10.85" height="8.24" fill="#4e02a2" stroke="#4e02a2"/>
<rect x="94.55" y="128.93" width="10.85" height="8.24" fill="#7501a8" stroke="#7501a8"/>
<rect x="105.40" y="128.93" width="10.85" height="8.24" fill="#ba3388" stroke="#ba3388"/>
<rect x="116.25" y="128.93" width="10.85" height="8.24" fill="#e3685f" stroke="#e3685f"/>
<rect x="127.10" y="128.93" width="10.85" height="8.24" fill="#f68d45" stroke="#f68d45"/>
<rect x="137.95" y="128.93" width="10.85" height="8.24" fill="#fdab33" stroke="#fdab33"/>
<rect x="148.80" y="128.93" width="10.85" height="8.24" fill="#feba2c" stroke="#feba2c"/>
<rect x="159.65" y="128.93" width="10.85" height="8.24" fill="#fdc627" stroke="#fdc627"/>
<rect x="170.50" y="128.93" width="10.85" height="8.24" fill="#fcce25" stroke="#fcce25"/>
<rect x="181.35" y="128.93" width="10.85" height="8.24" fill="#fad824" stroke="#fad824"/>
<rect x="192.20" y="128.93" width="10.85" height="8.24" fill="#f7e425" stroke="#f7e425"/>
<rect x="203.05" y="128.93" width="10.85" height="8.24" fill="#f5eb27" stroke="#f5eb27"/>
<rect x="213.90" y="128.93" width="10.85" height="8.24" fill="#f3ee27" stroke="#f3ee27"/>
<rect x="224.75" y="128.93" width="10.85" height="8.24" fill="#f2f227" stroke="#f2f227"/>
<rect x="235.60" y="128.93" width="10.85" height="8.24" fill="#f2f227" stroke="#f2f227"/>
<rect x="246.45" y="128.93" width="10.85" height="8.24" fill="#f1f525" stroke="#f1f525"/>
<rect x="29.45" y="137.17" width="10.85" height="8.24" fill="#330597" stroke="#330597"/>
<rect x="40.30" y="137.17" width="10.85" height="8.24" fill="#330597" stroke="#330597"/>
<rect x="51.15" y="137.17" width="10.85" height="8.24" fill="#330597" stroke="#330597"/>
<rect x="62.00" y="137.17" width="10.85" height="8.24" fill="#330597" stroke="#330597"/>
<rect x="72.85" y="137.17" width="10.85" height="8.24" fill="#3e049c" stroke="#3e049c"/>
<rect x="83.70" y="137.17" width="10.85" height="8.24" fill="#5e01a6" stroke="#5e01a6"/>
<rect x="94.55" y="137.17" width="10.85" height="8.24" fill="#9410a2" stroke="#9410a2"/>
<rect x="105.40" y="137.17" width="10.85" height="8.24" fill="#d04d73" stroke="#d04d73"/>
<rect x="116.25" y="137.17" width="10.85" height="8.24" fill="#ed7a52" stroke="#ed7a52"/>
<rect x="127.10" y="137.17" width="10.85" height="8.24" fill="#f9983e" stroke="#f9983e"/>
<rect x="137.95" y="137.17" width="10.85" height="8.24" fill="#fdb22f" stroke="#fdb22f"/>
<rect x="148.80" y="137.17" width="10.85" height="8.24" fill="#fdc229" stroke="#fdc229"/>
<rect x="159.65" y="137.17" width="10.85" height="8.24" fill="#fcce25" stroke="#fcce25"/>
<rect x="170.50" y="137.17" width="10.85" height="8.24" fill="#fad824" stroke="#fad824"/>
<rect x="181.35" y="137.17" width="10.85" height="8.24" fill="#f7e425" stroke="#f7e425"/>
<rect x="192.20" y="137.17" width="10.85" height="8.24" fill="#f5eb27" stroke="#f5eb27"/>
<rect x="203.05" y="137.17" width="10.85" height="8.24" fill="#f3ee27" stroke="#f3ee27"/>
<rect x="213.90" y="137.17" width="10.85" height="8.24" fill="#f2f227" stroke="#f2f227"/>
<rect x="224.75" y="137.17" width="10.85" height="8.24" fill="#f1f525" stroke="#f1f525"/>
<rect x="235.60" y="137.17" width="10.85" height="8.24" fill="#f0f921" stroke="#f0f921"/>
<rect x="246.45" y="137.17" width="10.85" height="8.24" fill="#f0f921" stroke="#f0f921"/>
<rect x="29.45" y="145.42" width="10.85" height="8.24" fill="#330597" stroke="#330597"/>
<rect x="40.30" y="145.42" width="10.85" height="8.24" fill="#330597" stroke="#330597"/>
<rect x="51.15" y="145.42" width="10.85" height="8.24" fill="#330597" stroke="#330597"/>
<rect x="62.00" y="145.42" width="10.85" height="8.24" fill="#330597" stroke="#330597"/>
<rect x="72.85" y="145.42" width="10.85" height="8.24" fill="#46039f" stroke="#46039f"/>
<rect x="83.70" y="145.42" width="10.85" height="8.24" fill="#7201a8" stroke="#7201a8"/>
<rect x="94.55" y="145.42" width="10.85" height="8.24" fill="#b32c8e" stroke="#b32c8e"/>
<rect x="105.40" y="145.42" width="10.85" height="8.24" fill="#e16462" stroke="#e16462"/>
<rect x="116.25" y="145.42" width="10.85" height="8.24" fill="#f2844b" stroke="#f2844b"/>
<rect x="127.10" y="145.42" width="10.85" height="8.24" fill="#fca636" stroke="#fca636"/>
<rect x="137.95" y="145.42" width="10.85" height="8.24" fill="#feba2c" stroke="#feba2c"/>
<rect x="148.80" y="145.42" width="10.85" height="8.24" fill="#fdc827" stroke="#fdc827"/>
<rect x="159.65" y="145.42" width="10.85" height="8.24" fill="#fbd524" stroke="#fbd524"/>
<rect x="170.50" y="145.42" width="10.85" height="8.24" fill="#f8e125" stroke="#f8e125"/>
<rect x="181.35" y="145.42" width="10.85" height="8.24" fill="#f6e826" stroke="#f6e826"/>
<rect x="192.20" y="145.42" width="10.85" height="8.24" fill="#f3ee27" stroke="#f3ee27"/>
<rect x="203.05" y="145.42" width="10.85" height="8.24" fill="#f2f227" stroke="#f2f227"/>
<rect x="213.90" y="145.42" width="10.85" height="8.24" fill="#f1f525" stroke="#f1f525"/>
<rect x="224.75" y="145.42" width="10.85" height="8.24" fill="#f0f921" stroke="#f0f921"/>
<rect x="235.60" y="145.42" width="10.85" height="8.24" fill="#f0f921" stroke="#f0f921"/>
<rect x="246.45" y="145.42" width="10.85" height="8.24" fill="#f0f921" stroke="#f0f921"/>
<rect x="29.45" y="153.66" width="10.85" height="8.24" fill="#330597" stroke="#330597"/>
<rect x="40.30" y="153.66" width="10.85" height="8.24" fill="#330597" stroke="#330597"/>
<rect x="51.15" y="153.66" width="10.85" height="8.24" fill="#330597" stroke="#330597"/>
<rect x="62.00" y="153.66" width="10.85" height="8.24" fill="#38049a" stroke="#38049a"/>
<rect x="72.85" y="153.66" width="10.85" height="8.24" fill="#5102a3" stroke="#5102a3"/>
<rect x="83.70" y="153.66" width="10.85" height="8.24" fill="#8f0da4" stroke="#8f0da4"/>
<rect x="94.55" y="153.66" width="10.85" height="8.24" fill="#cc4778" stroke="#cc4778"/>
<rect x="105.40" y="153.66" width="10.85" height="8.24" fill="#eb7655" stroke="#eb7655"/>
<rect x="116.25" y="153.66" width="10.85" height="8.24" fill="#f89540" stroke="#f89540"/>
<rect x="127.10" y="153.66" width="10.85" height="8.24" fill="#fdae32" stroke="#fdae32"/>
<rect x="137.95" y="153.66" width="10.85" height="8.24" fill="#fdc229" stroke="#fdc229"/>
<rect x="148.80" y="153.66" width="10.85" height="8.24" fill="#fcce25" stroke="#fcce25"/>
<rect x="159.65" y="153.66" width="10.85" height="8.24" fill="#f9dc24" stroke="#f9dc24"/>
<rect x="170.50" y="153.66" width="10.85" height="8.24" fill="#f6e826" stroke="#f6e826"/>
<rect x="181.35" y="153.66" width="10.85" height="8.24" fill="#f3ee27" stroke="#f3ee27"/>
<rect x="192.20" y="153.66" width="10.85" height="8.24" fill="#f2f227" stroke="#f2f227"/>
<rect x="203.05" y="153.66" width="10.85" height="8.24" fill="#f1f525" stroke="#f1f525"/>
<rect x="213.90" y="153.66" width="10.85" height="8.24" fill="#f0f921" stroke="#f0f921"/>
<rect x="224.75" y="153.66" width="10.85" height="8.24" fill="#f0f921" stroke="#f0f921"/>
<rect x="235.60" y="153.66" width="10.85" height="8.24" fill="#f0f921" stroke="#f0f921"/>
<rect x="246.45" y="153.66" width="10.85" height="8.24" fill="#f0f921" stroke="#f0f921"/>
<rect x="29.45" y="161.91" width="10.85" height="8.24" fill="#330597" stroke="#330597"/>
<rect x="40.30" y="161.91" width="10.85" height="8.24" fill="#330597" stroke="#330597"/>
<rect x="51.15" y="161.91" width="10.85" height="8.24" fill="#330597" stroke="#330597"/>
<rect x="62.00" y="161.91" width="10.85" height="8.24" fill="#4903a0" stroke="#4903a0"/>
<rect x="72.85" y="161.91" width="10.85" height="8.24" fill="#7a02a8" stroke="#7a02a8"/>
<rect x="83.70" y="161.91" width="10.85" height="8.24" fill="#ba3388" stroke="#ba3388"/>
<rect x="94.55" y="161.91" width="10.85" height="8.24" fill="#e16462" stroke="#e16462"/>
<rect x="105.40" y="161.91" width="10.85" height="8.24" fill="#f3874a" stroke="#f3874a"/>
<rect x="116.25" y="161.91" width="10.85" height="8.24" fill="#fca338" stroke="#fca338"/>
<rect x="127.10" y="161.91" width="10.85" height="8.24" fill="#feba2c" stroke="#feba2c"/>
<rect x="137.95" y="161.91" width="10.85" height="8.24" fill="#fdca26" stroke="#fdca26"/>
<rect x="148.80" y="161.91" width="10.85" height="8.24" fill="#fad824" stroke="#fad824"/>
<rect x="159.65" y="161.91" width="10.85" height="8.24" fill="#f7e425" stroke="#f7e425"/>
<rect x="170.50" y="161.91" width="10.85" height="8.24" fill="#f5eb27" stroke="#f5eb27"/>
<rect x="181.35" y="161.91" width="10.85" height="8.24" fill="#f2f227" stroke="#f2f227"/>
<rect x="192.20" y="161.91" width="10.85" height="8.24" fill="#f1f525" stroke="#f1f525"/>
<rect x="203.05" y="161.91" width="10.85" height="8.24" fill="#f0f921" stroke="#f0f921"/>
<rect x="213.90" y="161.91" width="10.85" height="8.24" fill="#f0f921" stroke="#f0f921"/>
<rect x="224.75" y="161.91" width="10.85" height="8.24" fill="#f0f921" stroke="#f0f921"/>
<rect x="235.60" y="161.91" width="10.85" height="8.24" fill="#f0f921" stroke="#f0f921"/>
<rect x="246.45" y="161.91" width="10.85" height="8.24" fill="#f0f921" stroke="#f0f921"/>
<rect x="29.45" y="170.15" width="10.85" height="8.24" fill="#330597" stroke="#330597"/>
<rect x="40.30" y="170.15" width="10.85" height="8.24" fill="#330597" stroke="#330597"/>
<rect x="51.15" y="170.15" width="10.85" height="8.24" fill="#41049d" stroke="#41049d"/>
<rect x="62.00" y="170.15" width="10.85" height="8.24" fill="#7201a8" stroke="#7201a8"/>
<rect x="72.85" y="170.15" width="10.85" height="8.24" fill="#b6308b" stroke="#b6308b"/>
<rect x="83.70" y="170.15" width="10.85" height="8.24" fill="#e16462" stroke="#e16462"/>
<rect x="94.55" y="170.15" width="10.85" height="8.24" fill="#f0804e" stroke="#f0804e"/>
<rect x="105.40" y="170.15" width="10.85" height="8.24" fill="#fa9c3c" stroke="#fa9c3c"/>
<rect x="116.25" y="170.15" width="10.85" height="8.24" fill="#fdb42f" stroke="#fdb42f"/>
<rect x="127.10" y="170.15" width="10.85" height="8.24" fill="#fdc827" stroke="#fdc827"/>
<rect x="137.95" y="170.15" width="10.85" height="8.24" fill="#f6e826" stroke="#f6e826"/>
<rect x="148.80" y="170.15" width="10.85" height="8.24" fill="#f2f227" stroke="#f2f227"/>
<rect x="159.65" y="170.15" width="10.85" height="8.24" fill="#f5eb27" stroke="#f5eb27"/>
<rect x="170.50" y="170.15" width="10.85" height="8.24" fill="#f2f227" stroke="#f2f227"/>
<rect x="181.35" y="170.15" width="10.85" height="8.24" fill="#f0f921" stroke="#f0f921"/>
<rect x="192.20" y="170.15" width="10.85" height="8.24" fill="#f0f921" stroke="#f0f921"/>
<rect x="203.05" y="170.15" width="10.85" height="8.24" fill="#f0f921" stroke="#f0f921"/>
<rect x="213.90" y="170.15" width="10.85" height="8.24" fill="#f0f921" stroke="#f0f921"/>
<rect x="224.75" y="170.15" width="10.85" height="8.24" fill="#f0f921" stroke="#f0f921"/>
<rect x="235.60" y="170.15" width="10.85" height="8.24" fill="#f0f921" stroke="#f0f921"/>
<rect x="246.45" y="170.15" width="10.85" height="8.24" fill="#f0f921" stroke="#f0f921"/>
<rect x="29.45" y="178.40" width="10.85" height="8.24" fill="#330597" stroke="#330597"/>
<rect x="40.30" y="178.40" width="10.85" height="8.24" fill="#3e049c" stroke="#3e049c"/>
<rect x="51.15" y="178.40" width="10.85" height="8.24" fill="#5e01a6" stroke="#5e01a6"/>
<rect x="62.00" y="178.40" width="10.85" height="8.24" fill="#a11b9b" stroke="#a11b9b"/>
<rect x="72.85" y="178.40" width="10.85" height="8.24" fill="#d9586a" stroke="#d9586a"/>
<rect x="83.70" y="178.40" width="10.85" height="8.24" fill="#ef7e50" stroke="#ef7e50"/>
<rect x="94.55" y="178.40" width="10.85" height="8.24" fill="#f89540" stroke="#f89540"/>
<rect x="105.40" y="178.40" width="10.85" height="8.24" fill="#fdab33" stroke="#fdab33"/>
<rect x="116.25" y="178.40" width="10.85" height="8.24" fill="#fec029" stroke="#fec029"/>
<rect x="127.10" y="178.40" width="10.85" height="8.24" fill="#fad824" stroke="#fad824"/>
<rect x="137.95" y="178.40" width="10.85" height="8.24" fill="#f2f227" stroke="#f2f227"/>
<rect x="148.80" y="178.40" width="10.85" height="8.24" fill="#f5eb27" stroke="#f5eb27"/>
<rect x="159.65" y="178.40" width="10.85" height="8.24" fill="#f2f227" stroke="#f2f227"/>
<rect x="170.50" y="178.40" width="10.85" height="8.24" fill="#f0f921" stroke="#f0f921"/>
<rect x="181.35" y="178.40" width="10.85" height="8.24" fill="#f0f921" stroke="#f0f921"/>
<rect x="192.20" y="178.40" width="10.85" height="8.24" fill="#f0f921" stroke="#f0f921"/>
<rect x="203.05" y="178.40" width="10.85" height="8.24" fill="#f0f921" stroke="#f0f921"/>
<rect x="213.90" y="178.40" width="10.85" height="8.24" fill="#f0f921" stroke="#f0f921"/>
<rect x="224.75" y="178.40" width="10.85" height="8.24" fill="#f0f921" stroke="#f0f921"/>
<rect x="235.60" y="178.40" width="10.85" height="8.24" fill="#f0f921" stroke="#f0f921"/>
<rect x="246.45" y="178.40" width="10.85" height="8.24" fill="#f0f921" stroke="#f0f921"/>
<rect x="29.45" y="186.64" width="10.85" height="8.24" fill="#3e049c" stroke="#3e049c"/>
<rect x="40.30" y="186.64" width="10.85" height="8.24" fill="#5102a3" stroke="#5102a3"/>
<rect x="51.15" y="186.64" width="10.85" height="8.24" fill="#8f0da4" stroke="#8f0da4"/>
<rect x="62.00" y="186.64" width="10.85" height="8.24" fill="#cc4778" stroke="#cc4778"/>
<rect x="72.85" y="186.64" width="10.85" height="8.24" fill="#ea7457" stroke="#ea7457"/>
<rect x="83.70" y="186.64" width="10.85" height="8.24" fill="#f89540" stroke="#f89540"/>
<rect x="94.55" y="186.64" width="10.85" height="8.24" fill="#fdab33" stroke="#fdab33"/>
<rect x="105.40" y="186.64" width="10.85" height="8.24" fill="#febe2a" stroke="#febe2a"/>
<rect x="116.25" y="186.64" width="10.85" height="8.24" fill="#fcd225" stroke="#fcd225"/>
<rect x="127.10" y="186.64" width="10.85" height="8.24" fill="#f2f227" stroke="#f2f227"/>
<rect x="137.95" y="186.64" width="10.85" height="8.24" fill="#f5eb27" stroke="#f5eb27"/>
<rect x="148.80" y="186.64" width="10.85" height="8.24" fill="#f2f227" stroke="#f2f227"/>
<rect x="159.65" y="186.64" width="10.85" height="8.24" fill="#f0f921" stroke="#f0f921"/>
<rect x="170.50" y="186.64" width="10.85" height="8.24" fill="#f0f921" stroke="#f0f921"/>
<rect x="181.35" y="186.64" width="10.85" height="8.24" fill="#f0f921" stroke="#f0f921"/>
<rect x="192.20" y="186.64" width="10.85" height="8.24" fill="#f0f921" stroke="#f0f921"/>
<rect x="203.05" y="186.64" width="10.85" height="8.24" fill="#f0f921" stroke="#f0f921"/>
<rect x="213.90" y="186.64" width="10.85" height="8.24" fill="#f0f921" stroke="#f0f921"/>
<rect x="224.75" y="186.64" width="10.85" height="8.24" fill="#f0f921" stroke="#f0f921"/>
<rect x="235.60" y="186.64" width="10.85" height="8.24" fill="#f0f921" stroke="#f0f921"/>
<rect x="246.45" y="186.64" width="10.85" height="8.24" fill="#f0f921" stroke="#f0f921"/>
<rect x="29.45" y="194.89" width="10.85" height="8.24" fill="#5102a3" stroke="#5102a3"/>
<rect x="40.30" y="194.89" width="10.85" height="8.24" fill="#7501a8" stroke="#7501a8"/>
<rect x="51.15" y="194.89" width="10.85" height="8.24" fill="#ba3388" stroke="#ba3388"/>
<rect x="62.00" y="194.89" width="10.85" height="8.24" fill="#e3685f" stroke="#e3685f"/>
<rect x="72.85" y="194.89" width="10.85" height="8.24" fill="#f58b47" stroke="#f58b47"/>
<rect x="83.70" y="194.89" width="10.85" height="8.24" fill="#fca636" stroke="#fca636"/>
<rect x="94.55" y="194.89" width="10.85" height="8.24" fill="#febe2a" stroke="#febe2a"/>
<rect x="105.40" y="194.89" width="10.85" height="8.24" fill="#fcd225" stroke="#fcd225"/>
<rect x="116.25" y="194.89" width="10.85" height="8.24" fill="#f6e826" stroke="#f6e826"/>
<rect x="127.10" y="194.89" width="10.85" height="8.24" fill="#f7e425" stroke="#f7e425"/>
<rect x="137.95" y="194.89" width="10.85" height="8.24" fill="#f2f227" stroke="#f2f227"/>
<rect x="148.80" y="194.89" width="10.85" height="8.24" fill="#f0f921" stroke="#f0f921"/>
<rect x="159.65" y="194.89" width="10.85" height="8.24" fill="#f0f921" stroke="#f0f921"/>
<rect x="170.50" y="194.89" width="10.85" height="8.24" fill="#f0f921" stroke="#f0f921"/>
<rect x="181.35" y="194.89" width="10.85" height="8.24" fill="#f0f921" stroke="#f0f921"/>
<rect x="192.20" y="194.89" width="10.85" height="8.24" fill="#f0f921" stroke="#f0f921"/>
<rect x="203.05" y="194.89" width="10.85" height="8.24" fill="#f0f921" stroke="#f0f921"/>
<rect x="213.90" y="194.89" width="10.85" height="8.24" fill="#f0f921" stroke="#f0f921"/>
<rect x="224.75" y="194.89" width="10.85" height="8.24" fill="#f0f921" stroke="#f0f921"/>
<rect x="235.60" y="194.89" width="10.85" height="8.24" fill="#f0f921" stroke="#f0f921"/>
<rect x="246.45" y="194.89" width="10.85" height="8.24" fill="#f0f921" stroke="#f0f921"/>
<rect x="29.45" y="203.13" width="10.85" height="8.24" fill="#6e00a8" stroke="#6e00a8"/>
<rect x="40.30" y="203.13" width="10.85" height="8.24" fill="#a72197" stroke="#a72197"/>
<rect x="51.15" y="203.13" width="10.85" height="8.24" fill="#d6556d" stroke="#d6556d"/>
<rect x="62.00" y="203.13" width="10.85" height="8.24" fill="#f0804e" stroke="#f0804e"/>
<rect x="72.85" y="203.13" width="10.85" height="8.24" fill="#fa9c3c" stroke="#fa9c3c"/>
<rect x="83.70" y="203.13" width="10.85" height="8.24" fill="#febe2a" stroke="#febe2a"/>
<rect x="94.55" y="203.13" width="10.85" height="8.24" fill="#fcd225" stroke="#fcd225"/>
<rect x="105.40" y="203.13" width="10.85" height="8.24" fill="#f7e425" stroke="#f7e425"/>
<rect x="116.25" y="203.13" width="10.85" height="8.24" fill="#f7e425" stroke="#f7e425"/>
<rect x="127.10" y="203.13" width="10.85" height="8.24" fill="#f2f227" stroke="#f2f227"/>
<rect x="137.95" y="203.13" width="10.85" height="8.24" fill="#f0f921" stroke="#f0f921"/>
<rect x="148.80" y="203.13" width="10.85" height="8.24" fill="#f0f921" stroke="#f0f921"/>
<rect x="159.65" y="203.13" width="10.85" height="8.24" fill="#f0f921" stroke="#f0f921"/>
<rect x="170.50" y="203.13" width="10.85" height="8.24" fill="#f0f921" stroke="#f0f921"/>
<rect x="181.35" y="203.13" width="10.85" height="8.24" fill="#f0f921" stroke="#f0f921"/>
<rect x="192.20" y="203.13" width="10.85" height="8.24" fill="#f0f921" stroke="#f0f921"/>
<rect x="203.05" y="203.13" width="10.85" height="8.24" fill="#f0f921" stroke="#f0f921"/>
<rect x="213.90" y="203.13" width="10.85" height="8.24" fill="#f0f921" stroke="#f0f921"/>
<rect x="224.75" y="203.13" width="10.85" height="8.24" fill="#f0f921" stroke="#f0f921"/>
<rect x="235.60" y="203.13" width="10.85" height="8.24" fill="#f0f921" stroke="#f0f921"/>
<rect x="246.45" y="203.13" width="10.85" height="8.24" fill="#f0f921" stroke="#f0f921"/>
<rect x="29.45" y="211.38" width="10.85" height="8.24" fill="#8f0da4" stroke="#8f0da4"/>
<rect x="40.30" y="211.38" width="10.85" height="8.24" fill="#c6417d" stroke="#c6417d"/>
<rect x="51.15" y="211.38" width="10.85" height="8.24" fill="#e76e5b" stroke="#e76e5b"/>
<rect x="62.00" y="211.38" width="10.85" height="8.24" fill="#f68d45" stroke="#f68d45"/>
<rect x="72.85" y="211.38" width="10.85" height="8.24" fill="#fdae32" stroke="#fdae32"/>
<rect x="83.70" y="211.38" width="10.85" height="8.24" fill="#fdca26" stroke="#fdca26"/>
<rect x="94.55" y="211.38" width="10.85" height="8.24" fill="#f8e125" stroke="#f8e125"/>
<rect x="105.40" y="211.38" width="10.85" height="8.24" fill="#f3ee27" stroke="#f3ee27"/>
<rect x="116.25" y="211.38" width="10.85" height="8.24" fill="#f5eb27" stroke="#f5eb27"/>
<rect x="127.10" y="211.38" width="10.85" height="8.24" fill="#f0f921" stroke="#f0f921"/>
<rect x="137.95" y="211.38" width="10.85" height="8.24" fill="#f0f921" stroke="#f0f921"/>
<rect x="148.80" y="211.38" width="10.85" height="8.24" fill="#f0f921" stroke="#f0f921"/>
<rect x="159.65" y="211.38" width="10.85" height="8.24" fill="#f0f921" stroke="#f0f921"/>
<rect x="170.50" y="211.38" width="10.85" height="8.24" fill="#f0f921" stroke="#f0f921"/>
<rect x="181.35" y="211.38" width="10.85" height="8.24" fill="#f0f921" stroke="#f0f921"/>
<rect x="192.20" y="211.38" width="10.85" height="8.24" fill="#f0f921" stroke="#f0f921"/>
<rect x="203.05" y="211.38" width="10.85" height="8.24" fill="#f0f921" stroke="#f0f921"/>
<rect x="213.90" y="211.38" width="10.85" height="8.24" fill="#f0f921" stroke="#f0f921"/>
<rect x="224.75" y="211.38" width="10.85" height="8.24" fill="#f0f921" stroke="#f0f921"/>
<rect x="235.60" y="211.38" width="10.85" height="8.24" fill="#f0f921" stroke="#f0f921"/>
<rect x="246.45" y="211.38" width="10.85" height="8.24" fill="#f0f921" stroke="#f0f921"/>
<rect x="29.45" y="219.62" width="10.85" height="8.24" fill="#b32c8e" stroke="#b32c8e"/>
<rect x="40.30" y="219.62" width="10.85" height="8.24" fill="#da5b69" stroke="#da5b69"/>
<rect x="51.15" y="219.62" width="10.85" height="8.24" fill="#f0804e" stroke="#f0804e"/>
<rect x="62.00" y="219.62" width="10.85" height="8.24" fill="#fa9c3c" stroke="#fa9c3c"/>
<rect x="72.85" y="219.62" width="10.85" height="8.24" fill="#fdc229" stroke="#fdc229"/>
<rect x="83.70" y="219.62" width="10.85" height="8.24" fill="#f8e125" stroke="#f8e125"/>
<rect x="94.55" y="219.62" width="10.85" height="8.24" fill="#f3ee27" stroke="#f3ee27"/>
<rect x="105.40" y="219.62" width="10.85" height="8.24" fill="#f5eb27" stroke="#f5eb27"/>
<rect x="116.25" y="219.62" width="10.85" height="8.24" fill="#f2f227" stroke="#f2f227"/>
<rect x="127.10" y="219.62" width="10.85" height="8.24" fill="#f0f921" stroke="#f0f921"/>
<rect x="137.95" y="219.62" width="10.85" height="8.24" fill="#f0f921" stroke="#f0f921"/>
<rect x="148.80" y="219.62" width="10.85" height="8.24" fill="#f0f921" stroke="#f0f921"/>
<rect x="159.65" y="219.62" width="10.85" height="8.24" fill="#f0f921" stroke="#f0f921"/>
<rect x="170.50" y="219.62" width="10.85" height="8.24" fill="#f0f921" stroke="#f0f921"/>
<rect x="181.35" y="219.62" width="10.85" height="8.24" fill="#f0f921" stroke="#f0f921"/>
<rect x="192.20" y="219.62" width="10.85" height="8.24" fill="#f0f921" stroke="#f0f921"/>
<rect x="203.05" y="219.62" width="10.85" height="8.24" fill="#f0f921" stroke="#f0f921"/>
<rect x="213.90" y="219.62" width="10.85" height="8.24" fill="#f0f921" stroke="#f0f921"/>
<rect x="224.75" y="219.62" width="10.85" height="8.24" fill="#f0f921" stroke="#f0f921"/>
<rect x="235.60" y="219.62" width="10.85" height="8.24" fill="#f0f921" stroke="#f0f921"/>
<rect x="246.45" y="219.62" width="10.85" height="8.24" fill="#f0f921" stroke="#f0f921"/>
<rect x="29.45" y="227.87" width="10.85" height="8.24" fill="#c43e7f" stroke="#c43e7f"/>
<rect x="40.30" y="227.87" width="10.85" height="8.24" fill="#e56a5d" stroke="#e56a5d"/>
<rect x="51.15" y="227.87" width="10.85" height="8.24" fill="#f58b47" stroke="#f58b47"/>
<rect x="62.00" y="227.87" width="10.85" height="8.24" fill="#fdae32" stroke="#fdae32"/>
<rect x="72.85" y="227.87" width="10.85" height="8.24" fill="#fcd225" stroke="#fcd225"/>
<rect x="83.70" y="227.87" width="10.85" height="8.24" fill="#f3ee27" stroke="#f3ee27"/>
<rect x="94.55" y="227.87" width="10.85" height="8.24" fill="#f5eb27" stroke="#f5eb27"/>
<rect x="105.40" y="227.87" width="10.85" height="8.24" fill="#f2f227" stroke="#f2f227"/>
<rect x="116.25" y="227.87" width="10.85" height="8.24" fill="#f0f921" stroke="#f0f921"/>
<rect x="127.10" y="227.87" width="10.85" height="8.24" fill="#f0f921" stroke="#f0f921"/>
<rect x="137.95" y="227.87" width="10.85" height="8.24" fill="#f0f921" stroke="#f0f921"/>
<rect x="148.80" y="227.87" width="10.85" height="8.24" fill="#f0f921" stroke="#f0f921"/>
<rect x="159.65" y="227.87" width="10.85" height="8.24" fill="#f0f921" stroke="#f0f921"/>
<rect x="170.50" y="227.87" width="10.85" height="8.24" fill="#f0f921" stroke="#f0f921"/>
<rect x="181.35" y="227.87" width="10.85" height="8.24" fill="#f0f921" stroke="#f0f921"/>
<rect x="192.20" y="227.87" width="10.85" height="8.24" fill="#f0f921" stroke="#f0f921"/>
<rect x="203.05" y="227.87" width="10.85" height="8.24" fill="#f0f921" stroke="#f0f921"/>
<rect x="213.90" y="227.87" width="10.85" height="8.24" fill="#f0f921" stroke="#f0f921"/>
<rect x="224.75" y="227.87" width="10.85" height="8.24" fill="#f0f921" stroke="#f0f921"/>
<rect x="235.60" y="227.87" width="10.85" height="8.24" fill="#f0f921" stroke="#f0f921"/>
<rect x="246.45" y="227.87" width="10.85" height="8.24" fill="#f0f921" stroke="#f0f921"/>
<rect x="29.45" y="236.11" width="10.85" height="8.24" fill="#cc4778" stroke="#cc4778"/>
<rect x="40.30" y="236.11" width="10.85" height="8.24" fill="#e87059" stroke="#e87059"/>
<rect x="51.15" y="236.11" width="10.85" height="8.24" fill="#f89540" stroke="#f89540"/>
<rect x="62.00" y="236.11" width="10.85" height="8.24" fill="#fdc229" stroke="#fdc229"/>
<rect x="72.85" y="236.11" width="10.85" height="8.24" fill="#f8e125" stroke="#f8e125"/>
<rect x="83.70" y="236.11" width="10.85" height="8.24" fill="#f6e826" stroke="#f6e826"/>
<rect x="94.55" y="236.11" width="10.85" height="8.24" fill="#f5eb27" stroke="#f5eb27"/>
<rect x="105.40" y="236.11" width="10.85" height="8.24" fill="#f2f227" stroke="#f2f227"/>
<rect x="116.25" y="236.11" width="10.85" height="8.24" fill="#f0f921" stroke="#f0f921"/>
<rect x="127.10" y="236.11" width="10.85" height="8.24" fill="#f0f921" stroke="#f0f921"/>
<rect x="137.95" y="236.11" width="10.85" height="8.24" fill="#f0f921" stroke="#f0f921"/>
<rect x="148.80" y="236.11" width="10.85" height="8.24" fill="#f0f921" stroke="#f0f921"/>
<rect x="159.65" y="236.11" width="10.85" height="8.24" fill="#f0f921" stroke="#f0f921"/>
<rect x="170.50" y="236.11" width="10.85" height="8.24" fill="#f0f921" stroke="#f0f921"/>
<rect x="181.35" y="236.11" width="10.85" height="8.24" fill="#f0f921" stroke="#f0f921"/>
<rect x="192.20" y="236.11" width="10.85" height="8.24" fill="#f0f921" stroke="#f0f921"/>
<rect x="203.05" y="236.11" width="10.85" height="8.24" fill="#f0f921" stroke="#f0f921"/>
<rect x="213.90" y="236.11" width="10.85" height="8.24" fill="#f0f921" stroke="#f0f921"/>
<rect x="224.75" y="236.11" width="10.85" height="8.24" fill="#f0f921" stroke="#f0f921"/>
<rect x="235.60" y="236.11" width="10.85" height="8.24" fill="#f0f921" stroke="#f0f921"/>
<rect x="246.45" y="236.11" width="10.85" height="8.24" fill="#f0f921" stroke="#f0f921"/>
<rect x="29.45" y="244.36" width="10.85" height="8.24" fill="#bf3984" stroke="#bf3984"/>
<rect x="40.30" y="244.36" width="10.85" height="8.24" fill="#e76e5b" stroke="#e76e5b"/>
<rect x="51.15" y="244.36" width="10.85" height="8.24" fill="#f58b47" stroke="#f58b47"/>
<rect x="62.00" y="244.36" width="10.85" height="8.24" fill="#fdb22f" stroke="#fdb22f"/>
<rect x="72.85" y="244.36" width="10.85" height="8.24" fill="#fcd225" stroke="#fcd225"/>
<rect x="83.70" y="244.36" width="10.85" height="8.24" fill="#f5eb27" stroke="#f5eb27"/>
<rect x="94.55" y="244.36" width="10.85" height="8.24" fill="#f5eb27" stroke="#f5eb27"/>
<rect x="105.40" y="244.36" width="10.85" height="8.24" fill="#f2f227" stroke="#f2f227"/>
<rect x="116.25" y="244.36" width="10.85" height="8.24" fill="#f0f921" stroke="#f0f921"/>
<rect x="127.10" y="244.36" width="10.85" height="8.24" fill="#f0f921" stroke="#f0f921"/>
<rect x="137.95" y="244.36" width="10.85" height="8.24" fill="#f0f921" stroke="#f0f921"/>
<rect x="148.80" y="244.36" width="10.85" height="8.24" fill="#f0f921" stroke="#f0f921"/>
<rect x="159.65" y="244.36" width="10.85" height="8.24" fill="#f0f921" stroke="#f0f921"/>
<rect x="170.50" y="244.36" width="10.85" height="8.24" fill="#f0f921" stroke="#f0f921"/>
<rect x="181.35" y="244.36" width="10.85" height="8.24" fill="#f0f921" stroke="#f0f921"/>
<rect x="192.20" y="244.36" width="10.85" height="8.24" fill="#f0f921" stroke="#f0f921"/>
<rect x="203.05" y="244.36" width="10.85" height="8.24" fill="#f0f921" stroke="#f0f921"/>
<rect x="213.90" y="244.36" width="10.85" height="8.24" fill="#f0f921" stroke="#f0f921"/>
<rect x="224.75" y="244.36" width="10.85" height="8.24" fill="#f0f921" stroke="#f0f921"/>
<rect x="235.60" y="244.36" width="10.85" height="8.24" fill="#f0f921" stroke="#f0f921"/>
<rect x="246.45" y="244.36" width="10.85" height="8.24" fill="#f0f921" stroke="#f0f921"/>
</g>
<g clip-path="url(#cp)" fill="none" stroke="#000">
<path d="M34.60,173.61 L37.31,171.65 L40.02,169.65 L42.74,167.60 L45.45,165.51 L48.16,163.36 L50.88,161.17 L53.59,158.92 L56.30,156.63 L59.01,154.28 L61.73,151.87 L64.44,149.41 L67.15,146.89 L69.86,144.31 L72.58,141.68 L75.29,138.98 L78.00,136.21 L80.71,133.39 L83.43,130.50 L86.14,127.54 L88.85,124.51 L91.56,121.41 L94.28,118.24 L96.99,114.99 L99.70,111.67 L102.41,108.27 L105.12,104.80 L107.84,101.24 L110.55,97.60 L113.26,93.87 L115.97,90.06 L118.69,86.16 L121.40,82.17 L124.11,78.08 L126.82,73.90 L129.54,69.62 L132.25,65.25 L134.96,60.77 L137.68,56.18 L140.39,51.49 L143.10,46.69 L145.81,41.78 L148.53,36.76 L151.24,31.61 L153.95,26.35 L156.66,20.96 L159.38,15.45 L162.09,9.81 L164.80,4.04 L167.51,-1.86 L170.22,-7.90 L172.94,-14.09 L175.65,-20.41 L178.36,-26.89 L181.07,-33.51 L183.79,-40.29 L186.50,-47.23 L189.21,-54.33 L191.92,-61.60 L194.64,-69.03 L197.35,-76.64 L200.06,-84.42 L202.78,-92.39 L205.49,-100.54 L208.20,-108.88 L210.91,-117.41 L213.62,-126.15 L216.34,-135.08 L219.05,-144.23 L221.76,-153.59 L224.47,-163.17 L227.19,-172.97 L229.90,-182.99 L232.61,-193.25 L235.32,-203.76 L238.04,-214.50 L240.75,-225.50 L243.46,-236.75 L246.17,-248.26 L248.89,-260.04 L251.60,-272.10" stroke-width="1.5"/>
<path d="M34.60,203.80 L37.31,202.54 L40.02,201.24 L42.74,199.92 L45.45,198.56 L48.16,197.17 L50.88,195.75 L53.59,194.29 L56.30,192.80 L59.01,191.28 L61.73,189.72 L64.44,188.12 L67.15,186.49 L69.86,184.82 L72.58,183.10 L75.29,181.35 L78.00,179.56 L80.71,177.72 L83.43,175.84 L86.14,173.92 L88.85,171.95 L91.56,169.94 L94.28,167.87 L96.99,165.76 L99.70,163.60 L102.41,161.39 L105.12,159.13 L107.84,156.81 L110.55,154.44 L113.26,152.01 L115.97,149.53 L118.69,146.98 L121.40,144.38 L124.11,141.72 L126.82,138.99 L129.54,136.20 L132.25,133.34 L134.96,130.42 L137.68,127.43 L140.39,124.36 L143.10,121.23 L145.81,118.02 L148.53,114.73 L151.24,111.37 L153.95,107.93 L156.66,104.41 L159.38,100.80 L162.09,97.11 L164.80,93.34 L167.51,89.47 L170.22,85.51 L172.94,81.46 L175.65,77.32 L178.36,73.08 L181.07,68.73 L183.79,64.29 L186.50,59.74 L189.21,55.08 L191.92,50.32 L194.64,45.44 L197.35,40.45 L200.06,35.34 L202.78,30.10 L205.49,24.75 L208.20,19.27 L210.91,13.66 L213.62,7.92 L216.34,2.04 L219.05,-3.97 L221.76,-10.13 L224.47,-16.43 L227.19,-22.88 L229.90,-29.48 L232.61,-36.24 L235.32,-43.15 L238.04,-50.23 L240.75,-57.48 L243.46,-64.89 L246.17,-72.48 L248.89,-80.25 L251.60,-88.20" stroke-width="1.7" stroke-linecap="round" stroke-dasharray="0.01,3.85"/>
<path d="M34.60,230.99 L37.31,230.37 L40.02,229.73 L42.74,229.09 L45.45,228.42 L48.16,227.74 L50.88,227.05 L53.59,226.34 L56.30,225.61 L59.01,224.87 L61.73,224.11 L64.44,223.33 L67.15,222.53 L69.86,221.71 L72.58,220.88 L75.29,220.03 L78.00,219.15 L80.71,218.26 L83.43,217.34 L86.14,216.41 L88.85,215.45 L91.56,214.47 L94.28,213.46 L96.99,212.44 L99.70,211.39 L102.41,210.31 L105.12,209.21 L107.84,208.08 L110.55,206.93 L113.26,205.75 L115.97,204.55 L118.69,203.31 L121.40,202.05 L124.11,200.76 L126.82,199.43 L129.54,198.08 L132.25,196.69 L134.96,195.28 L137.68,193.83 L140.39,192.34 L143.10,190.82 L145.81,189.27 L148.53,187.68 L151.24,186.05 L153.95,184.38 L156.66,182.68 L159.38,180.94 L162.09,179.15 L164.80,177.32 L167.51,175.46 L170.22,173.54 L172.94,171.59 L175.65,169.59 L178.36,167.54 L181.07,165.44 L183.79,163.29 L186.50,161.10 L189.21,158.85 L191.92,156.55 L194.64,154.20 L197.35,151.79 L200.06,149.33 L202.78,146.81 L205.49,144.23 L208.20,141.59 L210.91,138.89 L213.62,136.12 L216.34,133.30 L219.05,130.40 L221.76,127.44 L224.47,124.41 L227.19,121.31 L229.90,118.13 L232.61,114.89 L235.32,111.56 L238.04,108.16 L240.75,104.68 L243.46,101.12 L246.17,97.48 L248.89,93.75 L251.60,89.94" stroke-width="1.5"/>
<path d="M34.6,177.7 L251.6,177.7" stroke-width="1.5" stroke-dasharray="5.4,2.34"/>
</g>
<g font-family="'Liberation Serif', 'Times New Roman', serif" stroke="#000" stroke-width="0.12" font-size="10.3" fill="#000" text-anchor="middle">
<text transform="translate(108.6,90.4) rotate(-50.5)" y="3.5">26.23</text>
<text transform="translate(153.2,98.9) rotate(-48)" y="3.5">24.59</text>
<text transform="translate(241.0,94.3) rotate(-49)" y="3.5">23.73</text>
</g>
<rect x="34.6" y="13.5" width="217.0" height="239.1" fill="none" stroke="#000" stroke-width="1.5"/>
<g stroke="#000" stroke-width="1.1">
<path d="M34.60,252.6 v-3.2"/>
<path d="M34.60,13.5 v3.2"/>
<path d="M88.85,252.6 v-3.2"/>
<path d="M88.85,13.5 v3.2"/>
<path d="M143.10,252.6 v-3.2"/>
<path d="M143.10,13.5 v3.2"/>
<path d="M197.35,252.6 v-3.2"/>
<path d="M197.35,13.5 v3.2"/>
<path d="M251.60,252.6 v-3.2"/>
<path d="M251.60,13.5 v3.2"/>
<path d="M34.6,216.30 h3.2"/>
<path d="M34.6,175.05 h3.2"/>
<path d="M34.6,133.80 h3.2"/>
<path d="M34.6,92.55 h3.2"/>
<path d="M34.6,51.30 h3.2"/>
<path d="M251.6,230.76 h-3.2"/>
<path d="M251.6,203.98 h-3.2"/>
<path d="M251.6,177.19 h-3.2"/>
<path d="M251.6,150.41 h-3.2"/>
<path d="M251.6,123.62 h-3.2"/>
<path d="M251.6,96.84 h-3.2"/>
<path d="M251.6,70.05 h-3.2"/>
<path d="M251.6,43.26 h-3.2"/>
<path d="M251.6,16.48 h-3.2"/>
</g>
<g font-family="'Liberation Serif', 'Times New Roman', serif" stroke="#000" stroke-width="0.12" font-size="11" fill="#000">
<text x="34.60" y="264.3" text-anchor="middle">27</text>
<text x="88.85" y="264.3" text-anchor="middle">26</text>
<text x="143.10" y="264.3" text-anchor="middle">25</text>
<text x="197.35" y="264.3" text-anchor="middle">24</text>
<text x="251.60" y="264.3" text-anchor="middle">23</text>
<text x="32.2" y="220.30" text-anchor="end">0.1</text>
<text x="32.2" y="179.05" text-anchor="end">0.2</text>
<text x="32.2" y="137.80" text-anchor="end">0.3</text>
<text x="32.2" y="96.55" text-anchor="end">0.4</text>
<text x="32.2" y="55.30" text-anchor="end">0.5</text>
<text x="253.2" y="234.86">0.5</text>
<text x="253.2" y="208.08">1.0</text>
<text x="253.2" y="181.29">1.5</text>
<text x="253.2" y="154.51">2.0</text>
<text x="253.2" y="127.72">2.5</text>
<text x="253.2" y="100.94">3.0</text>
<text x="253.2" y="74.15">3.5</text>
<text x="253.2" y="47.36">4.0</text>
<text x="253.2" y="20.58">4.5</text>
</g>
<g font-family="'Liberation Serif', 'Times New Roman', serif" stroke="#000" stroke-width="0.12" font-size="14" fill="#000" text-anchor="middle">
<text x="142.8" y="10.8" font-size="14.4">TDF</text>
<text x="142.6" y="279.5" font-size="14.2">Magnitude</text>
<text transform="translate(11.9,134.5) rotate(-90)" font-size="15.2"><tspan font-style="italic">r</tspan><tspan font-style="italic" font-size="10.6" dy="3">e</tspan><tspan dy="-3">(&#8243;)</tspan></text>
<text transform="translate(281.8,134) rotate(-90)" font-size="15.2"><tspan font-style="italic">r</tspan><tspan font-style="italic" font-size="10.6" dy="3">e</tspan><tspan dy="-3"> (kpc)</tspan></text>
<text transform="translate(332.8,133.2) rotate(-90)" font-size="12.7">Completeness</text>
</g>
<rect x="295.0" y="13.5" width="11.0" height="239.1" fill="url(#cb)" stroke="#000" stroke-width="1.4"/>
<g stroke="#000" stroke-width="1.1">
<path d="M306.0,204.78 h-3.2"/>
<path d="M306.0,156.96 h-3.2"/>
<path d="M306.0,109.14 h-3.2"/>
<path d="M306.0,61.32 h-3.2"/>
</g>
<g font-family="'Liberation Serif', 'Times New Roman', serif" stroke="#000" stroke-width="0.12" font-size="11" fill="#000">
<text x="307.8" y="256.70">0.0</text>
<text x="307.8" y="208.88">0.2</text>
<text x="307.8" y="161.06">0.4</text>
<text x="307.8" y="113.24">0.6</text>
<text x="307.8" y="65.42">0.8</text>
<text x="307.8" y="17.60">1.0</text>
</g>
</g>
</svg>
</body></html>
